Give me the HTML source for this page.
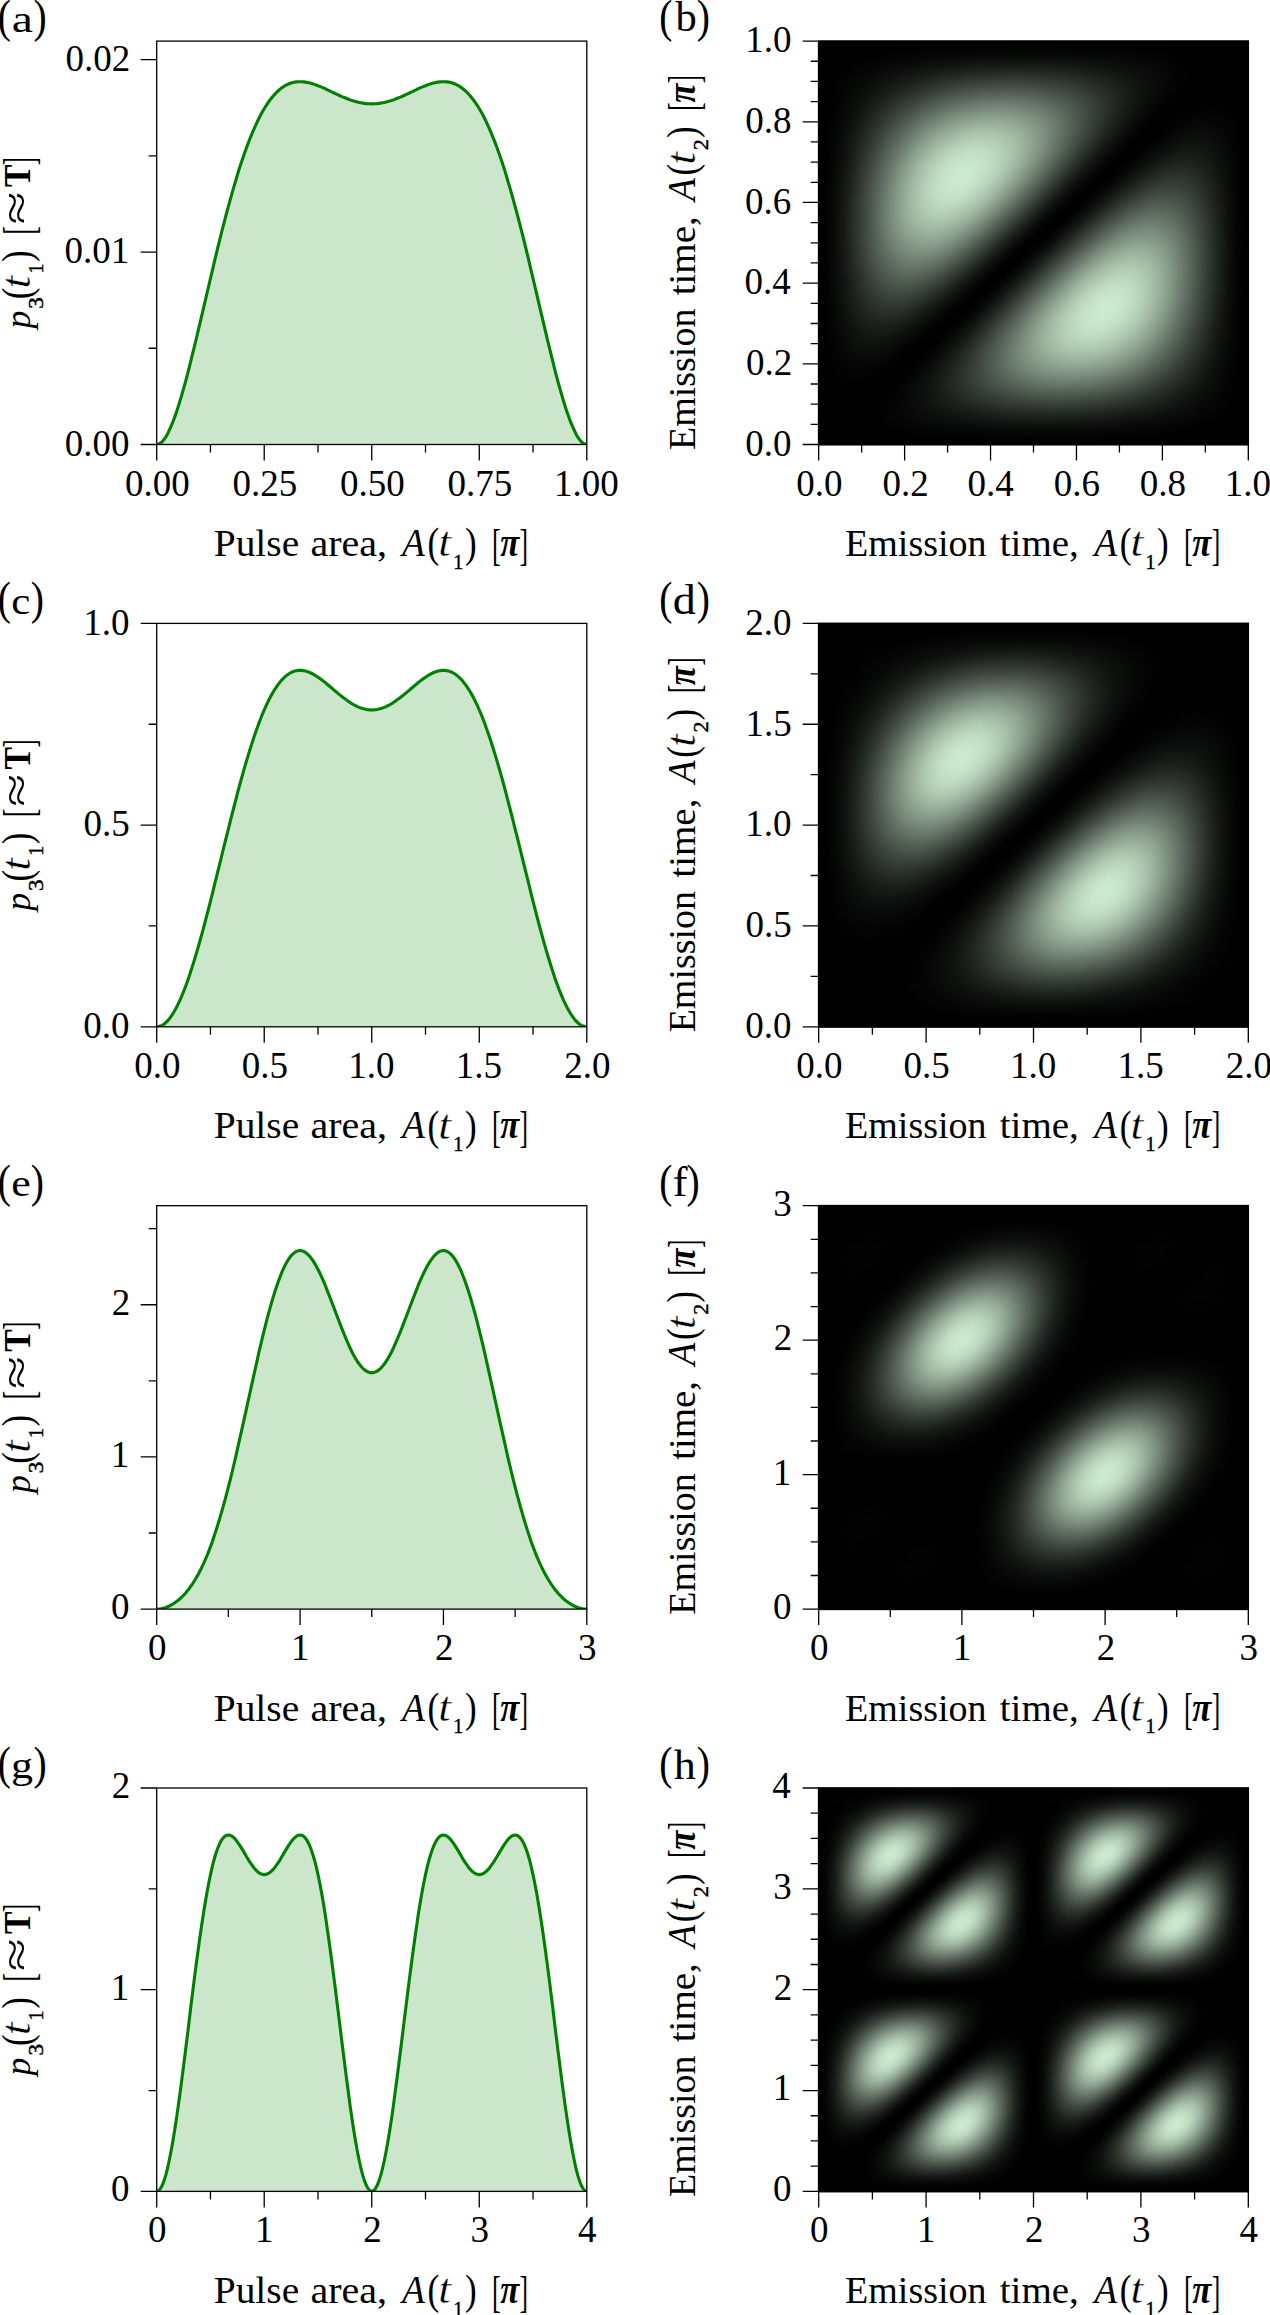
<!DOCTYPE html>
<html lang="en"><head><meta charset="utf-8"><title>Figure</title>
<style>html,body{margin:0;padding:0;background:#fff}svg{display:block}.r,.i,.b,.bi{font-family:"Liberation Serif",serif}.i,.bi{font-style:italic}.b,.bi{font-weight:bold}.sb{font-family:"Liberation Sans",sans-serif;font-weight:bold}</style></head>
<body>
<svg width="1270" height="2315" viewBox="0 0 1270 2315">
<defs>
<linearGradient id="h1r1"><stop offset="0" stop-color="#000000"/><stop offset=".49" stop-color="#030403"/><stop offset="1" stop-color="#000000"/></linearGradient>
<linearGradient id="h1r2"><stop offset="0" stop-color="#000000"/><stop offset=".12" stop-color="#020202"/><stop offset=".3725" stop-color="#0b0c0b"/><stop offset=".48" stop-color="#0c0e0c"/><stop offset=".6025" stop-color="#0a0c0b"/><stop offset=".865" stop-color="#010101"/><stop offset="1" stop-color="#000000"/></linearGradient>
<linearGradient id="h1r3"><stop offset="0" stop-color="#000000"/><stop offset=".0575" stop-color="#010101"/><stop offset=".1175" stop-color="#040404"/><stop offset=".3625" stop-color="#171a17"/><stop offset=".4675" stop-color="#1a1d1a"/><stop offset=".5275" stop-color="#191c19"/><stop offset=".59" stop-color="#161916"/><stop offset=".8525" stop-color="#020202"/><stop offset=".915" stop-color="#000000"/><stop offset="1" stop-color="#000000"/></linearGradient>
<linearGradient id="h1r4"><stop offset="0" stop-color="#000000"/><stop offset=".055" stop-color="#020202"/><stop offset=".115" stop-color="#070707"/><stop offset=".2925" stop-color="#1e231f"/><stop offset=".355" stop-color="#252b26"/><stop offset=".4075" stop-color="#292f2a"/><stop offset=".4575" stop-color="#2a302b"/><stop offset=".515" stop-color="#292f29"/><stop offset=".5775" stop-color="#242924"/><stop offset=".7675" stop-color="#0b0c0b"/><stop offset=".8375" stop-color="#030403"/><stop offset=".8975" stop-color="#000000"/><stop offset="1" stop-color="#000000"/></linearGradient>
<linearGradient id="h1r5"><stop offset="0" stop-color="#000000"/><stop offset=".0525" stop-color="#020302"/><stop offset=".11" stop-color="#090b09"/><stop offset=".1625" stop-color="#131513"/><stop offset=".285" stop-color="#2c322c"/><stop offset=".345" stop-color="#363e36"/><stop offset=".3975" stop-color="#3b443c"/><stop offset=".4475" stop-color="#3d463e"/><stop offset=".505" stop-color="#3b433c"/><stop offset=".565" stop-color="#343b34"/><stop offset=".62" stop-color="#2a302b"/><stop offset=".7525" stop-color="#0f110f"/><stop offset=".8225" stop-color="#040504"/><stop offset=".8825" stop-color="#000000"/><stop offset="1" stop-color="#000000"/></linearGradient>
<linearGradient id="h1r6"><stop offset="0" stop-color="#000000"/><stop offset=".0525" stop-color="#030403"/><stop offset=".1075" stop-color="#0c0e0c"/><stop offset=".16" stop-color="#191d19"/><stop offset=".2775" stop-color="#3a423b"/><stop offset=".3375" stop-color="#475248"/><stop offset=".3875" stop-color="#4e5a50"/><stop offset=".4375" stop-color="#515d52"/><stop offset=".4925" stop-color="#4e594f"/><stop offset=".5525" stop-color="#444e45"/><stop offset=".6075" stop-color="#373f38"/><stop offset=".7375" stop-color="#131614"/><stop offset=".775" stop-color="#0b0c0b"/><stop offset=".8075" stop-color="#050605"/><stop offset=".8625" stop-color="#000000"/><stop offset=".9375" stop-color="#010101"/><stop offset="1" stop-color="#000000"/></linearGradient>
<linearGradient id="h1r7"><stop offset="0" stop-color="#000000"/><stop offset=".025" stop-color="#010101"/><stop offset=".05" stop-color="#040404"/><stop offset=".105" stop-color="#101210"/><stop offset=".155" stop-color="#1f2420"/><stop offset=".27" stop-color="#485349"/><stop offset=".3275" stop-color="#59665a"/><stop offset=".3775" stop-color="#627063"/><stop offset=".4275" stop-color="#657467"/><stop offset=".455" stop-color="#647366"/><stop offset=".4825" stop-color="#616f63"/><stop offset=".54" stop-color="#556257"/><stop offset=".595" stop-color="#454f46"/><stop offset=".7225" stop-color="#171b18"/><stop offset=".76" stop-color="#0d0f0d"/><stop offset=".7925" stop-color="#060706"/><stop offset=".82" stop-color="#020202"/><stop offset=".845" stop-color="#000000"/><stop offset=".9275" stop-color="#020202"/><stop offset="1" stop-color="#000000"/></linearGradient>
<linearGradient id="h1r8"><stop offset="0" stop-color="#000000"/><stop offset=".0225" stop-color="#010101"/><stop offset=".0475" stop-color="#040504"/><stop offset=".0725" stop-color="#0a0b0a"/><stop offset=".1" stop-color="#121512"/><stop offset=".15" stop-color="#252a26"/><stop offset=".2625" stop-color="#566357"/><stop offset=".32" stop-color="#6a7a6c"/><stop offset=".37" stop-color="#758677"/><stop offset=".395" stop-color="#788a7a"/><stop offset=".4175" stop-color="#798a7a"/><stop offset=".4425" stop-color="#788979"/><stop offset=".47" stop-color="#748576"/><stop offset=".4975" stop-color="#6e7f70"/><stop offset=".5275" stop-color="#667567"/><stop offset=".58" stop-color="#525e54"/><stop offset=".7075" stop-color="#1b1f1c"/><stop offset=".745" stop-color="#0e100e"/><stop offset=".7775" stop-color="#060706"/><stop offset=".8025" stop-color="#020202"/><stop offset=".8275" stop-color="#000000"/><stop offset=".9175" stop-color="#040404"/><stop offset="1" stop-color="#000000"/></linearGradient>
<linearGradient id="h1r9"><stop offset="0" stop-color="#000000"/><stop offset=".0225" stop-color="#010101"/><stop offset=".0475" stop-color="#050605"/><stop offset=".0725" stop-color="#0c0e0c"/><stop offset=".0975" stop-color="#151815"/><stop offset=".145" stop-color="#2a312b"/><stop offset=".255" stop-color="#637265"/><stop offset=".2825" stop-color="#6f8071"/><stop offset=".31" stop-color="#7a8c7c"/><stop offset=".335" stop-color="#829583"/><stop offset=".3575" stop-color="#879a89"/><stop offset=".3825" stop-color="#8a9e8c"/><stop offset=".405" stop-color="#8ba08d"/><stop offset=".43" stop-color="#8a9e8c"/><stop offset=".4575" stop-color="#869a88"/><stop offset=".485" stop-color="#809281"/><stop offset=".5125" stop-color="#768878"/><stop offset=".565" stop-color="#606e61"/><stop offset=".6575" stop-color="#2f3630"/><stop offset=".6925" stop-color="#1e231f"/><stop offset=".7275" stop-color="#101310"/><stop offset=".76" stop-color="#060707"/><stop offset=".785" stop-color="#020202"/><stop offset=".8075" stop-color="#000000"/><stop offset=".9075" stop-color="#060606"/><stop offset="1" stop-color="#000000"/></linearGradient>
<linearGradient id="h1r10"><stop offset="0" stop-color="#000000"/><stop offset=".0225" stop-color="#010202"/><stop offset=".045" stop-color="#060706"/><stop offset=".07" stop-color="#0d0f0e"/><stop offset=".095" stop-color="#181b18"/><stop offset=".14" stop-color="#2f3630"/><stop offset=".2475" stop-color="#6f7f70"/><stop offset=".275" stop-color="#7d8f7f"/><stop offset=".3025" stop-color="#899d8b"/><stop offset=".3275" stop-color="#92a794"/><stop offset=".35" stop-color="#97ad9a"/><stop offset=".3725" stop-color="#9bb19d"/><stop offset=".395" stop-color="#9cb39e"/><stop offset=".42" stop-color="#9bb19d"/><stop offset=".445" stop-color="#97ad99"/><stop offset=".4725" stop-color="#8fa491"/><stop offset=".5" stop-color="#859887"/><stop offset=".525" stop-color="#798b7b"/><stop offset=".5525" stop-color="#6a7a6c"/><stop offset=".6425" stop-color="#343c35"/><stop offset=".6775" stop-color="#212621"/><stop offset=".7125" stop-color="#111311"/><stop offset=".745" stop-color="#060706"/><stop offset=".77" stop-color="#010201"/><stop offset=".795" stop-color="#000000"/><stop offset=".87" stop-color="#070807"/><stop offset=".9025" stop-color="#080908"/><stop offset="1" stop-color="#000000"/></linearGradient>
<linearGradient id="h1r11"><stop offset="0" stop-color="#000000"/><stop offset=".02" stop-color="#010201"/><stop offset=".0425" stop-color="#060706"/><stop offset=".065" stop-color="#0e100e"/><stop offset=".09" stop-color="#191c19"/><stop offset=".135" stop-color="#333a34"/><stop offset=".24" stop-color="#798b7b"/><stop offset=".2675" stop-color="#899d8b"/><stop offset=".2925" stop-color="#95ab97"/><stop offset=".3175" stop-color="#9fb6a1"/><stop offset=".34" stop-color="#a5bea8"/><stop offset=".3625" stop-color="#a9c2ac"/><stop offset=".385" stop-color="#abc4ad"/><stop offset=".41" stop-color="#a9c2ac"/><stop offset=".435" stop-color="#a4bda7"/><stop offset=".46" stop-color="#9db49f"/><stop offset=".4875" stop-color="#91a693"/><stop offset=".5125" stop-color="#849786"/><stop offset=".5375" stop-color="#758677"/><stop offset=".625" stop-color="#3a433b"/><stop offset=".66" stop-color="#242925"/><stop offset=".695" stop-color="#121512"/><stop offset=".7275" stop-color="#060706"/><stop offset=".7525" stop-color="#010101"/><stop offset=".775" stop-color="#000000"/><stop offset=".7975" stop-color="#020202"/><stop offset=".855" stop-color="#0a0c0a"/><stop offset=".8925" stop-color="#0c0d0c"/><stop offset=".9175" stop-color="#0a0b0a"/><stop offset=".975" stop-color="#020202"/><stop offset="1" stop-color="#000000"/></linearGradient>
<linearGradient id="h1r12"><stop offset="0" stop-color="#000000"/><stop offset=".02" stop-color="#020202"/><stop offset=".0425" stop-color="#070807"/><stop offset=".065" stop-color="#0f1210"/><stop offset=".0875" stop-color="#1b1f1b"/><stop offset=".13" stop-color="#363e37"/><stop offset=".2325" stop-color="#819483"/><stop offset=".26" stop-color="#93a895"/><stop offset=".285" stop-color="#a0b8a3"/><stop offset=".3075" stop-color="#aac3ac"/><stop offset=".33" stop-color="#b1cbb4"/><stop offset=".3525" stop-color="#b6d0b8"/><stop offset=".375" stop-color="#b7d2ba"/><stop offset=".3975" stop-color="#b6d0b8"/><stop offset=".4225" stop-color="#b1cab3"/><stop offset=".4475" stop-color="#a8c1ab"/><stop offset=".475" stop-color="#9bb29d"/><stop offset=".4975" stop-color="#8ea390"/><stop offset=".5225" stop-color="#7e9080"/><stop offset=".61" stop-color="#3d463e"/><stop offset=".645" stop-color="#252b26"/><stop offset=".68" stop-color="#121412"/><stop offset=".71" stop-color="#060706"/><stop offset=".735" stop-color="#010101"/><stop offset=".7575" stop-color="#000000"/><stop offset=".78" stop-color="#030303"/><stop offset=".8425" stop-color="#0e100e"/><stop offset=".88" stop-color="#101310"/><stop offset=".91" stop-color="#0e100e"/><stop offset=".9725" stop-color="#020302"/><stop offset="1" stop-color="#000000"/></linearGradient>
<linearGradient id="h1r13"><stop offset="0" stop-color="#000000"/><stop offset=".02" stop-color="#020202"/><stop offset=".04" stop-color="#070807"/><stop offset=".0625" stop-color="#101210"/><stop offset=".085" stop-color="#1c211d"/><stop offset=".1275" stop-color="#3a433b"/><stop offset=".2275" stop-color="#899e8b"/><stop offset=".2525" stop-color="#9bb19d"/><stop offset=".2775" stop-color="#a9c2ac"/><stop offset=".3" stop-color="#b3ceb6"/><stop offset=".3225" stop-color="#bbd6be"/><stop offset=".345" stop-color="#bfdbc2"/><stop offset=".365" stop-color="#c1ddc4"/><stop offset=".3875" stop-color="#bfdbc2"/><stop offset=".4125" stop-color="#b9d4bc"/><stop offset=".4375" stop-color="#b0cab3"/><stop offset=".4625" stop-color="#a3bba6"/><stop offset=".485" stop-color="#95ab97"/><stop offset=".51" stop-color="#839685"/><stop offset=".595" stop-color="#3f4940"/><stop offset=".6275" stop-color="#272d28"/><stop offset=".6625" stop-color="#121512"/><stop offset=".6925" stop-color="#060706"/><stop offset=".7175" stop-color="#010101"/><stop offset=".74" stop-color="#000101"/><stop offset=".7625" stop-color="#040504"/><stop offset=".8275" stop-color="#121513"/><stop offset=".8475" stop-color="#151815"/><stop offset=".8675" stop-color="#161916"/><stop offset=".9025" stop-color="#121513"/><stop offset=".9725" stop-color="#030303"/><stop offset="1" stop-color="#000000"/></linearGradient>
<linearGradient id="h1r14"><stop offset="0" stop-color="#000000"/><stop offset=".02" stop-color="#020202"/><stop offset=".04" stop-color="#080908"/><stop offset=".06" stop-color="#101311"/><stop offset=".0825" stop-color="#1e221e"/><stop offset=".1225" stop-color="#3b443c"/><stop offset=".2175" stop-color="#8ca08e"/><stop offset=".2425" stop-color="#9eb6a1"/><stop offset=".2675" stop-color="#aec8b1"/><stop offset=".29" stop-color="#b9d4bc"/><stop offset=".3125" stop-color="#c1dec4"/><stop offset=".335" stop-color="#c6e3c9"/><stop offset=".355" stop-color="#c8e5ca"/><stop offset=".3775" stop-color="#c6e3c9"/><stop offset=".4025" stop-color="#bfdbc2"/><stop offset=".425" stop-color="#b6d1b9"/><stop offset=".45" stop-color="#a9c1ab"/><stop offset=".4725" stop-color="#9ab09c"/><stop offset=".4975" stop-color="#879a89"/><stop offset=".5775" stop-color="#424c43"/><stop offset=".61" stop-color="#292f29"/><stop offset=".645" stop-color="#121512"/><stop offset=".675" stop-color="#050605"/><stop offset=".7" stop-color="#000000"/><stop offset=".7225" stop-color="#010101"/><stop offset=".745" stop-color="#050605"/><stop offset=".8125" stop-color="#181b18"/><stop offset=".835" stop-color="#1b1f1b"/><stop offset=".8575" stop-color="#1c201c"/><stop offset=".895" stop-color="#181b18"/><stop offset=".97" stop-color="#040404"/><stop offset="1" stop-color="#000000"/></linearGradient>
<linearGradient id="h1r15"><stop offset="0" stop-color="#000000"/><stop offset=".0175" stop-color="#020202"/><stop offset=".0375" stop-color="#070807"/><stop offset=".0575" stop-color="#111311"/><stop offset=".08" stop-color="#1e231f"/><stop offset=".1175" stop-color="#3c453d"/><stop offset=".2125" stop-color="#90a592"/><stop offset=".2375" stop-color="#a3bba6"/><stop offset=".26" stop-color="#b2ccb5"/><stop offset=".2825" stop-color="#bed9c0"/><stop offset=".3025" stop-color="#c5e2c8"/><stop offset=".3225" stop-color="#cae8cd"/><stop offset=".3425" stop-color="#cce9cf"/><stop offset=".365" stop-color="#cae8cd"/><stop offset=".3875" stop-color="#c4e1c7"/><stop offset=".41" stop-color="#bbd7be"/><stop offset=".435" stop-color="#adc7b0"/><stop offset=".4575" stop-color="#9eb5a0"/><stop offset=".48" stop-color="#8ca18e"/><stop offset=".5625" stop-color="#424c43"/><stop offset=".595" stop-color="#282d28"/><stop offset=".6275" stop-color="#121512"/><stop offset=".6425" stop-color="#0a0c0b"/><stop offset=".6575" stop-color="#050505"/><stop offset=".6825" stop-color="#000000"/><stop offset=".705" stop-color="#020202"/><stop offset=".7275" stop-color="#070807"/><stop offset=".8" stop-color="#1e231f"/><stop offset=".8225" stop-color="#222723"/><stop offset=".845" stop-color="#242924"/><stop offset=".865" stop-color="#222723"/><stop offset=".885" stop-color="#1f231f"/><stop offset=".9075" stop-color="#191c19"/><stop offset=".9675" stop-color="#050605"/><stop offset=".985" stop-color="#010101"/><stop offset="1" stop-color="#000000"/></linearGradient>
<linearGradient id="h1r16"><stop offset="0" stop-color="#000000"/><stop offset=".0175" stop-color="#020202"/><stop offset=".0375" stop-color="#080908"/><stop offset=".0575" stop-color="#121412"/><stop offset=".0775" stop-color="#1f231f"/><stop offset=".115" stop-color="#3d463e"/><stop offset=".205" stop-color="#91a693"/><stop offset=".2275" stop-color="#a3baa5"/><stop offset=".25" stop-color="#b2ccb5"/><stop offset=".2725" stop-color="#bedac1"/><stop offset=".2925" stop-color="#c6e3c9"/><stop offset=".3125" stop-color="#cbe9ce"/><stop offset=".3325" stop-color="#cdebd0"/><stop offset=".355" stop-color="#cbe9ce"/><stop offset=".3775" stop-color="#c5e2c8"/><stop offset=".4" stop-color="#bbd7be"/><stop offset=".4225" stop-color="#aec8b1"/><stop offset=".445" stop-color="#9eb5a0"/><stop offset=".4675" stop-color="#8ca08e"/><stop offset=".5475" stop-color="#414b42"/><stop offset=".5775" stop-color="#282d28"/><stop offset=".61" stop-color="#111412"/><stop offset=".625" stop-color="#0a0b0a"/><stop offset=".64" stop-color="#040504"/><stop offset=".6625" stop-color="#000000"/><stop offset=".6875" stop-color="#020302"/><stop offset=".71" stop-color="#090a09"/><stop offset=".7625" stop-color="#1d221e"/><stop offset=".785" stop-color="#252a25"/><stop offset=".81" stop-color="#2a312b"/><stop offset=".835" stop-color="#2c332d"/><stop offset=".855" stop-color="#2b312b"/><stop offset=".8775" stop-color="#262c27"/><stop offset=".9025" stop-color="#1e221e"/><stop offset=".965" stop-color="#060706"/><stop offset=".9825" stop-color="#020202"/><stop offset="1" stop-color="#000000"/></linearGradient>
<linearGradient id="h1r17"><stop offset="0" stop-color="#000000"/><stop offset=".0175" stop-color="#020202"/><stop offset=".035" stop-color="#070808"/><stop offset=".0525" stop-color="#101210"/><stop offset=".0725" stop-color="#1d211d"/><stop offset=".11" stop-color="#3c453d"/><stop offset=".1975" stop-color="#8fa491"/><stop offset=".22" stop-color="#a1b9a4"/><stop offset=".2425" stop-color="#b1cbb4"/><stop offset=".2625" stop-color="#bdd8bf"/><stop offset=".2825" stop-color="#c5e2c8"/><stop offset=".3025" stop-color="#cae7cd"/><stop offset=".3225" stop-color="#cceacf"/><stop offset=".3425" stop-color="#cae8cd"/><stop offset=".365" stop-color="#c4e1c7"/><stop offset=".3875" stop-color="#bad6bd"/><stop offset=".41" stop-color="#adc6af"/><stop offset=".43" stop-color="#9eb5a1"/><stop offset=".4525" stop-color="#8ba08d"/><stop offset=".53" stop-color="#424b42"/><stop offset=".56" stop-color="#272d28"/><stop offset=".5775" stop-color="#1a1e1a"/><stop offset=".5925" stop-color="#101311"/><stop offset=".6075" stop-color="#090a09"/><stop offset=".62" stop-color="#040504"/><stop offset=".6425" stop-color="#000000"/><stop offset=".6675" stop-color="#030303"/><stop offset=".6925" stop-color="#0b0d0b"/><stop offset=".7475" stop-color="#242924"/><stop offset=".7725" stop-color="#2d342e"/><stop offset=".8" stop-color="#343c35"/><stop offset=".825" stop-color="#363e37"/><stop offset=".8475" stop-color="#343b34"/><stop offset=".87" stop-color="#2e352f"/><stop offset=".895" stop-color="#252b26"/><stop offset=".9625" stop-color="#070908"/><stop offset=".9825" stop-color="#020202"/><stop offset="1" stop-color="#000000"/></linearGradient>
<linearGradient id="h1r18"><stop offset="0" stop-color="#000000"/><stop offset=".015" stop-color="#020202"/><stop offset=".0325" stop-color="#070807"/><stop offset=".05" stop-color="#0f1210"/><stop offset=".07" stop-color="#1d211d"/><stop offset=".105" stop-color="#3a423b"/><stop offset=".19" stop-color="#8ca08e"/><stop offset=".2125" stop-color="#9eb6a1"/><stop offset=".235" stop-color="#aec8b1"/><stop offset=".255" stop-color="#bad5bc"/><stop offset=".275" stop-color="#c2dec5"/><stop offset=".295" stop-color="#c7e4ca"/><stop offset=".3125" stop-color="#c8e5cb"/><stop offset=".3325" stop-color="#c6e3c9"/><stop offset=".3525" stop-color="#c1ddc4"/><stop offset=".3725" stop-color="#b8d3bb"/><stop offset=".395" stop-color="#abc4ae"/><stop offset=".415" stop-color="#9cb39f"/><stop offset=".4375" stop-color="#899d8b"/><stop offset=".515" stop-color="#3f4840"/><stop offset=".545" stop-color="#242a25"/><stop offset=".575" stop-color="#0f1210"/><stop offset=".59" stop-color="#080908"/><stop offset=".6025" stop-color="#030403"/><stop offset=".625" stop-color="#000000"/><stop offset=".6375" stop-color="#010101"/><stop offset=".65" stop-color="#040404"/><stop offset=".675" stop-color="#0d0f0e"/><stop offset=".7325" stop-color="#2b312b"/><stop offset=".7575" stop-color="#363d36"/><stop offset=".785" stop-color="#3e473e"/><stop offset=".8125" stop-color="#404a41"/><stop offset=".8375" stop-color="#3e473f"/><stop offset=".8625" stop-color="#373f38"/><stop offset=".89" stop-color="#2c322c"/><stop offset=".96" stop-color="#090a09"/><stop offset=".98" stop-color="#030303"/><stop offset="1" stop-color="#000000"/></linearGradient>
<linearGradient id="h1r19"><stop offset="0" stop-color="#000000"/><stop offset=".015" stop-color="#020202"/><stop offset=".0325" stop-color="#070807"/><stop offset=".05" stop-color="#101210"/><stop offset=".0675" stop-color="#1c201c"/><stop offset=".1" stop-color="#373f38"/><stop offset=".185" stop-color="#899d8b"/><stop offset=".2075" stop-color="#9bb29e"/><stop offset=".2275" stop-color="#a9c2ac"/><stop offset=".2475" stop-color="#b5cfb7"/><stop offset=".265" stop-color="#bcd7be"/><stop offset=".285" stop-color="#c1ddc3"/><stop offset=".3025" stop-color="#c2dec5"/><stop offset=".3225" stop-color="#c0dcc3"/><stop offset=".3425" stop-color="#bbd6bd"/><stop offset=".3625" stop-color="#b2ccb4"/><stop offset=".3825" stop-color="#a6bea8"/><stop offset=".4025" stop-color="#97ad99"/><stop offset=".425" stop-color="#849786"/><stop offset=".4975" stop-color="#3d463e"/><stop offset=".5275" stop-color="#232823"/><stop offset=".5425" stop-color="#181b18"/><stop offset=".5575" stop-color="#0e100e"/><stop offset=".5825" stop-color="#030403"/><stop offset=".595" stop-color="#010101"/><stop offset=".6075" stop-color="#000000"/><stop offset=".62" stop-color="#020202"/><stop offset=".6325" stop-color="#050605"/><stop offset=".66" stop-color="#111411"/><stop offset=".7175" stop-color="#323933"/><stop offset=".745" stop-color="#3f4940"/><stop offset=".775" stop-color="#49544a"/><stop offset=".8025" stop-color="#4c574d"/><stop offset=".8275" stop-color="#49544a"/><stop offset=".855" stop-color="#414b42"/><stop offset=".8825" stop-color="#343c35"/><stop offset=".935" stop-color="#161917"/><stop offset=".9575" stop-color="#0b0c0b"/><stop offset=".98" stop-color="#030303"/><stop offset="1" stop-color="#000000"/></linearGradient>
<linearGradient id="h1r20"><stop offset="0" stop-color="#000000"/><stop offset=".015" stop-color="#020202"/><stop offset=".03" stop-color="#060706"/><stop offset=".0475" stop-color="#0f110f"/><stop offset=".065" stop-color="#1b1f1b"/><stop offset=".0975" stop-color="#363e37"/><stop offset=".1775" stop-color="#829684"/><stop offset=".1975" stop-color="#93a995"/><stop offset=".2175" stop-color="#a1b9a4"/><stop offset=".2375" stop-color="#adc6af"/><stop offset=".255" stop-color="#b4ceb6"/><stop offset=".275" stop-color="#b9d4bb"/><stop offset=".2925" stop-color="#bad5bd"/><stop offset=".31" stop-color="#b8d3bb"/><stop offset=".33" stop-color="#b3cdb6"/><stop offset=".35" stop-color="#aac3ad"/><stop offset=".37" stop-color="#9fb6a1"/><stop offset=".39" stop-color="#90a592"/><stop offset=".41" stop-color="#7f9181"/><stop offset=".4825" stop-color="#39423a"/><stop offset=".51" stop-color="#212622"/><stop offset=".525" stop-color="#161916"/><stop offset=".54" stop-color="#0d0f0d"/><stop offset=".5525" stop-color="#070807"/><stop offset=".565" stop-color="#020302"/><stop offset=".5775" stop-color="#000000"/><stop offset=".59" stop-color="#000000"/><stop offset=".6025" stop-color="#030303"/><stop offset=".615" stop-color="#070807"/><stop offset=".6425" stop-color="#141714"/><stop offset=".7025" stop-color="#3a433b"/><stop offset=".7325" stop-color="#4a554b"/><stop offset=".7625" stop-color="#556156"/><stop offset=".7775" stop-color="#576459"/><stop offset=".7925" stop-color="#586559"/><stop offset=".8175" stop-color="#556257"/><stop offset=".845" stop-color="#4d584e"/><stop offset=".875" stop-color="#3d463e"/><stop offset=".9325" stop-color="#191d1a"/><stop offset=".955" stop-color="#0d0e0d"/><stop offset=".98" stop-color="#030303"/><stop offset="1" stop-color="#000000"/></linearGradient>
<linearGradient id="h1r21"><stop offset="0" stop-color="#000000"/><stop offset=".015" stop-color="#020202"/><stop offset=".03" stop-color="#060707"/><stop offset=".045" stop-color="#0e100e"/><stop offset=".0625" stop-color="#191d1a"/><stop offset=".0925" stop-color="#323933"/><stop offset=".17" stop-color="#7b8d7d"/><stop offset=".19" stop-color="#8ba08d"/><stop offset=".21" stop-color="#99b09b"/><stop offset=".2275" stop-color="#a3bba5"/><stop offset=".245" stop-color="#aac3ad"/><stop offset=".2625" stop-color="#afc8b1"/><stop offset=".28" stop-color="#b0cab3"/><stop offset=".2975" stop-color="#afc9b2"/><stop offset=".3175" stop-color="#aac3ad"/><stop offset=".3375" stop-color="#a2b9a4"/><stop offset=".3575" stop-color="#96ac98"/><stop offset=".375" stop-color="#899d8b"/><stop offset=".395" stop-color="#798a7b"/><stop offset=".465" stop-color="#373f38"/><stop offset=".4925" stop-color="#1f241f"/><stop offset=".52" stop-color="#0c0e0d"/><stop offset=".5325" stop-color="#060707"/><stop offset=".545" stop-color="#020302"/><stop offset=".5575" stop-color="#000000"/><stop offset=".57" stop-color="#000000"/><stop offset=".5825" stop-color="#030303"/><stop offset=".595" stop-color="#070807"/><stop offset=".625" stop-color="#171b18"/><stop offset=".6875" stop-color="#424c43"/><stop offset=".7175" stop-color="#546055"/><stop offset=".735" stop-color="#5c695d"/><stop offset=".75" stop-color="#616f62"/><stop offset=".7675" stop-color="#647366"/><stop offset=".7825" stop-color="#657466"/><stop offset=".81" stop-color="#617063"/><stop offset=".8375" stop-color="#586459"/><stop offset=".87" stop-color="#465047"/><stop offset=".93" stop-color="#1c201d"/><stop offset=".9525" stop-color="#0e110f"/><stop offset=".9775" stop-color="#040404"/><stop offset="1" stop-color="#000000"/></linearGradient>
<linearGradient id="h1r22"><stop offset="0" stop-color="#000000"/><stop offset=".0125" stop-color="#010101"/><stop offset=".0275" stop-color="#060606"/><stop offset=".0425" stop-color="#0d0f0d"/><stop offset=".06" stop-color="#181b18"/><stop offset=".09" stop-color="#303731"/><stop offset=".1625" stop-color="#728374"/><stop offset=".1825" stop-color="#829584"/><stop offset=".2025" stop-color="#90a592"/><stop offset=".22" stop-color="#99b09c"/><stop offset=".2375" stop-color="#a0b8a3"/><stop offset=".255" stop-color="#a4bca7"/><stop offset=".27" stop-color="#a5bea8"/><stop offset=".2875" stop-color="#a4bca7"/><stop offset=".305" stop-color="#a0b7a2"/><stop offset=".3225" stop-color="#99af9b"/><stop offset=".3425" stop-color="#8ea390"/><stop offset=".36" stop-color="#829584"/><stop offset=".38" stop-color="#728273"/><stop offset=".45" stop-color="#323932"/><stop offset=".475" stop-color="#1d211d"/><stop offset=".5025" stop-color="#0b0c0b"/><stop offset=".515" stop-color="#050605"/><stop offset=".5275" stop-color="#020202"/><stop offset=".54" stop-color="#000000"/><stop offset=".5525" stop-color="#010101"/><stop offset=".565" stop-color="#040504"/><stop offset=".5775" stop-color="#090a09"/><stop offset=".6075" stop-color="#1a1e1b"/><stop offset=".6725" stop-color="#4b564c"/><stop offset=".705" stop-color="#5f6d61"/><stop offset=".7225" stop-color="#687769"/><stop offset=".7375" stop-color="#6d7d6f"/><stop offset=".755" stop-color="#718273"/><stop offset=".77" stop-color="#728374"/><stop offset=".785" stop-color="#718273"/><stop offset=".8" stop-color="#6e7f70"/><stop offset=".815" stop-color="#6a796b"/><stop offset=".83" stop-color="#637164"/><stop offset=".8625" stop-color="#4f5b51"/><stop offset=".925" stop-color="#212621"/><stop offset=".95" stop-color="#101311"/><stop offset=".965" stop-color="#090a09"/><stop offset=".9775" stop-color="#040404"/><stop offset="1" stop-color="#000000"/></linearGradient>
<linearGradient id="h1r23"><stop offset="0" stop-color="#000000"/><stop offset=".0125" stop-color="#010101"/><stop offset=".0275" stop-color="#060606"/><stop offset=".0425" stop-color="#0d0f0d"/><stop offset=".0575" stop-color="#161916"/><stop offset=".085" stop-color="#2b322c"/><stop offset=".155" stop-color="#69796b"/><stop offset=".175" stop-color="#798a7a"/><stop offset=".1925" stop-color="#849886"/><stop offset=".21" stop-color="#8ea290"/><stop offset=".2275" stop-color="#94aa96"/><stop offset=".245" stop-color="#98af9b"/><stop offset=".26" stop-color="#99b09c"/><stop offset=".2775" stop-color="#98ae9a"/><stop offset=".295" stop-color="#94a996"/><stop offset=".3125" stop-color="#8da18f"/><stop offset=".33" stop-color="#839685"/><stop offset=".3475" stop-color="#778979"/><stop offset=".3675" stop-color="#687769"/><stop offset=".4325" stop-color="#2e352f"/><stop offset=".4575" stop-color="#1a1e1b"/><stop offset=".485" stop-color="#090b09"/><stop offset=".5075" stop-color="#010201"/><stop offset=".52" stop-color="#000000"/><stop offset=".5325" stop-color="#010101"/><stop offset=".545" stop-color="#040504"/><stop offset=".56" stop-color="#0b0c0b"/><stop offset=".59" stop-color="#1e221e"/><stop offset=".6575" stop-color="#535f55"/><stop offset=".69" stop-color="#6a796b"/><stop offset=".7075" stop-color="#738475"/><stop offset=".725" stop-color="#7a8c7c"/><stop offset=".7425" stop-color="#7e9080"/><stop offset=".76" stop-color="#809281"/><stop offset=".775" stop-color="#7f9180"/><stop offset=".79" stop-color="#7b8e7d"/><stop offset=".805" stop-color="#768878"/><stop offset=".8225" stop-color="#6e7e70"/><stop offset=".84" stop-color="#647265"/><stop offset=".8575" stop-color="#586459"/><stop offset=".9225" stop-color="#242924"/><stop offset=".9475" stop-color="#121513"/><stop offset=".9625" stop-color="#0a0b0a"/><stop offset=".975" stop-color="#050505"/><stop offset=".9875" stop-color="#010101"/><stop offset="1" stop-color="#000000"/></linearGradient>
<linearGradient id="h1r24"><stop offset="0" stop-color="#000000"/><stop offset=".0125" stop-color="#010101"/><stop offset=".025" stop-color="#050505"/><stop offset=".04" stop-color="#0b0d0b"/><stop offset=".055" stop-color="#141715"/><stop offset=".0825" stop-color="#292f29"/><stop offset=".15" stop-color="#627063"/><stop offset=".1675" stop-color="#6e7f70"/><stop offset=".185" stop-color="#798b7b"/><stop offset=".2025" stop-color="#829584"/><stop offset=".2175" stop-color="#889c8a"/><stop offset=".235" stop-color="#8ca08e"/><stop offset=".25" stop-color="#8da18f"/><stop offset=".265" stop-color="#8ca08e"/><stop offset=".2825" stop-color="#889c8a"/><stop offset=".2975" stop-color="#829584"/><stop offset=".315" stop-color="#798b7b"/><stop offset=".3325" stop-color="#6e7f70"/><stop offset=".35" stop-color="#627063"/><stop offset=".4175" stop-color="#292f29"/><stop offset=".445" stop-color="#141715"/><stop offset=".46" stop-color="#0b0d0b"/><stop offset=".475" stop-color="#050505"/><stop offset=".4875" stop-color="#010101"/><stop offset=".5" stop-color="#000000"/><stop offset=".5125" stop-color="#010101"/><stop offset=".525" stop-color="#050505"/><stop offset=".54" stop-color="#0b0d0b"/><stop offset=".555" stop-color="#141715"/><stop offset=".5825" stop-color="#292f29"/><stop offset=".6525" stop-color="#647265"/><stop offset=".6725" stop-color="#728273"/><stop offset=".6925" stop-color="#7d907f"/><stop offset=".7125" stop-color="#869a88"/><stop offset=".7325" stop-color="#8ba08d"/><stop offset=".75" stop-color="#8da18f"/><stop offset=".77" stop-color="#8b9f8d"/><stop offset=".785" stop-color="#879b89"/><stop offset=".8" stop-color="#819483"/><stop offset=".83" stop-color="#708172"/><stop offset=".86" stop-color="#5a675b"/><stop offset=".925" stop-color="#232823"/><stop offset=".9525" stop-color="#101210"/><stop offset=".9775" stop-color="#040404"/><stop offset=".99" stop-color="#010101"/><stop offset="1" stop-color="#000000"/></linearGradient>
<linearGradient id="h1r25"><stop offset="0" stop-color="#000000"/><stop offset=".0125" stop-color="#010101"/><stop offset=".025" stop-color="#050505"/><stop offset=".0375" stop-color="#0a0b0a"/><stop offset=".0525" stop-color="#121513"/><stop offset=".0775" stop-color="#242924"/><stop offset=".1425" stop-color="#586459"/><stop offset=".16" stop-color="#647265"/><stop offset=".1775" stop-color="#6e7e70"/><stop offset=".195" stop-color="#768878"/><stop offset=".21" stop-color="#7b8e7d"/><stop offset=".225" stop-color="#7f9180"/><stop offset=".24" stop-color="#809281"/><stop offset=".2575" stop-color="#7e9080"/><stop offset=".275" stop-color="#7a8c7c"/><stop offset=".2925" stop-color="#738475"/><stop offset=".31" stop-color="#6a796b"/><stop offset=".3425" stop-color="#535f55"/><stop offset=".41" stop-color="#1e221e"/><stop offset=".44" stop-color="#0b0c0b"/><stop offset=".455" stop-color="#040504"/><stop offset=".4675" stop-color="#010101"/><stop offset=".48" stop-color="#000000"/><stop offset=".4925" stop-color="#010201"/><stop offset=".515" stop-color="#090b09"/><stop offset=".5425" stop-color="#1a1e1b"/><stop offset=".5675" stop-color="#2e352f"/><stop offset=".6325" stop-color="#687769"/><stop offset=".6525" stop-color="#778979"/><stop offset=".67" stop-color="#839685"/><stop offset=".6875" stop-color="#8da18f"/><stop offset=".705" stop-color="#94a996"/><stop offset=".7225" stop-color="#98ae9a"/><stop offset=".74" stop-color="#99b09c"/><stop offset=".755" stop-color="#98af9b"/><stop offset=".7725" stop-color="#94aa96"/><stop offset=".79" stop-color="#8ea290"/><stop offset=".8075" stop-color="#849886"/><stop offset=".825" stop-color="#798a7a"/><stop offset=".845" stop-color="#69796b"/><stop offset=".915" stop-color="#2b322c"/><stop offset=".9425" stop-color="#161916"/><stop offset=".9575" stop-color="#0d0f0d"/><stop offset=".9725" stop-color="#060606"/><stop offset=".9875" stop-color="#010101"/><stop offset="1" stop-color="#000000"/></linearGradient>
<linearGradient id="h1r26"><stop offset="0" stop-color="#000000"/><stop offset=".0225" stop-color="#040404"/><stop offset=".035" stop-color="#090a09"/><stop offset=".05" stop-color="#101311"/><stop offset=".075" stop-color="#212621"/><stop offset=".1375" stop-color="#4f5b51"/><stop offset=".17" stop-color="#637164"/><stop offset=".185" stop-color="#6a796b"/><stop offset=".2" stop-color="#6e7f70"/><stop offset=".215" stop-color="#718273"/><stop offset=".23" stop-color="#728374"/><stop offset=".245" stop-color="#718273"/><stop offset=".2625" stop-color="#6d7d6f"/><stop offset=".2775" stop-color="#687769"/><stop offset=".295" stop-color="#5f6d61"/><stop offset=".3275" stop-color="#4b564c"/><stop offset=".3925" stop-color="#1a1e1b"/><stop offset=".4225" stop-color="#090a09"/><stop offset=".435" stop-color="#040504"/><stop offset=".4475" stop-color="#010101"/><stop offset=".46" stop-color="#000000"/><stop offset=".4725" stop-color="#020202"/><stop offset=".485" stop-color="#050605"/><stop offset=".4975" stop-color="#0b0c0b"/><stop offset=".525" stop-color="#1d211d"/><stop offset=".55" stop-color="#323932"/><stop offset=".62" stop-color="#728273"/><stop offset=".64" stop-color="#829584"/><stop offset=".6575" stop-color="#8ea390"/><stop offset=".6775" stop-color="#99af9b"/><stop offset=".695" stop-color="#a0b7a2"/><stop offset=".7125" stop-color="#a4bca7"/><stop offset=".73" stop-color="#a5bea8"/><stop offset=".745" stop-color="#a4bca7"/><stop offset=".7625" stop-color="#a0b8a3"/><stop offset=".78" stop-color="#99b09c"/><stop offset=".7975" stop-color="#90a592"/><stop offset=".8175" stop-color="#829584"/><stop offset=".8375" stop-color="#728374"/><stop offset=".91" stop-color="#303731"/><stop offset=".94" stop-color="#181b18"/><stop offset=".9575" stop-color="#0d0f0d"/><stop offset=".9725" stop-color="#060606"/><stop offset=".9875" stop-color="#010101"/><stop offset="1" stop-color="#000000"/></linearGradient>
<linearGradient id="h1r27"><stop offset="0" stop-color="#000000"/><stop offset=".0225" stop-color="#040404"/><stop offset=".0475" stop-color="#0e110f"/><stop offset=".07" stop-color="#1c201d"/><stop offset=".13" stop-color="#465047"/><stop offset=".1625" stop-color="#586459"/><stop offset=".19" stop-color="#617063"/><stop offset=".2175" stop-color="#657466"/><stop offset=".2325" stop-color="#647366"/><stop offset=".25" stop-color="#616f62"/><stop offset=".265" stop-color="#5c695d"/><stop offset=".2825" stop-color="#546055"/><stop offset=".3125" stop-color="#424c43"/><stop offset=".375" stop-color="#171b18"/><stop offset=".405" stop-color="#070807"/><stop offset=".4175" stop-color="#030303"/><stop offset=".43" stop-color="#000000"/><stop offset=".4425" stop-color="#000000"/><stop offset=".455" stop-color="#020302"/><stop offset=".4675" stop-color="#060707"/><stop offset=".48" stop-color="#0c0e0d"/><stop offset=".5075" stop-color="#1f241f"/><stop offset=".535" stop-color="#373f38"/><stop offset=".605" stop-color="#798a7b"/><stop offset=".625" stop-color="#899d8b"/><stop offset=".6425" stop-color="#96ac98"/><stop offset=".6625" stop-color="#a2b9a4"/><stop offset=".68" stop-color="#a9c2ac"/><stop offset=".7" stop-color="#afc8b1"/><stop offset=".7175" stop-color="#b0cab3"/><stop offset=".735" stop-color="#afc9b2"/><stop offset=".7525" stop-color="#abc4ae"/><stop offset=".77" stop-color="#a4bca7"/><stop offset=".79" stop-color="#99b09b"/><stop offset=".81" stop-color="#8ba08d"/><stop offset=".83" stop-color="#7b8d7d"/><stop offset=".9075" stop-color="#323933"/><stop offset=".9375" stop-color="#191d1a"/><stop offset=".955" stop-color="#0e100e"/><stop offset=".97" stop-color="#060707"/><stop offset=".985" stop-color="#020202"/><stop offset="1" stop-color="#000000"/></linearGradient>
<linearGradient id="h1r28"><stop offset="0" stop-color="#000000"/><stop offset=".02" stop-color="#030303"/><stop offset=".045" stop-color="#0d0e0d"/><stop offset=".0675" stop-color="#191d1a"/><stop offset=".125" stop-color="#3d463e"/><stop offset=".155" stop-color="#4d584e"/><stop offset=".1825" stop-color="#556257"/><stop offset=".2075" stop-color="#586559"/><stop offset=".2225" stop-color="#576459"/><stop offset=".2375" stop-color="#556156"/><stop offset=".2675" stop-color="#4a554b"/><stop offset=".2975" stop-color="#3a433b"/><stop offset=".3575" stop-color="#141714"/><stop offset=".385" stop-color="#070807"/><stop offset=".3975" stop-color="#030303"/><stop offset=".41" stop-color="#000000"/><stop offset=".4225" stop-color="#000000"/><stop offset=".435" stop-color="#020302"/><stop offset=".4475" stop-color="#070807"/><stop offset=".46" stop-color="#0d0f0d"/><stop offset=".475" stop-color="#161916"/><stop offset=".49" stop-color="#212622"/><stop offset=".5175" stop-color="#39423a"/><stop offset=".59" stop-color="#7f9181"/><stop offset=".61" stop-color="#90a592"/><stop offset=".63" stop-color="#9fb6a1"/><stop offset=".65" stop-color="#aac3ad"/><stop offset=".67" stop-color="#b3cdb6"/><stop offset=".69" stop-color="#b8d3bb"/><stop offset=".7075" stop-color="#bad5bd"/><stop offset=".725" stop-color="#b9d4bb"/><stop offset=".745" stop-color="#b4ceb6"/><stop offset=".7625" stop-color="#adc6af"/><stop offset=".7825" stop-color="#a1b9a4"/><stop offset=".8025" stop-color="#93a995"/><stop offset=".8225" stop-color="#829684"/><stop offset=".9025" stop-color="#363e37"/><stop offset=".935" stop-color="#1b1f1b"/><stop offset=".9525" stop-color="#0f110f"/><stop offset=".97" stop-color="#060706"/><stop offset=".985" stop-color="#020202"/><stop offset="1" stop-color="#000000"/></linearGradient>
<linearGradient id="h1r29"><stop offset="0" stop-color="#000000"/><stop offset=".02" stop-color="#030303"/><stop offset=".0425" stop-color="#0b0c0b"/><stop offset=".065" stop-color="#161917"/><stop offset=".1175" stop-color="#343c35"/><stop offset=".145" stop-color="#414b42"/><stop offset=".1725" stop-color="#49544a"/><stop offset=".1975" stop-color="#4c574d"/><stop offset=".225" stop-color="#49544a"/><stop offset=".255" stop-color="#3f4940"/><stop offset=".2825" stop-color="#323933"/><stop offset=".34" stop-color="#111411"/><stop offset=".3675" stop-color="#050605"/><stop offset=".38" stop-color="#020202"/><stop offset=".3925" stop-color="#000000"/><stop offset=".405" stop-color="#010101"/><stop offset=".4175" stop-color="#030403"/><stop offset=".4425" stop-color="#0e100e"/><stop offset=".4575" stop-color="#181b18"/><stop offset=".4725" stop-color="#232823"/><stop offset=".5025" stop-color="#3d463e"/><stop offset=".575" stop-color="#849786"/><stop offset=".5975" stop-color="#97ad99"/><stop offset=".6175" stop-color="#a6bea8"/><stop offset=".6375" stop-color="#b2ccb4"/><stop offset=".6575" stop-color="#bbd6bd"/><stop offset=".6775" stop-color="#c0dcc3"/><stop offset=".6975" stop-color="#c2dec5"/><stop offset=".715" stop-color="#c1ddc3"/><stop offset=".735" stop-color="#bcd7be"/><stop offset=".7525" stop-color="#b5cfb7"/><stop offset=".7725" stop-color="#a9c2ac"/><stop offset=".7925" stop-color="#9bb29e"/><stop offset=".815" stop-color="#899d8b"/><stop offset=".9" stop-color="#373f38"/><stop offset=".9325" stop-color="#1c201c"/><stop offset=".95" stop-color="#101210"/><stop offset=".9675" stop-color="#070807"/><stop offset=".985" stop-color="#020202"/><stop offset="1" stop-color="#000000"/></linearGradient>
<linearGradient id="h1r30"><stop offset="0" stop-color="#000000"/><stop offset=".02" stop-color="#030303"/><stop offset=".04" stop-color="#090a09"/><stop offset=".11" stop-color="#2c322c"/><stop offset=".1375" stop-color="#373f38"/><stop offset=".1625" stop-color="#3e473f"/><stop offset=".1875" stop-color="#404a41"/><stop offset=".215" stop-color="#3e473e"/><stop offset=".2425" stop-color="#363d36"/><stop offset=".2675" stop-color="#2b312b"/><stop offset=".325" stop-color="#0d0f0e"/><stop offset=".35" stop-color="#040404"/><stop offset=".3625" stop-color="#010101"/><stop offset=".375" stop-color="#000000"/><stop offset=".3975" stop-color="#030403"/><stop offset=".41" stop-color="#080908"/><stop offset=".425" stop-color="#0f1210"/><stop offset=".455" stop-color="#242a25"/><stop offset=".485" stop-color="#3f4840"/><stop offset=".5625" stop-color="#899d8b"/><stop offset=".585" stop-color="#9cb39f"/><stop offset=".605" stop-color="#abc4ae"/><stop offset=".6275" stop-color="#b8d3bb"/><stop offset=".6475" stop-color="#c1ddc4"/><stop offset=".6675" stop-color="#c6e3c9"/><stop offset=".6875" stop-color="#c8e5cb"/><stop offset=".705" stop-color="#c7e4ca"/><stop offset=".725" stop-color="#c2dec5"/><stop offset=".745" stop-color="#bad5bc"/><stop offset=".765" stop-color="#aec8b1"/><stop offset=".7875" stop-color="#9eb6a1"/><stop offset=".81" stop-color="#8ca08e"/><stop offset=".895" stop-color="#3a423b"/><stop offset=".93" stop-color="#1d211d"/><stop offset=".95" stop-color="#0f1210"/><stop offset=".9675" stop-color="#070807"/><stop offset=".985" stop-color="#020202"/><stop offset="1" stop-color="#000000"/></linearGradient>
<linearGradient id="h1r31"><stop offset="0" stop-color="#000000"/><stop offset=".0175" stop-color="#020202"/><stop offset=".0375" stop-color="#070908"/><stop offset=".105" stop-color="#252b26"/><stop offset=".13" stop-color="#2e352f"/><stop offset=".1525" stop-color="#343b34"/><stop offset=".175" stop-color="#363e37"/><stop offset=".2" stop-color="#343c35"/><stop offset=".2275" stop-color="#2d342e"/><stop offset=".2525" stop-color="#242924"/><stop offset=".3075" stop-color="#0b0d0b"/><stop offset=".3325" stop-color="#030303"/><stop offset=".3575" stop-color="#000000"/><stop offset=".38" stop-color="#040504"/><stop offset=".3925" stop-color="#090a09"/><stop offset=".4075" stop-color="#101311"/><stop offset=".4225" stop-color="#1a1e1a"/><stop offset=".44" stop-color="#272d28"/><stop offset=".47" stop-color="#424b42"/><stop offset=".5475" stop-color="#8ba08d"/><stop offset=".57" stop-color="#9eb5a1"/><stop offset=".59" stop-color="#adc6af"/><stop offset=".6125" stop-color="#bad6bd"/><stop offset=".635" stop-color="#c4e1c7"/><stop offset=".6575" stop-color="#cae8cd"/><stop offset=".6775" stop-color="#cceacf"/><stop offset=".6975" stop-color="#cae7cd"/><stop offset=".7175" stop-color="#c5e2c8"/><stop offset=".7375" stop-color="#bdd8bf"/><stop offset=".7575" stop-color="#b1cbb4"/><stop offset=".78" stop-color="#a1b9a4"/><stop offset=".8025" stop-color="#8fa491"/><stop offset=".89" stop-color="#3c453d"/><stop offset=".9275" stop-color="#1d211d"/><stop offset=".9475" stop-color="#101210"/><stop offset=".965" stop-color="#070808"/><stop offset=".9825" stop-color="#020202"/><stop offset="1" stop-color="#000000"/></linearGradient>
<linearGradient id="h1r32"><stop offset="0" stop-color="#000000"/><stop offset=".0175" stop-color="#020202"/><stop offset=".035" stop-color="#060706"/><stop offset=".0975" stop-color="#1e221e"/><stop offset=".1225" stop-color="#262c27"/><stop offset=".145" stop-color="#2b312b"/><stop offset=".165" stop-color="#2c332d"/><stop offset=".19" stop-color="#2a312b"/><stop offset=".215" stop-color="#252a25"/><stop offset=".2375" stop-color="#1d221e"/><stop offset=".29" stop-color="#090a09"/><stop offset=".3125" stop-color="#020302"/><stop offset=".3375" stop-color="#000000"/><stop offset=".36" stop-color="#040504"/><stop offset=".375" stop-color="#0a0b0a"/><stop offset=".39" stop-color="#111412"/><stop offset=".4225" stop-color="#282d28"/><stop offset=".4525" stop-color="#414b42"/><stop offset=".5325" stop-color="#8ca08e"/><stop offset=".555" stop-color="#9eb5a0"/><stop offset=".5775" stop-color="#aec8b1"/><stop offset=".6" stop-color="#bbd7be"/><stop offset=".6225" stop-color="#c5e2c8"/><stop offset=".645" stop-color="#cbe9ce"/><stop offset=".6675" stop-color="#cdebd0"/><stop offset=".6875" stop-color="#cbe9ce"/><stop offset=".7075" stop-color="#c6e3c9"/><stop offset=".7275" stop-color="#bedac1"/><stop offset=".75" stop-color="#b2ccb5"/><stop offset=".7725" stop-color="#a3baa5"/><stop offset=".795" stop-color="#91a693"/><stop offset=".885" stop-color="#3d463e"/><stop offset=".9225" stop-color="#1f231f"/><stop offset=".9425" stop-color="#121412"/><stop offset=".9625" stop-color="#080908"/><stop offset=".9825" stop-color="#020202"/><stop offset="1" stop-color="#000000"/></linearGradient>
<linearGradient id="h1r33"><stop offset="0" stop-color="#000000"/><stop offset=".015" stop-color="#010101"/><stop offset=".0325" stop-color="#050605"/><stop offset=".0925" stop-color="#191c19"/><stop offset=".115" stop-color="#1f231f"/><stop offset=".135" stop-color="#222723"/><stop offset=".155" stop-color="#242924"/><stop offset=".1775" stop-color="#222723"/><stop offset=".2" stop-color="#1e231f"/><stop offset=".2725" stop-color="#070807"/><stop offset=".295" stop-color="#020202"/><stop offset=".3175" stop-color="#000000"/><stop offset=".3425" stop-color="#050505"/><stop offset=".3575" stop-color="#0a0c0b"/><stop offset=".3725" stop-color="#121512"/><stop offset=".405" stop-color="#282d28"/><stop offset=".4375" stop-color="#424c43"/><stop offset=".52" stop-color="#8ca18e"/><stop offset=".5425" stop-color="#9eb5a0"/><stop offset=".565" stop-color="#adc7b0"/><stop offset=".5875" stop-color="#bad5bd"/><stop offset=".61" stop-color="#c4e0c6"/><stop offset=".6325" stop-color="#cae7cc"/><stop offset=".655" stop-color="#cce9cf"/><stop offset=".675" stop-color="#cae8cd"/><stop offset=".6975" stop-color="#c5e2c8"/><stop offset=".7175" stop-color="#bed9c0"/><stop offset=".74" stop-color="#b2ccb5"/><stop offset=".7625" stop-color="#a3bba6"/><stop offset=".7875" stop-color="#90a592"/><stop offset=".8825" stop-color="#3c453d"/><stop offset=".92" stop-color="#1e231f"/><stop offset=".9425" stop-color="#111311"/><stop offset=".9625" stop-color="#070807"/><stop offset=".9825" stop-color="#020202"/><stop offset="1" stop-color="#000000"/></linearGradient>
<linearGradient id="h1r34"><stop offset="0" stop-color="#000000"/><stop offset=".03" stop-color="#040404"/><stop offset=".105" stop-color="#181b18"/><stop offset=".1425" stop-color="#1c201c"/><stop offset=".165" stop-color="#1b1f1b"/><stop offset=".1875" stop-color="#181b18"/><stop offset=".255" stop-color="#050605"/><stop offset=".2775" stop-color="#010101"/><stop offset=".3" stop-color="#000000"/><stop offset=".325" stop-color="#050605"/><stop offset=".355" stop-color="#121512"/><stop offset=".39" stop-color="#292f29"/><stop offset=".4225" stop-color="#424c43"/><stop offset=".5025" stop-color="#879a89"/><stop offset=".5275" stop-color="#9ab09c"/><stop offset=".55" stop-color="#a9c1ab"/><stop offset=".575" stop-color="#b6d1b9"/><stop offset=".5975" stop-color="#bfdbc2"/><stop offset=".6225" stop-color="#c6e3c9"/><stop offset=".645" stop-color="#c8e5ca"/><stop offset=".665" stop-color="#c6e3c9"/><stop offset=".6875" stop-color="#c1dec4"/><stop offset=".71" stop-color="#b9d4bc"/><stop offset=".7325" stop-color="#aec8b1"/><stop offset=".7575" stop-color="#9eb6a1"/><stop offset=".7825" stop-color="#8ca08e"/><stop offset=".8775" stop-color="#3b443c"/><stop offset=".9175" stop-color="#1e221e"/><stop offset=".94" stop-color="#101311"/><stop offset=".96" stop-color="#080908"/><stop offset=".98" stop-color="#020202"/><stop offset="1" stop-color="#000000"/></linearGradient>
<linearGradient id="h1r35"><stop offset="0" stop-color="#000000"/><stop offset=".0275" stop-color="#030303"/><stop offset=".0975" stop-color="#121513"/><stop offset=".1325" stop-color="#161916"/><stop offset=".1525" stop-color="#151815"/><stop offset=".1725" stop-color="#121513"/><stop offset=".2375" stop-color="#040504"/><stop offset=".26" stop-color="#000101"/><stop offset=".2825" stop-color="#010101"/><stop offset=".3075" stop-color="#060706"/><stop offset=".3375" stop-color="#121512"/><stop offset=".3725" stop-color="#272d28"/><stop offset=".405" stop-color="#3f4940"/><stop offset=".49" stop-color="#839685"/><stop offset=".515" stop-color="#95ab97"/><stop offset=".5375" stop-color="#a3bba6"/><stop offset=".5625" stop-color="#b0cab3"/><stop offset=".5875" stop-color="#b9d4bc"/><stop offset=".6125" stop-color="#bfdbc2"/><stop offset=".635" stop-color="#c1ddc4"/><stop offset=".655" stop-color="#bfdbc2"/><stop offset=".6775" stop-color="#bbd6be"/><stop offset=".7" stop-color="#b3ceb6"/><stop offset=".7225" stop-color="#a9c2ac"/><stop offset=".7475" stop-color="#9bb19d"/><stop offset=".7725" stop-color="#899e8b"/><stop offset=".8725" stop-color="#3a433b"/><stop offset=".915" stop-color="#1c211d"/><stop offset=".9375" stop-color="#101210"/><stop offset=".96" stop-color="#070807"/><stop offset=".98" stop-color="#020202"/><stop offset="1" stop-color="#000000"/></linearGradient>
<linearGradient id="h1r36"><stop offset="0" stop-color="#000000"/><stop offset=".0275" stop-color="#020302"/><stop offset=".09" stop-color="#0e100e"/><stop offset=".12" stop-color="#101310"/><stop offset=".1575" stop-color="#0e100e"/><stop offset=".22" stop-color="#030303"/><stop offset=".2425" stop-color="#000000"/><stop offset=".265" stop-color="#010101"/><stop offset=".29" stop-color="#060706"/><stop offset=".32" stop-color="#121412"/><stop offset=".355" stop-color="#252b26"/><stop offset=".39" stop-color="#3d463e"/><stop offset=".4775" stop-color="#7e9080"/><stop offset=".5025" stop-color="#8ea390"/><stop offset=".525" stop-color="#9bb29d"/><stop offset=".5525" stop-color="#a8c1ab"/><stop offset=".5775" stop-color="#b1cab3"/><stop offset=".6025" stop-color="#b6d0b8"/><stop offset=".625" stop-color="#b7d2ba"/><stop offset=".6475" stop-color="#b6d0b8"/><stop offset=".67" stop-color="#b1cbb4"/><stop offset=".6925" stop-color="#aac3ac"/><stop offset=".715" stop-color="#a0b8a3"/><stop offset=".74" stop-color="#93a895"/><stop offset=".7675" stop-color="#819483"/><stop offset=".87" stop-color="#363e37"/><stop offset=".9125" stop-color="#1b1f1b"/><stop offset=".935" stop-color="#0f1210"/><stop offset=".9575" stop-color="#070807"/><stop offset=".98" stop-color="#020202"/><stop offset="1" stop-color="#000000"/></linearGradient>
<linearGradient id="h1r37"><stop offset="0" stop-color="#000000"/><stop offset=".025" stop-color="#020202"/><stop offset=".0825" stop-color="#0a0b0a"/><stop offset=".1075" stop-color="#0c0d0c"/><stop offset=".145" stop-color="#0a0c0a"/><stop offset=".2025" stop-color="#020202"/><stop offset=".225" stop-color="#000000"/><stop offset=".2475" stop-color="#010101"/><stop offset=".2725" stop-color="#060706"/><stop offset=".305" stop-color="#121512"/><stop offset=".34" stop-color="#242925"/><stop offset=".375" stop-color="#3a433b"/><stop offset=".4625" stop-color="#758677"/><stop offset=".4875" stop-color="#849786"/><stop offset=".5125" stop-color="#91a693"/><stop offset=".54" stop-color="#9db49f"/><stop offset=".565" stop-color="#a4bda7"/><stop offset=".59" stop-color="#a9c2ac"/><stop offset=".615" stop-color="#abc4ad"/><stop offset=".6375" stop-color="#a9c2ac"/><stop offset=".66" stop-color="#a5bea8"/><stop offset=".6825" stop-color="#9fb6a1"/><stop offset=".7075" stop-color="#95ab97"/><stop offset=".7325" stop-color="#899d8b"/><stop offset=".76" stop-color="#798b7b"/><stop offset=".865" stop-color="#333a34"/><stop offset=".91" stop-color="#191c19"/><stop offset=".935" stop-color="#0e100e"/><stop offset=".9575" stop-color="#060706"/><stop offset=".98" stop-color="#010201"/><stop offset="1" stop-color="#000000"/></linearGradient>
<linearGradient id="h1r38"><stop offset="0" stop-color="#000000"/><stop offset=".0975" stop-color="#080908"/><stop offset=".13" stop-color="#070807"/><stop offset=".205" stop-color="#000000"/><stop offset=".23" stop-color="#010201"/><stop offset=".255" stop-color="#060706"/><stop offset=".2875" stop-color="#111311"/><stop offset=".3225" stop-color="#212621"/><stop offset=".3575" stop-color="#343c35"/><stop offset=".4475" stop-color="#6a7a6c"/><stop offset=".475" stop-color="#798b7b"/><stop offset=".5" stop-color="#859887"/><stop offset=".5275" stop-color="#8fa491"/><stop offset=".555" stop-color="#97ad99"/><stop offset=".58" stop-color="#9bb19d"/><stop offset=".605" stop-color="#9cb39e"/><stop offset=".6275" stop-color="#9bb19d"/><stop offset=".65" stop-color="#97ad9a"/><stop offset=".6725" stop-color="#92a794"/><stop offset=".6975" stop-color="#899d8b"/><stop offset=".725" stop-color="#7d8f7f"/><stop offset=".7525" stop-color="#6f7f70"/><stop offset=".86" stop-color="#2f3630"/><stop offset=".905" stop-color="#181b18"/><stop offset=".93" stop-color="#0d0f0e"/><stop offset=".955" stop-color="#060706"/><stop offset=".9775" stop-color="#010202"/><stop offset="1" stop-color="#000000"/></linearGradient>
<linearGradient id="h1r39"><stop offset="0" stop-color="#000000"/><stop offset=".0925" stop-color="#060606"/><stop offset=".1925" stop-color="#000000"/><stop offset=".215" stop-color="#020202"/><stop offset=".24" stop-color="#060707"/><stop offset=".2725" stop-color="#101310"/><stop offset=".3075" stop-color="#1e231f"/><stop offset=".3425" stop-color="#2f3630"/><stop offset=".435" stop-color="#606e61"/><stop offset=".4875" stop-color="#768878"/><stop offset=".515" stop-color="#809281"/><stop offset=".5425" stop-color="#869a88"/><stop offset=".57" stop-color="#8a9e8c"/><stop offset=".595" stop-color="#8ba08d"/><stop offset=".6175" stop-color="#8a9e8c"/><stop offset=".6425" stop-color="#879a89"/><stop offset=".665" stop-color="#829583"/><stop offset=".69" stop-color="#7a8c7c"/><stop offset=".7175" stop-color="#6f8071"/><stop offset=".745" stop-color="#637265"/><stop offset=".855" stop-color="#2a312b"/><stop offset=".9025" stop-color="#151815"/><stop offset=".9275" stop-color="#0c0e0c"/><stop offset=".9525" stop-color="#050605"/><stop offset=".9775" stop-color="#010101"/><stop offset="1" stop-color="#000000"/></linearGradient>
<linearGradient id="h1r40"><stop offset="0" stop-color="#000000"/><stop offset=".0825" stop-color="#040404"/><stop offset=".1725" stop-color="#000000"/><stop offset=".1975" stop-color="#020202"/><stop offset=".2225" stop-color="#060706"/><stop offset=".255" stop-color="#0e100e"/><stop offset=".2925" stop-color="#1b1f1c"/><stop offset=".42" stop-color="#525e54"/><stop offset=".4725" stop-color="#667567"/><stop offset=".5025" stop-color="#6e7f70"/><stop offset=".53" stop-color="#748576"/><stop offset=".5575" stop-color="#788979"/><stop offset=".5825" stop-color="#798a7a"/><stop offset=".605" stop-color="#788a7a"/><stop offset=".63" stop-color="#758677"/><stop offset=".68" stop-color="#6a7a6c"/><stop offset=".7375" stop-color="#566357"/><stop offset=".85" stop-color="#252a26"/><stop offset=".9" stop-color="#121512"/><stop offset=".9275" stop-color="#0a0b0a"/><stop offset=".9525" stop-color="#040504"/><stop offset=".9775" stop-color="#010101"/><stop offset="1" stop-color="#000000"/></linearGradient>
<linearGradient id="h1r41"><stop offset="0" stop-color="#000000"/><stop offset=".0725" stop-color="#020202"/><stop offset=".155" stop-color="#000000"/><stop offset=".18" stop-color="#020202"/><stop offset=".2075" stop-color="#060706"/><stop offset=".24" stop-color="#0d0f0d"/><stop offset=".2775" stop-color="#171b18"/><stop offset=".405" stop-color="#454f46"/><stop offset=".46" stop-color="#556257"/><stop offset=".5175" stop-color="#616f63"/><stop offset=".545" stop-color="#647366"/><stop offset=".5725" stop-color="#657467"/><stop offset=".6225" stop-color="#627063"/><stop offset=".6725" stop-color="#59665a"/><stop offset=".73" stop-color="#485349"/><stop offset=".845" stop-color="#1f2420"/><stop offset=".895" stop-color="#101210"/><stop offset=".95" stop-color="#040404"/><stop offset=".975" stop-color="#010101"/><stop offset="1" stop-color="#000000"/></linearGradient>
<linearGradient id="h1r42"><stop offset="0" stop-color="#000000"/><stop offset=".0625" stop-color="#010101"/><stop offset=".1375" stop-color="#000000"/><stop offset=".1925" stop-color="#050605"/><stop offset=".225" stop-color="#0b0c0b"/><stop offset=".2625" stop-color="#131614"/><stop offset=".3925" stop-color="#373f38"/><stop offset=".4475" stop-color="#444e45"/><stop offset=".5075" stop-color="#4e594f"/><stop offset=".5625" stop-color="#515d52"/><stop offset=".6125" stop-color="#4e5a50"/><stop offset=".6625" stop-color="#475248"/><stop offset=".7225" stop-color="#3a423b"/><stop offset=".84" stop-color="#191d19"/><stop offset=".8925" stop-color="#0c0e0c"/><stop offset=".9475" stop-color="#030403"/><stop offset="1" stop-color="#000000"/></linearGradient>
<linearGradient id="h1r43"><stop offset="0" stop-color="#000000"/><stop offset=".1175" stop-color="#000000"/><stop offset=".1775" stop-color="#040504"/><stop offset=".2475" stop-color="#0f110f"/><stop offset=".38" stop-color="#2a302b"/><stop offset=".435" stop-color="#343b34"/><stop offset=".495" stop-color="#3b433c"/><stop offset=".5525" stop-color="#3d463e"/><stop offset=".6025" stop-color="#3b443c"/><stop offset=".655" stop-color="#363e36"/><stop offset=".715" stop-color="#2c322c"/><stop offset=".8375" stop-color="#131513"/><stop offset=".89" stop-color="#090b09"/><stop offset=".9475" stop-color="#020302"/><stop offset="1" stop-color="#000000"/></linearGradient>
<linearGradient id="h1r44"><stop offset="0" stop-color="#000000"/><stop offset=".1025" stop-color="#000000"/><stop offset=".1625" stop-color="#030403"/><stop offset=".2325" stop-color="#0b0c0b"/><stop offset=".4225" stop-color="#242924"/><stop offset=".485" stop-color="#292f29"/><stop offset=".5425" stop-color="#2a302b"/><stop offset=".5925" stop-color="#292f2a"/><stop offset=".645" stop-color="#252b26"/><stop offset=".7075" stop-color="#1e231f"/><stop offset=".885" stop-color="#070707"/><stop offset=".945" stop-color="#020202"/><stop offset="1" stop-color="#000000"/></linearGradient>
<linearGradient id="h1r45"><stop offset="0" stop-color="#000000"/><stop offset=".085" stop-color="#000000"/><stop offset=".1475" stop-color="#020202"/><stop offset=".41" stop-color="#161916"/><stop offset=".4725" stop-color="#191c19"/><stop offset=".53" stop-color="#1a1d1a"/><stop offset=".6375" stop-color="#171a17"/><stop offset=".8825" stop-color="#040404"/><stop offset=".9425" stop-color="#010101"/><stop offset="1" stop-color="#000000"/></linearGradient>
<linearGradient id="h1r46"><stop offset="0" stop-color="#000000"/><stop offset=".135" stop-color="#010101"/><stop offset=".3975" stop-color="#0a0c0b"/><stop offset=".52" stop-color="#0c0e0c"/><stop offset=".6275" stop-color="#0b0c0b"/><stop offset=".88" stop-color="#020202"/><stop offset="1" stop-color="#000000"/></linearGradient>
<linearGradient id="h1r47"><stop offset="0" stop-color="#000000"/><stop offset=".51" stop-color="#030403"/><stop offset="1" stop-color="#000000"/></linearGradient>
<linearGradient id="h1mg" gradientUnits="userSpaceOnUse" x1="0" y1="0" x2="0" y2="8.4042" spreadMethod="reflect"><stop offset="0" stop-color="#fff" stop-opacity="0"/><stop offset="1" stop-color="#fff" stop-opacity="1"/></linearGradient>
<mask id="h1m" maskUnits="userSpaceOnUse" x="0" y="-8.404" width="429.60" height="420.208"><rect y="-8.404" width="429.60" height="420.208" fill="url(#h1mg)"/></mask>
<clipPath id="h1c"><rect width="429.60" height="403.40"/></clipPath>
<g id="h1" clip-path="url(#h1c)"><g><rect y="8.404" width="429.60" height="16.808" fill="url(#h1r2)"/><rect y="25.212" width="429.60" height="16.808" fill="url(#h1r4)"/><rect y="42.021" width="429.60" height="16.808" fill="url(#h1r6)"/><rect y="58.829" width="429.60" height="16.808" fill="url(#h1r8)"/><rect y="75.638" width="429.60" height="16.808" fill="url(#h1r10)"/><rect y="92.446" width="429.60" height="16.808" fill="url(#h1r12)"/><rect y="109.254" width="429.60" height="16.808" fill="url(#h1r14)"/><rect y="126.062" width="429.60" height="16.808" fill="url(#h1r16)"/><rect y="142.871" width="429.60" height="16.808" fill="url(#h1r18)"/><rect y="159.679" width="429.60" height="16.808" fill="url(#h1r20)"/><rect y="176.488" width="429.60" height="16.808" fill="url(#h1r22)"/><rect y="193.296" width="429.60" height="16.808" fill="url(#h1r24)"/><rect y="210.104" width="429.60" height="16.808" fill="url(#h1r26)"/><rect y="226.912" width="429.60" height="16.808" fill="url(#h1r28)"/><rect y="243.721" width="429.60" height="16.808" fill="url(#h1r30)"/><rect y="260.529" width="429.60" height="16.808" fill="url(#h1r32)"/><rect y="277.338" width="429.60" height="16.808" fill="url(#h1r34)"/><rect y="294.146" width="429.60" height="16.808" fill="url(#h1r36)"/><rect y="310.954" width="429.60" height="16.808" fill="url(#h1r38)"/><rect y="327.763" width="429.60" height="16.808" fill="url(#h1r40)"/><rect y="344.571" width="429.60" height="16.808" fill="url(#h1r42)"/><rect y="361.379" width="429.60" height="16.808" fill="url(#h1r44)"/><rect y="378.188" width="429.60" height="16.808" fill="url(#h1r46)"/></g><g mask="url(#h1m)"><rect y="0.000" width="429.60" height="16.808" fill="url(#h1r1)"/><rect y="16.808" width="429.60" height="16.808" fill="url(#h1r3)"/><rect y="33.617" width="429.60" height="16.808" fill="url(#h1r5)"/><rect y="50.425" width="429.60" height="16.808" fill="url(#h1r7)"/><rect y="67.233" width="429.60" height="16.808" fill="url(#h1r9)"/><rect y="84.042" width="429.60" height="16.808" fill="url(#h1r11)"/><rect y="100.850" width="429.60" height="16.808" fill="url(#h1r13)"/><rect y="117.658" width="429.60" height="16.808" fill="url(#h1r15)"/><rect y="134.467" width="429.60" height="16.808" fill="url(#h1r17)"/><rect y="151.275" width="429.60" height="16.808" fill="url(#h1r19)"/><rect y="168.083" width="429.60" height="16.808" fill="url(#h1r21)"/><rect y="184.892" width="429.60" height="16.808" fill="url(#h1r23)"/><rect y="201.700" width="429.60" height="16.808" fill="url(#h1r25)"/><rect y="218.508" width="429.60" height="16.808" fill="url(#h1r27)"/><rect y="235.317" width="429.60" height="16.808" fill="url(#h1r29)"/><rect y="252.125" width="429.60" height="16.808" fill="url(#h1r31)"/><rect y="268.933" width="429.60" height="16.808" fill="url(#h1r33)"/><rect y="285.742" width="429.60" height="16.808" fill="url(#h1r35)"/><rect y="302.550" width="429.60" height="16.808" fill="url(#h1r37)"/><rect y="319.358" width="429.60" height="16.808" fill="url(#h1r39)"/><rect y="336.167" width="429.60" height="16.808" fill="url(#h1r41)"/><rect y="352.975" width="429.60" height="16.808" fill="url(#h1r43)"/><rect y="369.783" width="429.60" height="16.808" fill="url(#h1r45)"/><rect y="386.592" width="429.60" height="16.808" fill="url(#h1r47)"/></g></g>
<linearGradient id="h2r1"><stop offset="0" stop-color="#000000"/><stop offset=".49" stop-color="#020202"/><stop offset="1" stop-color="#000000"/></linearGradient>
<linearGradient id="h2r2"><stop offset="0" stop-color="#000000"/><stop offset=".18" stop-color="#010101"/><stop offset=".395" stop-color="#070807"/><stop offset=".48" stop-color="#080908"/><stop offset=".5625" stop-color="#070807"/><stop offset=".785" stop-color="#010101"/><stop offset="1" stop-color="#000000"/></linearGradient>
<linearGradient id="h2r3"><stop offset="0" stop-color="#000000"/><stop offset=".1725" stop-color="#020302"/><stop offset=".385" stop-color="#101210"/><stop offset=".4675" stop-color="#121512"/><stop offset=".55" stop-color="#101210"/><stop offset=".705" stop-color="#050605"/><stop offset=".7775" stop-color="#020202"/><stop offset=".8575" stop-color="#000000"/><stop offset="1" stop-color="#000000"/></linearGradient>
<linearGradient id="h2r4"><stop offset="0" stop-color="#000000"/><stop offset=".095" stop-color="#010101"/><stop offset=".165" stop-color="#040504"/><stop offset=".23" stop-color="#0a0b0a"/><stop offset=".375" stop-color="#1b1f1c"/><stop offset=".4175" stop-color="#1e231f"/><stop offset=".4575" stop-color="#1f2420"/><stop offset=".4975" stop-color="#1e231f"/><stop offset=".54" stop-color="#1b1f1c"/><stop offset=".6925" stop-color="#090b09"/><stop offset=".7675" stop-color="#030303"/><stop offset=".8475" stop-color="#000000"/><stop offset="1" stop-color="#000000"/></linearGradient>
<linearGradient id="h2r5"><stop offset="0" stop-color="#000000"/><stop offset=".09" stop-color="#010101"/><stop offset=".1575" stop-color="#060706"/><stop offset=".22" stop-color="#0f110f"/><stop offset=".365" stop-color="#292f2a"/><stop offset=".4075" stop-color="#2e352f"/><stop offset=".4475" stop-color="#303730"/><stop offset=".4875" stop-color="#2e352f"/><stop offset=".53" stop-color="#292f2a"/><stop offset=".6825" stop-color="#0e100e"/><stop offset=".7575" stop-color="#040504"/><stop offset=".8375" stop-color="#000000"/><stop offset="1" stop-color="#000000"/></linearGradient>
<linearGradient id="h2r6"><stop offset="0" stop-color="#000000"/><stop offset=".085" stop-color="#020202"/><stop offset=".15" stop-color="#080a09"/><stop offset=".2125" stop-color="#151815"/><stop offset=".315" stop-color="#303731"/><stop offset=".355" stop-color="#39423a"/><stop offset=".3975" stop-color="#404941"/><stop offset=".4375" stop-color="#424b43"/><stop offset=".4775" stop-color="#404941"/><stop offset=".5175" stop-color="#3a423a"/><stop offset=".5575" stop-color="#313831"/><stop offset=".6725" stop-color="#121513"/><stop offset=".71" stop-color="#0b0d0b"/><stop offset=".7475" stop-color="#050606"/><stop offset=".785" stop-color="#020202"/><stop offset=".8275" stop-color="#000000"/><stop offset="1" stop-color="#000000"/></linearGradient>
<linearGradient id="h2r7"><stop offset="0" stop-color="#000000"/><stop offset=".08" stop-color="#020303"/><stop offset=".1125" stop-color="#060706"/><stop offset=".1425" stop-color="#0b0d0b"/><stop offset=".2025" stop-color="#1a1e1b"/><stop offset=".305" stop-color="#3e473f"/><stop offset=".345" stop-color="#4a554b"/><stop offset=".3875" stop-color="#535f54"/><stop offset=".4275" stop-color="#566257"/><stop offset=".4675" stop-color="#535f54"/><stop offset=".5075" stop-color="#4b564c"/><stop offset=".5475" stop-color="#3f4840"/><stop offset=".66" stop-color="#181b18"/><stop offset=".6975" stop-color="#0e100e"/><stop offset=".735" stop-color="#070807"/><stop offset=".7725" stop-color="#030303"/><stop offset=".815" stop-color="#000000"/><stop offset="1" stop-color="#000000"/></linearGradient>
<linearGradient id="h2r8"><stop offset="0" stop-color="#000000"/><stop offset=".04" stop-color="#010101"/><stop offset=".075" stop-color="#030403"/><stop offset=".105" stop-color="#070807"/><stop offset=".135" stop-color="#0e100e"/><stop offset=".165" stop-color="#161917"/><stop offset=".195" stop-color="#212622"/><stop offset=".295" stop-color="#4d584e"/><stop offset=".335" stop-color="#5c695d"/><stop offset=".3775" stop-color="#667568"/><stop offset=".4175" stop-color="#6a796b"/><stop offset=".455" stop-color="#677668"/><stop offset=".495" stop-color="#5d6a5e"/><stop offset=".535" stop-color="#4e594f"/><stop offset=".615" stop-color="#2b312b"/><stop offset=".65" stop-color="#1d211d"/><stop offset=".6875" stop-color="#101311"/><stop offset=".725" stop-color="#080908"/><stop offset=".7625" stop-color="#030303"/><stop offset=".8025" stop-color="#000000"/><stop offset="1" stop-color="#000000"/></linearGradient>
<linearGradient id="h2r9"><stop offset="0" stop-color="#000000"/><stop offset=".0375" stop-color="#010101"/><stop offset=".07" stop-color="#040404"/><stop offset=".1" stop-color="#090a09"/><stop offset=".13" stop-color="#111311"/><stop offset=".1575" stop-color="#1a1e1b"/><stop offset=".1875" stop-color="#282d28"/><stop offset=".285" stop-color="#5b685c"/><stop offset=".325" stop-color="#6d7d6e"/><stop offset=".365" stop-color="#798b7b"/><stop offset=".385" stop-color="#7d8f7e"/><stop offset=".405" stop-color="#7e9080"/><stop offset=".425" stop-color="#7d8f7f"/><stop offset=".445" stop-color="#7a8c7c"/><stop offset=".465" stop-color="#758676"/><stop offset=".485" stop-color="#6e7e6f"/><stop offset=".525" stop-color="#5c695d"/><stop offset=".6025" stop-color="#333a33"/><stop offset=".6375" stop-color="#222722"/><stop offset=".675" stop-color="#131613"/><stop offset=".7125" stop-color="#090a09"/><stop offset=".7475" stop-color="#030403"/><stop offset=".7875" stop-color="#000000"/><stop offset=".91" stop-color="#010101"/><stop offset="1" stop-color="#000000"/></linearGradient>
<linearGradient id="h2r10"><stop offset="0" stop-color="#000000"/><stop offset=".035" stop-color="#010101"/><stop offset=".065" stop-color="#040504"/><stop offset=".095" stop-color="#0a0c0a"/><stop offset=".1225" stop-color="#131613"/><stop offset=".15" stop-color="#1e231f"/><stop offset=".1775" stop-color="#2c332d"/><stop offset=".2775" stop-color="#69796b"/><stop offset=".315" stop-color="#7d8f7f"/><stop offset=".335" stop-color="#859987"/><stop offset=".355" stop-color="#8ca08e"/><stop offset=".375" stop-color="#8fa492"/><stop offset=".395" stop-color="#91a693"/><stop offset=".4125" stop-color="#90a592"/><stop offset=".4325" stop-color="#8da18f"/><stop offset=".4525" stop-color="#879b89"/><stop offset=".4725" stop-color="#7f9281"/><stop offset=".5125" stop-color="#6a7a6c"/><stop offset=".5925" stop-color="#39413a"/><stop offset=".6275" stop-color="#252b26"/><stop offset=".665" stop-color="#141715"/><stop offset=".7025" stop-color="#090a09"/><stop offset=".735" stop-color="#030403"/><stop offset=".7725" stop-color="#000000"/><stop offset=".8975" stop-color="#020202"/><stop offset="1" stop-color="#000000"/></linearGradient>
<linearGradient id="h2r11"><stop offset="0" stop-color="#000000"/><stop offset=".0325" stop-color="#010101"/><stop offset=".0625" stop-color="#050605"/><stop offset=".09" stop-color="#0c0d0c"/><stop offset=".1175" stop-color="#161916"/><stop offset=".1425" stop-color="#212622"/><stop offset=".17" stop-color="#313932"/><stop offset=".2675" stop-color="#758677"/><stop offset=".305" stop-color="#8ca08e"/><stop offset=".325" stop-color="#95ab97"/><stop offset=".345" stop-color="#9cb39e"/><stop offset=".365" stop-color="#a1b8a3"/><stop offset=".385" stop-color="#a2baa4"/><stop offset=".4025" stop-color="#a1b9a3"/><stop offset=".4225" stop-color="#9db49f"/><stop offset=".4425" stop-color="#97ad99"/><stop offset=".4625" stop-color="#8da290"/><stop offset=".5" stop-color="#778979"/><stop offset=".58" stop-color="#3f4840"/><stop offset=".615" stop-color="#292f29"/><stop offset=".6525" stop-color="#161916"/><stop offset=".69" stop-color="#090a09"/><stop offset=".7225" stop-color="#030303"/><stop offset=".7575" stop-color="#000000"/><stop offset=".885" stop-color="#030403"/><stop offset="1" stop-color="#000000"/></linearGradient>
<linearGradient id="h2r12"><stop offset="0" stop-color="#000000"/><stop offset=".03" stop-color="#010101"/><stop offset=".0575" stop-color="#050605"/><stop offset=".085" stop-color="#0d0f0d"/><stop offset=".11" stop-color="#171a17"/><stop offset=".135" stop-color="#242925"/><stop offset=".1625" stop-color="#363e37"/><stop offset=".19" stop-color="#4a554b"/><stop offset=".2575" stop-color="#7f9281"/><stop offset=".295" stop-color="#98af9b"/><stop offset=".315" stop-color="#a3bba5"/><stop offset=".335" stop-color="#abc4ad"/><stop offset=".355" stop-color="#afc9b2"/><stop offset=".375" stop-color="#b1cbb4"/><stop offset=".3925" stop-color="#b0c9b2"/><stop offset=".4125" stop-color="#abc4ae"/><stop offset=".43" stop-color="#a5bda7"/><stop offset=".45" stop-color="#9bb29d"/><stop offset=".47" stop-color="#8fa491"/><stop offset=".49" stop-color="#819483"/><stop offset=".565" stop-color="#465147"/><stop offset=".6" stop-color="#2d342e"/><stop offset=".6375" stop-color="#181c18"/><stop offset=".675" stop-color="#0a0b0a"/><stop offset=".705" stop-color="#030403"/><stop offset=".74" stop-color="#000000"/><stop offset=".875" stop-color="#050605"/><stop offset="1" stop-color="#000000"/></linearGradient>
<linearGradient id="h2r13"><stop offset="0" stop-color="#000000"/><stop offset=".0275" stop-color="#010201"/><stop offset=".055" stop-color="#060706"/><stop offset=".08" stop-color="#0e100e"/><stop offset=".105" stop-color="#191c19"/><stop offset=".13" stop-color="#272d28"/><stop offset=".155" stop-color="#39413a"/><stop offset=".1825" stop-color="#4f5b50"/><stop offset=".2475" stop-color="#879a89"/><stop offset=".285" stop-color="#a2baa5"/><stop offset=".305" stop-color="#aec7b0"/><stop offset=".325" stop-color="#b6d1b9"/><stop offset=".345" stop-color="#bbd7be"/><stop offset=".365" stop-color="#bdd9c0"/><stop offset=".3825" stop-color="#bcd7be"/><stop offset=".4025" stop-color="#b7d1b9"/><stop offset=".42" stop-color="#b0c9b2"/><stop offset=".44" stop-color="#a5bda7"/><stop offset=".4775" stop-color="#8a9e8c"/><stop offset=".5525" stop-color="#4a554b"/><stop offset=".5875" stop-color="#2f3630"/><stop offset=".6075" stop-color="#222723"/><stop offset=".625" stop-color="#181c19"/><stop offset=".6425" stop-color="#101310"/><stop offset=".6625" stop-color="#090a09"/><stop offset=".69" stop-color="#030303"/><stop offset=".72" stop-color="#000000"/><stop offset=".75" stop-color="#010101"/><stop offset=".825" stop-color="#070807"/><stop offset=".865" stop-color="#080908"/><stop offset=".9" stop-color="#070807"/><stop offset=".97" stop-color="#010101"/><stop offset="1" stop-color="#000000"/></linearGradient>
<linearGradient id="h2r14"><stop offset="0" stop-color="#000000"/><stop offset=".0275" stop-color="#020202"/><stop offset=".0525" stop-color="#060707"/><stop offset=".0775" stop-color="#0f110f"/><stop offset=".1" stop-color="#1a1e1a"/><stop offset=".125" stop-color="#2a302a"/><stop offset=".15" stop-color="#3d463e"/><stop offset=".2375" stop-color="#8ca08e"/><stop offset=".275" stop-color="#a9c2ac"/><stop offset=".295" stop-color="#b5d0b8"/><stop offset=".315" stop-color="#bfdac1"/><stop offset=".335" stop-color="#c4e1c7"/><stop offset=".355" stop-color="#c6e3c9"/><stop offset=".3725" stop-color="#c4e1c7"/><stop offset=".39" stop-color="#c0dcc3"/><stop offset=".4075" stop-color="#b8d3bb"/><stop offset=".4275" stop-color="#adc6b0"/><stop offset=".445" stop-color="#a1b8a3"/><stop offset=".465" stop-color="#91a693"/><stop offset=".5425" stop-color="#4a554c"/><stop offset=".575" stop-color="#303731"/><stop offset=".595" stop-color="#222722"/><stop offset=".6125" stop-color="#181b18"/><stop offset=".63" stop-color="#0f1210"/><stop offset=".65" stop-color="#080908"/><stop offset=".68" stop-color="#020202"/><stop offset=".7125" stop-color="#000000"/><stop offset=".7425" stop-color="#020202"/><stop offset=".82" stop-color="#0a0c0b"/><stop offset=".865" stop-color="#0c0d0c"/><stop offset=".9" stop-color="#090b0a"/><stop offset=".97" stop-color="#010201"/><stop offset="1" stop-color="#000000"/></linearGradient>
<linearGradient id="h2r15"><stop offset="0" stop-color="#000000"/><stop offset=".025" stop-color="#020202"/><stop offset=".05" stop-color="#070807"/><stop offset=".0725" stop-color="#0f110f"/><stop offset=".095" stop-color="#1b1f1b"/><stop offset=".1175" stop-color="#2a302a"/><stop offset=".1425" stop-color="#3e473f"/><stop offset=".23" stop-color="#90a592"/><stop offset=".265" stop-color="#adc6b0"/><stop offset=".285" stop-color="#bad5bd"/><stop offset=".305" stop-color="#c4e0c6"/><stop offset=".325" stop-color="#c9e7cc"/><stop offset=".3425" stop-color="#cbe9ce"/><stop offset=".36" stop-color="#cae7cd"/><stop offset=".3775" stop-color="#c5e2c8"/><stop offset=".395" stop-color="#bedac1"/><stop offset=".415" stop-color="#b2ccb5"/><stop offset=".4325" stop-color="#a6bea8"/><stop offset=".4525" stop-color="#95ab97"/><stop offset=".53" stop-color="#4b564c"/><stop offset=".5625" stop-color="#2f3630"/><stop offset=".5825" stop-color="#212621"/><stop offset=".6" stop-color="#161a17"/><stop offset=".6175" stop-color="#0e100e"/><stop offset=".635" stop-color="#080908"/><stop offset=".665" stop-color="#010101"/><stop offset=".6975" stop-color="#000000"/><stop offset=".7275" stop-color="#030303"/><stop offset=".805" stop-color="#0e110f"/><stop offset=".85" stop-color="#111311"/><stop offset=".89" stop-color="#0e100e"/><stop offset=".97" stop-color="#020202"/><stop offset="1" stop-color="#000000"/></linearGradient>
<linearGradient id="h2r16"><stop offset="0" stop-color="#000000"/><stop offset=".0225" stop-color="#010201"/><stop offset=".045" stop-color="#060706"/><stop offset=".0675" stop-color="#0f110f"/><stop offset=".09" stop-color="#1b1f1b"/><stop offset=".1125" stop-color="#2a312b"/><stop offset=".135" stop-color="#3d463e"/><stop offset=".1575" stop-color="#525e53"/><stop offset=".2225" stop-color="#92a894"/><stop offset=".2575" stop-color="#b0c9b2"/><stop offset=".2775" stop-color="#bdd8bf"/><stop offset=".295" stop-color="#c5e2c8"/><stop offset=".315" stop-color="#cbe9ce"/><stop offset=".3325" stop-color="#cdebd0"/><stop offset=".35" stop-color="#cce9ce"/><stop offset=".3675" stop-color="#c7e4ca"/><stop offset=".385" stop-color="#bfdbc2"/><stop offset=".405" stop-color="#b3cdb5"/><stop offset=".4225" stop-color="#a5bea8"/><stop offset=".44" stop-color="#96ac98"/><stop offset=".515" stop-color="#4c584e"/><stop offset=".55" stop-color="#2e342e"/><stop offset=".5675" stop-color="#212621"/><stop offset=".585" stop-color="#161916"/><stop offset=".6025" stop-color="#0d0f0d"/><stop offset=".62" stop-color="#070807"/><stop offset=".65" stop-color="#010101"/><stop offset=".6825" stop-color="#010101"/><stop offset=".7125" stop-color="#050505"/><stop offset=".79" stop-color="#141614"/><stop offset=".815" stop-color="#161917"/><stop offset=".8375" stop-color="#171a17"/><stop offset=".875" stop-color="#141714"/><stop offset=".9625" stop-color="#030403"/><stop offset="1" stop-color="#000000"/></linearGradient>
<linearGradient id="h2r17"><stop offset="0" stop-color="#000000"/><stop offset=".0225" stop-color="#020202"/><stop offset=".0425" stop-color="#060706"/><stop offset=".0625" stop-color="#0e100e"/><stop offset=".085" stop-color="#1a1e1b"/><stop offset=".105" stop-color="#282e29"/><stop offset=".1275" stop-color="#3b443c"/><stop offset=".15" stop-color="#515c52"/><stop offset=".2125" stop-color="#8fa491"/><stop offset=".23" stop-color="#9fb7a2"/><stop offset=".2475" stop-color="#adc7b0"/><stop offset=".2675" stop-color="#bbd6bd"/><stop offset=".285" stop-color="#c3e0c6"/><stop offset=".305" stop-color="#c9e7cc"/><stop offset=".3225" stop-color="#cbe9ce"/><stop offset=".34" stop-color="#cae7cd"/><stop offset=".3575" stop-color="#c5e1c8"/><stop offset=".375" stop-color="#bdd8bf"/><stop offset=".3925" stop-color="#b2ccb4"/><stop offset=".41" stop-color="#a4bca7"/><stop offset=".4275" stop-color="#95ab97"/><stop offset=".5025" stop-color="#4a554b"/><stop offset=".535" stop-color="#2d342e"/><stop offset=".5525" stop-color="#202420"/><stop offset=".57" stop-color="#151815"/><stop offset=".5875" stop-color="#0c0e0c"/><stop offset=".605" stop-color="#060706"/><stop offset=".635" stop-color="#000000"/><stop offset=".665" stop-color="#010101"/><stop offset=".695" stop-color="#060706"/><stop offset=".7775" stop-color="#1a1e1b"/><stop offset=".8025" stop-color="#1e221e"/><stop offset=".8275" stop-color="#1e231f"/><stop offset=".8675" stop-color="#1a1e1b"/><stop offset=".96" stop-color="#040504"/><stop offset=".98" stop-color="#010101"/><stop offset="1" stop-color="#000000"/></linearGradient>
<linearGradient id="h2r18"><stop offset="0" stop-color="#000000"/><stop offset=".02" stop-color="#010201"/><stop offset=".04" stop-color="#060706"/><stop offset=".06" stop-color="#0e100e"/><stop offset=".08" stop-color="#191d1a"/><stop offset=".1" stop-color="#272d28"/><stop offset=".1225" stop-color="#3a433b"/><stop offset=".2025" stop-color="#8a9e8c"/><stop offset=".22" stop-color="#9ab09c"/><stop offset=".2375" stop-color="#a8c1ab"/><stop offset=".2575" stop-color="#b6d0b8"/><stop offset=".275" stop-color="#bedac1"/><stop offset=".295" stop-color="#c5e1c7"/><stop offset=".3125" stop-color="#c6e3c9"/><stop offset=".3275" stop-color="#c5e2c8"/><stop offset=".345" stop-color="#c0dcc3"/><stop offset=".3625" stop-color="#b8d3bb"/><stop offset=".38" stop-color="#aec7b0"/><stop offset=".3975" stop-color="#a0b8a3"/><stop offset=".415" stop-color="#91a693"/><stop offset=".4875" stop-color="#49534a"/><stop offset=".52" stop-color="#2b322c"/><stop offset=".5375" stop-color="#1e231f"/><stop offset=".555" stop-color="#131613"/><stop offset=".5725" stop-color="#0b0c0b"/><stop offset=".5875" stop-color="#050605"/><stop offset=".6025" stop-color="#020202"/><stop offset=".6175" stop-color="#000000"/><stop offset=".65" stop-color="#020202"/><stop offset=".68" stop-color="#090a09"/><stop offset=".7625" stop-color="#212622"/><stop offset=".79" stop-color="#262c27"/><stop offset=".815" stop-color="#272d28"/><stop offset=".835" stop-color="#262c27"/><stop offset=".8575" stop-color="#232823"/><stop offset=".8825" stop-color="#1c201d"/><stop offset=".955" stop-color="#060706"/><stop offset=".9775" stop-color="#020202"/><stop offset="1" stop-color="#000000"/></linearGradient>
<linearGradient id="h2r19"><stop offset="0" stop-color="#000000"/><stop offset=".02" stop-color="#020202"/><stop offset=".0375" stop-color="#060706"/><stop offset=".055" stop-color="#0d0e0d"/><stop offset=".075" stop-color="#181b18"/><stop offset=".095" stop-color="#262b26"/><stop offset=".115" stop-color="#363e37"/><stop offset=".195" stop-color="#859887"/><stop offset=".2125" stop-color="#94aa97"/><stop offset=".23" stop-color="#a2baa5"/><stop offset=".25" stop-color="#afc9b2"/><stop offset=".2675" stop-color="#b8d2ba"/><stop offset=".285" stop-color="#bdd8bf"/><stop offset=".3025" stop-color="#bedac1"/><stop offset=".3175" stop-color="#bdd9c0"/><stop offset=".335" stop-color="#b8d3bb"/><stop offset=".3525" stop-color="#b0cab3"/><stop offset=".37" stop-color="#a5bda8"/><stop offset=".3875" stop-color="#98ae9a"/><stop offset=".405" stop-color="#899d8b"/><stop offset=".475" stop-color="#434d44"/><stop offset=".505" stop-color="#292f2a"/><stop offset=".5225" stop-color="#1c201c"/><stop offset=".54" stop-color="#111411"/><stop offset=".5575" stop-color="#090a09"/><stop offset=".5725" stop-color="#040504"/><stop offset=".5875" stop-color="#010101"/><stop offset=".6025" stop-color="#000000"/><stop offset=".6325" stop-color="#030303"/><stop offset=".6625" stop-color="#0b0d0b"/><stop offset=".725" stop-color="#232823"/><stop offset=".75" stop-color="#2b312b"/><stop offset=".7775" stop-color="#303731"/><stop offset=".8025" stop-color="#323933"/><stop offset=".825" stop-color="#313831"/><stop offset=".85" stop-color="#2c322c"/><stop offset=".8775" stop-color="#232824"/><stop offset=".9525" stop-color="#080908"/><stop offset=".9775" stop-color="#020202"/><stop offset="1" stop-color="#000000"/></linearGradient>
<linearGradient id="h2r20"><stop offset="0" stop-color="#000000"/><stop offset=".0175" stop-color="#010201"/><stop offset=".035" stop-color="#050605"/><stop offset=".0525" stop-color="#0c0e0c"/><stop offset=".07" stop-color="#161916"/><stop offset=".09" stop-color="#232824"/><stop offset=".11" stop-color="#343b34"/><stop offset=".1875" stop-color="#7d907f"/><stop offset=".22" stop-color="#98af9b"/><stop offset=".24" stop-color="#a5bda7"/><stop offset=".2575" stop-color="#adc6b0"/><stop offset=".275" stop-color="#b2ccb5"/><stop offset=".2925" stop-color="#b4ceb6"/><stop offset=".3075" stop-color="#b2ccb5"/><stop offset=".325" stop-color="#adc7b0"/><stop offset=".34" stop-color="#a7bfa9"/><stop offset=".3575" stop-color="#9cb39f"/><stop offset=".375" stop-color="#8fa492"/><stop offset=".3925" stop-color="#809382"/><stop offset=".46" stop-color="#404941"/><stop offset=".49" stop-color="#262b26"/><stop offset=".5075" stop-color="#191d1a"/><stop offset=".5225" stop-color="#101311"/><stop offset=".54" stop-color="#080908"/><stop offset=".555" stop-color="#030404"/><stop offset=".57" stop-color="#010101"/><stop offset=".585" stop-color="#000000"/><stop offset=".6" stop-color="#010101"/><stop offset=".6175" stop-color="#050505"/><stop offset=".6475" stop-color="#0f110f"/><stop offset=".71" stop-color="#2b312b"/><stop offset=".7375" stop-color="#353d36"/><stop offset=".765" stop-color="#3c453d"/><stop offset=".7925" stop-color="#3e473f"/><stop offset=".815" stop-color="#3c453d"/><stop offset=".84" stop-color="#373f38"/><stop offset=".8675" stop-color="#2d342e"/><stop offset=".925" stop-color="#131613"/><stop offset=".95" stop-color="#090b09"/><stop offset=".975" stop-color="#020303"/><stop offset="1" stop-color="#000000"/></linearGradient>
<linearGradient id="h2r21"><stop offset="0" stop-color="#000000"/><stop offset=".0175" stop-color="#010201"/><stop offset=".0325" stop-color="#050605"/><stop offset=".05" stop-color="#0b0d0c"/><stop offset=".0675" stop-color="#151815"/><stop offset=".085" stop-color="#202521"/><stop offset=".105" stop-color="#303731"/><stop offset=".1775" stop-color="#738374"/><stop offset=".21" stop-color="#8da18f"/><stop offset=".2275" stop-color="#97ae9a"/><stop offset=".245" stop-color="#a0b7a2"/><stop offset=".2625" stop-color="#a5bda7"/><stop offset=".28" stop-color="#a7bfa9"/><stop offset=".295" stop-color="#a6bea8"/><stop offset=".3125" stop-color="#a2b9a4"/><stop offset=".3275" stop-color="#9bb29e"/><stop offset=".345" stop-color="#92a794"/><stop offset=".3625" stop-color="#859987"/><stop offset=".38" stop-color="#778879"/><stop offset=".445" stop-color="#3b443c"/><stop offset=".475" stop-color="#222723"/><stop offset=".4925" stop-color="#161917"/><stop offset=".5075" stop-color="#0e100e"/><stop offset=".5225" stop-color="#070807"/><stop offset=".5375" stop-color="#030303"/><stop offset=".5525" stop-color="#000100"/><stop offset=".5675" stop-color="#000000"/><stop offset=".5825" stop-color="#020202"/><stop offset=".6" stop-color="#060706"/><stop offset=".6325" stop-color="#131513"/><stop offset=".6975" stop-color="#343c35"/><stop offset=".725" stop-color="#414a41"/><stop offset=".755" stop-color="#49544a"/><stop offset=".7825" stop-color="#4c574d"/><stop offset=".8075" stop-color="#49544a"/><stop offset=".8325" stop-color="#424c43"/><stop offset=".86" stop-color="#373f38"/><stop offset=".92" stop-color="#171b18"/><stop offset=".9475" stop-color="#0b0d0b"/><stop offset=".975" stop-color="#030303"/><stop offset="1" stop-color="#000000"/></linearGradient>
<linearGradient id="h2r22"><stop offset="0" stop-color="#000000"/><stop offset=".015" stop-color="#010101"/><stop offset=".03" stop-color="#040504"/><stop offset=".045" stop-color="#090b0a"/><stop offset=".0625" stop-color="#121512"/><stop offset=".08" stop-color="#1d211e"/><stop offset=".0975" stop-color="#2a302b"/><stop offset=".17" stop-color="#69786a"/><stop offset=".2025" stop-color="#819483"/><stop offset=".22" stop-color="#8ba08d"/><stop offset=".2375" stop-color="#93a895"/><stop offset=".255" stop-color="#97ad9a"/><stop offset=".27" stop-color="#99af9b"/><stop offset=".285" stop-color="#98ae9a"/><stop offset=".3" stop-color="#94aa96"/><stop offset=".315" stop-color="#8ea391"/><stop offset=".3325" stop-color="#859987"/><stop offset=".365" stop-color="#6e7e70"/><stop offset=".4325" stop-color="#343b34"/><stop offset=".46" stop-color="#1e231f"/><stop offset=".49" stop-color="#0c0e0d"/><stop offset=".505" stop-color="#060706"/><stop offset=".52" stop-color="#020302"/><stop offset=".535" stop-color="#000000"/><stop offset=".55" stop-color="#000000"/><stop offset=".565" stop-color="#020302"/><stop offset=".5825" stop-color="#070807"/><stop offset=".615" stop-color="#161916"/><stop offset=".6825" stop-color="#3e473f"/><stop offset=".7125" stop-color="#4d584e"/><stop offset=".7425" stop-color="#576458"/><stop offset=".7575" stop-color="#5a675b"/><stop offset=".7725" stop-color="#5a675c"/><stop offset=".7975" stop-color="#576459"/><stop offset=".8225" stop-color="#505b51"/><stop offset=".8525" stop-color="#424b42"/><stop offset=".915" stop-color="#1c201d"/><stop offset=".9425" stop-color="#0e100e"/><stop offset=".9725" stop-color="#030403"/><stop offset="1" stop-color="#000000"/></linearGradient>
<linearGradient id="h2r23"><stop offset="0" stop-color="#000000"/><stop offset=".0125" stop-color="#010101"/><stop offset=".0275" stop-color="#040404"/><stop offset=".0425" stop-color="#090a09"/><stop offset=".0575" stop-color="#0f1210"/><stop offset=".075" stop-color="#1a1d1a"/><stop offset=".0925" stop-color="#262b26"/><stop offset=".1625" stop-color="#5e6c5f"/><stop offset=".195" stop-color="#758676"/><stop offset=".2125" stop-color="#7e9080"/><stop offset=".2275" stop-color="#849786"/><stop offset=".245" stop-color="#889c8a"/><stop offset=".26" stop-color="#899d8b"/><stop offset=".275" stop-color="#889c8a"/><stop offset=".29" stop-color="#859887"/><stop offset=".305" stop-color="#7f9281"/><stop offset=".32" stop-color="#788a7a"/><stop offset=".3525" stop-color="#637164"/><stop offset=".4175" stop-color="#2e352f"/><stop offset=".445" stop-color="#1a1e1b"/><stop offset=".475" stop-color="#0a0b0a"/><stop offset=".5025" stop-color="#020202"/><stop offset=".5175" stop-color="#000000"/><stop offset=".535" stop-color="#010101"/><stop offset=".55" stop-color="#040504"/><stop offset=".5675" stop-color="#0a0b0a"/><stop offset=".585" stop-color="#121512"/><stop offset=".6025" stop-color="#1c201c"/><stop offset=".6675" stop-color="#485249"/><stop offset=".6975" stop-color="#59665a"/><stop offset=".715" stop-color="#616f62"/><stop offset=".73" stop-color="#667467"/><stop offset=".745" stop-color="#69786a"/><stop offset=".76" stop-color="#6a796b"/><stop offset=".7875" stop-color="#667568"/><stop offset=".815" stop-color="#5d6a5e"/><stop offset=".845" stop-color="#4d584e"/><stop offset=".91" stop-color="#212622"/><stop offset=".94" stop-color="#101210"/><stop offset=".97" stop-color="#040504"/><stop offset=".985" stop-color="#010101"/><stop offset="1" stop-color="#000000"/></linearGradient>
<linearGradient id="h2r24"><stop offset="0" stop-color="#000000"/><stop offset=".015" stop-color="#010101"/><stop offset=".0325" stop-color="#050605"/><stop offset=".0475" stop-color="#0b0c0b"/><stop offset=".065" stop-color="#131613"/><stop offset=".095" stop-color="#262c27"/><stop offset=".1625" stop-color="#58655a"/><stop offset=".195" stop-color="#6c7b6d"/><stop offset=".2225" stop-color="#768778"/><stop offset=".25" stop-color="#798b7b"/><stop offset=".265" stop-color="#788a7a"/><stop offset=".28" stop-color="#758677"/><stop offset=".295" stop-color="#708072"/><stop offset=".31" stop-color="#69786b"/><stop offset=".34" stop-color="#576358"/><stop offset=".4025" stop-color="#282e29"/><stop offset=".4275" stop-color="#181b18"/><stop offset=".455" stop-color="#090b0a"/><stop offset=".4825" stop-color="#010201"/><stop offset=".5" stop-color="#000000"/><stop offset=".515" stop-color="#010101"/><stop offset=".5325" stop-color="#050605"/><stop offset=".55" stop-color="#0c0d0c"/><stop offset=".5675" stop-color="#151815"/><stop offset=".585" stop-color="#1f2420"/><stop offset=".655" stop-color="#535f54"/><stop offset=".685" stop-color="#667568"/><stop offset=".7025" stop-color="#6f7f71"/><stop offset=".7175" stop-color="#748676"/><stop offset=".735" stop-color="#788a7a"/><stop offset=".75" stop-color="#798b7b"/><stop offset=".7775" stop-color="#768778"/><stop offset=".805" stop-color="#6c7b6d"/><stop offset=".8375" stop-color="#58655a"/><stop offset=".905" stop-color="#262c27"/><stop offset=".935" stop-color="#131613"/><stop offset=".9525" stop-color="#0b0c0b"/><stop offset=".9675" stop-color="#050605"/><stop offset=".985" stop-color="#010101"/><stop offset="1" stop-color="#000000"/></linearGradient>
<linearGradient id="h2r25"><stop offset="0" stop-color="#000000"/><stop offset=".015" stop-color="#010101"/><stop offset=".03" stop-color="#040504"/><stop offset=".06" stop-color="#101210"/><stop offset=".09" stop-color="#212622"/><stop offset=".155" stop-color="#4d584e"/><stop offset=".185" stop-color="#5d6a5e"/><stop offset=".2125" stop-color="#667568"/><stop offset=".24" stop-color="#6a796b"/><stop offset=".255" stop-color="#69786a"/><stop offset=".27" stop-color="#667467"/><stop offset=".285" stop-color="#616f62"/><stop offset=".3025" stop-color="#59665a"/><stop offset=".3325" stop-color="#485249"/><stop offset=".3975" stop-color="#1c201c"/><stop offset=".415" stop-color="#121512"/><stop offset=".4325" stop-color="#0a0b0a"/><stop offset=".45" stop-color="#040504"/><stop offset=".465" stop-color="#010101"/><stop offset=".4825" stop-color="#000000"/><stop offset=".4975" stop-color="#020202"/><stop offset=".525" stop-color="#0a0b0a"/><stop offset=".555" stop-color="#1a1e1b"/><stop offset=".5825" stop-color="#2e352f"/><stop offset=".6475" stop-color="#637164"/><stop offset=".68" stop-color="#788a7a"/><stop offset=".695" stop-color="#7f9281"/><stop offset=".71" stop-color="#859887"/><stop offset=".725" stop-color="#889c8a"/><stop offset=".74" stop-color="#899d8b"/><stop offset=".755" stop-color="#889c8a"/><stop offset=".7725" stop-color="#849786"/><stop offset=".7875" stop-color="#7e9080"/><stop offset=".805" stop-color="#758676"/><stop offset=".8375" stop-color="#5e6c5f"/><stop offset=".9075" stop-color="#262b26"/><stop offset=".925" stop-color="#1a1d1a"/><stop offset=".9425" stop-color="#0f1210"/><stop offset=".9575" stop-color="#090a09"/><stop offset=".9725" stop-color="#040404"/><stop offset=".9875" stop-color="#010101"/><stop offset="1" stop-color="#000000"/></linearGradient>
<linearGradient id="h2r26"><stop offset="0" stop-color="#000000"/><stop offset=".0275" stop-color="#030403"/><stop offset=".0575" stop-color="#0e100e"/><stop offset=".085" stop-color="#1c201d"/><stop offset=".1475" stop-color="#424b42"/><stop offset=".1775" stop-color="#505b51"/><stop offset=".2025" stop-color="#576459"/><stop offset=".2275" stop-color="#5a675c"/><stop offset=".2425" stop-color="#5a675b"/><stop offset=".2575" stop-color="#576458"/><stop offset=".2875" stop-color="#4d584e"/><stop offset=".3175" stop-color="#3e473f"/><stop offset=".385" stop-color="#161916"/><stop offset=".4175" stop-color="#070807"/><stop offset=".435" stop-color="#020302"/><stop offset=".45" stop-color="#000000"/><stop offset=".465" stop-color="#000000"/><stop offset=".48" stop-color="#020302"/><stop offset=".495" stop-color="#060706"/><stop offset=".51" stop-color="#0c0e0d"/><stop offset=".54" stop-color="#1e231f"/><stop offset=".5675" stop-color="#343b34"/><stop offset=".635" stop-color="#6e7e70"/><stop offset=".6675" stop-color="#859987"/><stop offset=".685" stop-color="#8ea391"/><stop offset=".7" stop-color="#94aa96"/><stop offset=".715" stop-color="#98ae9a"/><stop offset=".73" stop-color="#99af9b"/><stop offset=".745" stop-color="#97ad9a"/><stop offset=".7625" stop-color="#93a895"/><stop offset=".78" stop-color="#8ba08d"/><stop offset=".7975" stop-color="#819483"/><stop offset=".83" stop-color="#69786a"/><stop offset=".9025" stop-color="#2a302b"/><stop offset=".92" stop-color="#1d211e"/><stop offset=".9375" stop-color="#121512"/><stop offset=".955" stop-color="#090b0a"/><stop offset=".97" stop-color="#040504"/><stop offset=".985" stop-color="#010101"/><stop offset="1" stop-color="#000000"/></linearGradient>
<linearGradient id="h2r27"><stop offset="0" stop-color="#000000"/><stop offset=".025" stop-color="#030303"/><stop offset=".0525" stop-color="#0b0d0b"/><stop offset=".08" stop-color="#171b18"/><stop offset=".14" stop-color="#373f38"/><stop offset=".1675" stop-color="#424c43"/><stop offset=".1925" stop-color="#49544a"/><stop offset=".2175" stop-color="#4c574d"/><stop offset=".245" stop-color="#49544a"/><stop offset=".275" stop-color="#414a41"/><stop offset=".3025" stop-color="#343c35"/><stop offset=".3675" stop-color="#131513"/><stop offset=".4" stop-color="#060706"/><stop offset=".4175" stop-color="#020202"/><stop offset=".4325" stop-color="#000000"/><stop offset=".4475" stop-color="#000100"/><stop offset=".4625" stop-color="#030303"/><stop offset=".4775" stop-color="#070807"/><stop offset=".4925" stop-color="#0e100e"/><stop offset=".5075" stop-color="#161917"/><stop offset=".525" stop-color="#222723"/><stop offset=".555" stop-color="#3b443c"/><stop offset=".62" stop-color="#778879"/><stop offset=".6375" stop-color="#859987"/><stop offset=".655" stop-color="#92a794"/><stop offset=".6725" stop-color="#9bb29e"/><stop offset=".6875" stop-color="#a2b9a4"/><stop offset=".7025" stop-color="#a5bea8"/><stop offset=".7175" stop-color="#a7bfa9"/><stop offset=".735" stop-color="#a5bea8"/><stop offset=".7525" stop-color="#a1b8a3"/><stop offset=".77" stop-color="#99af9b"/><stop offset=".7875" stop-color="#8ea390"/><stop offset=".82" stop-color="#758676"/><stop offset=".8975" stop-color="#2e352f"/><stop offset=".9175" stop-color="#1f231f"/><stop offset=".935" stop-color="#131614"/><stop offset=".9525" stop-color="#0a0c0a"/><stop offset=".9675" stop-color="#050605"/><stop offset=".9825" stop-color="#010201"/><stop offset="1" stop-color="#000000"/></linearGradient>
<linearGradient id="h2r28"><stop offset="0" stop-color="#000000"/><stop offset=".025" stop-color="#020303"/><stop offset=".05" stop-color="#090b09"/><stop offset=".075" stop-color="#131613"/><stop offset=".1325" stop-color="#2d342e"/><stop offset=".16" stop-color="#373f38"/><stop offset=".185" stop-color="#3c453d"/><stop offset=".2075" stop-color="#3e473f"/><stop offset=".235" stop-color="#3c453d"/><stop offset=".2625" stop-color="#353d36"/><stop offset=".29" stop-color="#2b312b"/><stop offset=".3525" stop-color="#0f110f"/><stop offset=".3825" stop-color="#050505"/><stop offset=".4" stop-color="#010101"/><stop offset=".415" stop-color="#000000"/><stop offset=".43" stop-color="#010101"/><stop offset=".445" stop-color="#030404"/><stop offset=".46" stop-color="#080908"/><stop offset=".4775" stop-color="#101311"/><stop offset=".4925" stop-color="#191d1a"/><stop offset=".51" stop-color="#262b26"/><stop offset=".54" stop-color="#404941"/><stop offset=".6075" stop-color="#809382"/><stop offset=".625" stop-color="#8fa492"/><stop offset=".6425" stop-color="#9cb39f"/><stop offset=".66" stop-color="#a7bfa9"/><stop offset=".675" stop-color="#adc7b0"/><stop offset=".6925" stop-color="#b2ccb5"/><stop offset=".7075" stop-color="#b4ceb6"/><stop offset=".725" stop-color="#b2ccb5"/><stop offset=".7425" stop-color="#adc6b0"/><stop offset=".76" stop-color="#a5bda7"/><stop offset=".78" stop-color="#98af9b"/><stop offset=".8125" stop-color="#7d907f"/><stop offset=".89" stop-color="#343b34"/><stop offset=".91" stop-color="#232824"/><stop offset=".93" stop-color="#161916"/><stop offset=".9475" stop-color="#0c0e0c"/><stop offset=".965" stop-color="#050605"/><stop offset=".9825" stop-color="#010201"/><stop offset="1" stop-color="#000000"/></linearGradient>
<linearGradient id="h2r29"><stop offset="0" stop-color="#000000"/><stop offset=".0225" stop-color="#020202"/><stop offset=".0475" stop-color="#080908"/><stop offset=".1225" stop-color="#232824"/><stop offset=".15" stop-color="#2c322c"/><stop offset=".175" stop-color="#313831"/><stop offset=".1975" stop-color="#323933"/><stop offset=".2225" stop-color="#303731"/><stop offset=".25" stop-color="#2b312b"/><stop offset=".275" stop-color="#232823"/><stop offset=".3375" stop-color="#0b0d0b"/><stop offset=".3675" stop-color="#030303"/><stop offset=".3975" stop-color="#000000"/><stop offset=".4125" stop-color="#010101"/><stop offset=".4275" stop-color="#040504"/><stop offset=".4425" stop-color="#090a09"/><stop offset=".46" stop-color="#111411"/><stop offset=".4775" stop-color="#1c201c"/><stop offset=".495" stop-color="#292f2a"/><stop offset=".525" stop-color="#434d44"/><stop offset=".595" stop-color="#899d8b"/><stop offset=".6125" stop-color="#98ae9a"/><stop offset=".63" stop-color="#a5bda8"/><stop offset=".6475" stop-color="#b0cab3"/><stop offset=".665" stop-color="#b8d3bb"/><stop offset=".6825" stop-color="#bdd9c0"/><stop offset=".6975" stop-color="#bedac1"/><stop offset=".715" stop-color="#bdd8bf"/><stop offset=".7325" stop-color="#b8d2ba"/><stop offset=".75" stop-color="#afc9b2"/><stop offset=".77" stop-color="#a2baa5"/><stop offset=".7875" stop-color="#94aa97"/><stop offset=".805" stop-color="#859887"/><stop offset=".885" stop-color="#363e37"/><stop offset=".905" stop-color="#262b26"/><stop offset=".925" stop-color="#181b18"/><stop offset=".945" stop-color="#0d0e0d"/><stop offset=".9625" stop-color="#060706"/><stop offset=".98" stop-color="#020202"/><stop offset="1" stop-color="#000000"/></linearGradient>
<linearGradient id="h2r30"><stop offset="0" stop-color="#000000"/><stop offset=".0225" stop-color="#020202"/><stop offset=".045" stop-color="#060706"/><stop offset=".1175" stop-color="#1c201d"/><stop offset=".1425" stop-color="#232823"/><stop offset=".165" stop-color="#262c27"/><stop offset=".185" stop-color="#272d28"/><stop offset=".21" stop-color="#262c27"/><stop offset=".2375" stop-color="#212622"/><stop offset=".32" stop-color="#090a09"/><stop offset=".35" stop-color="#020202"/><stop offset=".3825" stop-color="#000000"/><stop offset=".3975" stop-color="#020202"/><stop offset=".4125" stop-color="#050605"/><stop offset=".4275" stop-color="#0b0c0b"/><stop offset=".445" stop-color="#131613"/><stop offset=".4625" stop-color="#1e231f"/><stop offset=".48" stop-color="#2b322c"/><stop offset=".5125" stop-color="#49534a"/><stop offset=".585" stop-color="#91a693"/><stop offset=".6025" stop-color="#a0b8a3"/><stop offset=".62" stop-color="#aec7b0"/><stop offset=".6375" stop-color="#b8d3bb"/><stop offset=".655" stop-color="#c0dcc3"/><stop offset=".6725" stop-color="#c5e2c8"/><stop offset=".6875" stop-color="#c6e3c9"/><stop offset=".705" stop-color="#c5e1c7"/><stop offset=".725" stop-color="#bedac1"/><stop offset=".7425" stop-color="#b6d0b8"/><stop offset=".7625" stop-color="#a8c1ab"/><stop offset=".78" stop-color="#9ab09c"/><stop offset=".7975" stop-color="#8a9e8c"/><stop offset=".8775" stop-color="#3a433b"/><stop offset=".9" stop-color="#272d28"/><stop offset=".92" stop-color="#191d1a"/><stop offset=".94" stop-color="#0e100e"/><stop offset=".96" stop-color="#060706"/><stop offset=".98" stop-color="#010201"/><stop offset="1" stop-color="#000000"/></linearGradient>
<linearGradient id="h2r31"><stop offset="0" stop-color="#000000"/><stop offset=".02" stop-color="#010101"/><stop offset=".04" stop-color="#040504"/><stop offset=".1325" stop-color="#1a1e1b"/><stop offset=".1725" stop-color="#1e231f"/><stop offset=".1975" stop-color="#1e221e"/><stop offset=".2225" stop-color="#1a1e1b"/><stop offset=".305" stop-color="#060706"/><stop offset=".335" stop-color="#010101"/><stop offset=".365" stop-color="#000000"/><stop offset=".395" stop-color="#060706"/><stop offset=".4125" stop-color="#0c0e0c"/><stop offset=".43" stop-color="#151815"/><stop offset=".4475" stop-color="#202420"/><stop offset=".465" stop-color="#2d342e"/><stop offset=".4975" stop-color="#4a554b"/><stop offset=".5725" stop-color="#95ab97"/><stop offset=".59" stop-color="#a4bca7"/><stop offset=".6075" stop-color="#b2ccb4"/><stop offset=".625" stop-color="#bdd8bf"/><stop offset=".6425" stop-color="#c5e1c8"/><stop offset=".66" stop-color="#cae7cd"/><stop offset=".6775" stop-color="#cbe9ce"/><stop offset=".695" stop-color="#c9e7cc"/><stop offset=".715" stop-color="#c3e0c6"/><stop offset=".7325" stop-color="#bbd6bd"/><stop offset=".7525" stop-color="#adc7b0"/><stop offset=".77" stop-color="#9fb7a2"/><stop offset=".7875" stop-color="#8fa491"/><stop offset=".85" stop-color="#515c52"/><stop offset=".8725" stop-color="#3b443c"/><stop offset=".895" stop-color="#282e29"/><stop offset=".915" stop-color="#1a1e1b"/><stop offset=".9375" stop-color="#0e100e"/><stop offset=".9575" stop-color="#060706"/><stop offset=".9775" stop-color="#020202"/><stop offset="1" stop-color="#000000"/></linearGradient>
<linearGradient id="h2r32"><stop offset="0" stop-color="#000000"/><stop offset=".0375" stop-color="#030403"/><stop offset=".125" stop-color="#141714"/><stop offset=".1625" stop-color="#171a17"/><stop offset=".185" stop-color="#161917"/><stop offset=".21" stop-color="#141614"/><stop offset=".2875" stop-color="#050505"/><stop offset=".3175" stop-color="#010101"/><stop offset=".35" stop-color="#010101"/><stop offset=".38" stop-color="#070807"/><stop offset=".3975" stop-color="#0d0f0d"/><stop offset=".415" stop-color="#161916"/><stop offset=".4325" stop-color="#212621"/><stop offset=".45" stop-color="#2e342e"/><stop offset=".485" stop-color="#4c584e"/><stop offset=".56" stop-color="#96ac98"/><stop offset=".5775" stop-color="#a5bea8"/><stop offset=".595" stop-color="#b3cdb5"/><stop offset=".615" stop-color="#bfdbc2"/><stop offset=".6325" stop-color="#c7e4ca"/><stop offset=".65" stop-color="#cce9ce"/><stop offset=".6675" stop-color="#cdebd0"/><stop offset=".685" stop-color="#cbe9ce"/><stop offset=".705" stop-color="#c5e2c8"/><stop offset=".7225" stop-color="#bdd8bf"/><stop offset=".7425" stop-color="#b0c9b2"/><stop offset=".7775" stop-color="#92a894"/><stop offset=".8425" stop-color="#525e53"/><stop offset=".865" stop-color="#3d463e"/><stop offset=".8875" stop-color="#2a312b"/><stop offset=".91" stop-color="#1b1f1b"/><stop offset=".9325" stop-color="#0f110f"/><stop offset=".955" stop-color="#060706"/><stop offset=".9775" stop-color="#010201"/><stop offset="1" stop-color="#000000"/></linearGradient>
<linearGradient id="h2r33"><stop offset="0" stop-color="#000000"/><stop offset=".03" stop-color="#020202"/><stop offset=".11" stop-color="#0e100e"/><stop offset=".15" stop-color="#111311"/><stop offset=".195" stop-color="#0e110f"/><stop offset=".2725" stop-color="#030303"/><stop offset=".3025" stop-color="#000000"/><stop offset=".335" stop-color="#010101"/><stop offset=".365" stop-color="#080908"/><stop offset=".3825" stop-color="#0e100e"/><stop offset=".4" stop-color="#161a17"/><stop offset=".4175" stop-color="#212621"/><stop offset=".4375" stop-color="#2f3630"/><stop offset=".47" stop-color="#4b564c"/><stop offset=".5475" stop-color="#95ab97"/><stop offset=".5675" stop-color="#a6bea8"/><stop offset=".585" stop-color="#b2ccb5"/><stop offset=".6025" stop-color="#bdd8bf"/><stop offset=".62" stop-color="#c5e1c7"/><stop offset=".6375" stop-color="#c9e7cc"/><stop offset=".655" stop-color="#cbe9ce"/><stop offset=".6725" stop-color="#cae7cd"/><stop offset=".6925" stop-color="#c5e1c7"/><stop offset=".7125" stop-color="#bbd7be"/><stop offset=".7325" stop-color="#afc8b1"/><stop offset=".75" stop-color="#a2b9a4"/><stop offset=".77" stop-color="#90a592"/><stop offset=".8575" stop-color="#3e473f"/><stop offset=".8825" stop-color="#2a302a"/><stop offset=".905" stop-color="#1b1f1b"/><stop offset=".9275" stop-color="#0f110f"/><stop offset=".95" stop-color="#070807"/><stop offset=".975" stop-color="#020202"/><stop offset="1" stop-color="#000000"/></linearGradient>
<linearGradient id="h2r34"><stop offset="0" stop-color="#000000"/><stop offset=".03" stop-color="#010201"/><stop offset=".1" stop-color="#090b0a"/><stop offset=".135" stop-color="#0c0d0c"/><stop offset=".18" stop-color="#0a0c0b"/><stop offset=".2575" stop-color="#020202"/><stop offset=".2875" stop-color="#000000"/><stop offset=".32" stop-color="#020202"/><stop offset=".35" stop-color="#080908"/><stop offset=".37" stop-color="#0f1210"/><stop offset=".3875" stop-color="#181b18"/><stop offset=".405" stop-color="#222722"/><stop offset=".425" stop-color="#303731"/><stop offset=".4575" stop-color="#4a554c"/><stop offset=".535" stop-color="#91a693"/><stop offset=".555" stop-color="#a1b8a3"/><stop offset=".5725" stop-color="#adc6b0"/><stop offset=".5925" stop-color="#b8d3bb"/><stop offset=".61" stop-color="#c0dcc3"/><stop offset=".6275" stop-color="#c4e1c7"/><stop offset=".645" stop-color="#c6e3c9"/><stop offset=".665" stop-color="#c4e1c7"/><stop offset=".685" stop-color="#bfdac1"/><stop offset=".705" stop-color="#b5d0b8"/><stop offset=".725" stop-color="#a9c2ac"/><stop offset=".7625" stop-color="#8ca08e"/><stop offset=".85" stop-color="#3d463e"/><stop offset=".875" stop-color="#2a302a"/><stop offset=".9" stop-color="#1a1e1a"/><stop offset=".9225" stop-color="#0f110f"/><stop offset=".9475" stop-color="#060707"/><stop offset=".9725" stop-color="#020202"/><stop offset="1" stop-color="#000000"/></linearGradient>
<linearGradient id="h2r35"><stop offset="0" stop-color="#000000"/><stop offset=".03" stop-color="#010101"/><stop offset=".1" stop-color="#070807"/><stop offset=".135" stop-color="#080908"/><stop offset=".175" stop-color="#070807"/><stop offset=".25" stop-color="#010101"/><stop offset=".28" stop-color="#000000"/><stop offset=".31" stop-color="#030303"/><stop offset=".3375" stop-color="#090a09"/><stop offset=".3575" stop-color="#101310"/><stop offset=".375" stop-color="#181c19"/><stop offset=".3925" stop-color="#222723"/><stop offset=".4125" stop-color="#2f3630"/><stop offset=".4475" stop-color="#4a554b"/><stop offset=".5225" stop-color="#8a9e8c"/><stop offset=".56" stop-color="#a5bda7"/><stop offset=".58" stop-color="#b0c9b2"/><stop offset=".5975" stop-color="#b7d1b9"/><stop offset=".6175" stop-color="#bcd7be"/><stop offset=".635" stop-color="#bdd9c0"/><stop offset=".655" stop-color="#bbd7be"/><stop offset=".675" stop-color="#b6d1b9"/><stop offset=".695" stop-color="#aec7b0"/><stop offset=".715" stop-color="#a2baa5"/><stop offset=".7525" stop-color="#879a89"/><stop offset=".8175" stop-color="#4f5b50"/><stop offset=".845" stop-color="#39413a"/><stop offset=".87" stop-color="#272d28"/><stop offset=".895" stop-color="#191c19"/><stop offset=".92" stop-color="#0e100e"/><stop offset=".945" stop-color="#060706"/><stop offset=".9725" stop-color="#010201"/><stop offset="1" stop-color="#000000"/></linearGradient>
<linearGradient id="h2r36"><stop offset="0" stop-color="#000000"/><stop offset=".125" stop-color="#050605"/><stop offset=".26" stop-color="#000000"/><stop offset=".295" stop-color="#030403"/><stop offset=".325" stop-color="#0a0b0a"/><stop offset=".3625" stop-color="#181c18"/><stop offset=".4" stop-color="#2d342e"/><stop offset=".435" stop-color="#465147"/><stop offset=".51" stop-color="#819483"/><stop offset=".53" stop-color="#8fa491"/><stop offset=".55" stop-color="#9bb29d"/><stop offset=".57" stop-color="#a5bda7"/><stop offset=".5875" stop-color="#abc4ae"/><stop offset=".6075" stop-color="#b0c9b2"/><stop offset=".625" stop-color="#b1cbb4"/><stop offset=".645" stop-color="#afc9b2"/><stop offset=".665" stop-color="#abc4ad"/><stop offset=".685" stop-color="#a3bba5"/><stop offset=".705" stop-color="#98af9b"/><stop offset=".7425" stop-color="#7f9281"/><stop offset=".81" stop-color="#4a554b"/><stop offset=".8375" stop-color="#363e37"/><stop offset=".865" stop-color="#242925"/><stop offset=".89" stop-color="#171a17"/><stop offset=".915" stop-color="#0d0f0d"/><stop offset=".9425" stop-color="#050605"/><stop offset=".97" stop-color="#010101"/><stop offset="1" stop-color="#000000"/></linearGradient>
<linearGradient id="h2r37"><stop offset="0" stop-color="#000000"/><stop offset=".115" stop-color="#030403"/><stop offset=".2425" stop-color="#000000"/><stop offset=".2775" stop-color="#030303"/><stop offset=".31" stop-color="#090a09"/><stop offset=".3475" stop-color="#161916"/><stop offset=".385" stop-color="#292f29"/><stop offset=".42" stop-color="#3f4840"/><stop offset=".5" stop-color="#778979"/><stop offset=".5375" stop-color="#8da290"/><stop offset=".5575" stop-color="#97ad99"/><stop offset=".5775" stop-color="#9db49f"/><stop offset=".5975" stop-color="#a1b9a3"/><stop offset=".615" stop-color="#a2baa4"/><stop offset=".635" stop-color="#a1b8a3"/><stop offset=".655" stop-color="#9cb39e"/><stop offset=".675" stop-color="#95ab97"/><stop offset=".695" stop-color="#8ca08e"/><stop offset=".7325" stop-color="#758677"/><stop offset=".83" stop-color="#313932"/><stop offset=".8575" stop-color="#212622"/><stop offset=".8825" stop-color="#161916"/><stop offset=".91" stop-color="#0c0d0c"/><stop offset=".9375" stop-color="#050605"/><stop offset=".9675" stop-color="#010101"/><stop offset="1" stop-color="#000000"/></linearGradient>
<linearGradient id="h2r38"><stop offset="0" stop-color="#000000"/><stop offset=".1025" stop-color="#020202"/><stop offset=".2275" stop-color="#000000"/><stop offset=".265" stop-color="#030403"/><stop offset=".2975" stop-color="#090a09"/><stop offset=".335" stop-color="#141715"/><stop offset=".3725" stop-color="#252b26"/><stop offset=".4075" stop-color="#39413a"/><stop offset=".4875" stop-color="#6a7a6c"/><stop offset=".5275" stop-color="#7f9281"/><stop offset=".5475" stop-color="#879b89"/><stop offset=".5675" stop-color="#8da18f"/><stop offset=".5875" stop-color="#90a592"/><stop offset=".605" stop-color="#91a693"/><stop offset=".625" stop-color="#8fa492"/><stop offset=".645" stop-color="#8ca08e"/><stop offset=".665" stop-color="#859987"/><stop offset=".685" stop-color="#7d8f7f"/><stop offset=".7225" stop-color="#69796b"/><stop offset=".8225" stop-color="#2c332d"/><stop offset=".85" stop-color="#1e231f"/><stop offset=".8775" stop-color="#131613"/><stop offset=".905" stop-color="#0a0c0a"/><stop offset=".935" stop-color="#040504"/><stop offset=".965" stop-color="#010101"/><stop offset="1" stop-color="#000000"/></linearGradient>
<linearGradient id="h2r39"><stop offset="0" stop-color="#000000"/><stop offset=".09" stop-color="#010101"/><stop offset=".2125" stop-color="#000000"/><stop offset=".2525" stop-color="#030403"/><stop offset=".2875" stop-color="#090a09"/><stop offset=".325" stop-color="#131613"/><stop offset=".3625" stop-color="#222722"/><stop offset=".3975" stop-color="#333a33"/><stop offset=".475" stop-color="#5c695d"/><stop offset=".515" stop-color="#6e7e6f"/><stop offset=".535" stop-color="#758676"/><stop offset=".555" stop-color="#7a8c7c"/><stop offset=".575" stop-color="#7d8f7f"/><stop offset=".595" stop-color="#7e9080"/><stop offset=".615" stop-color="#7d8f7e"/><stop offset=".635" stop-color="#798b7b"/><stop offset=".675" stop-color="#6d7d6e"/><stop offset=".715" stop-color="#5b685c"/><stop offset=".8125" stop-color="#282d28"/><stop offset=".8425" stop-color="#1a1e1b"/><stop offset=".87" stop-color="#111311"/><stop offset=".9" stop-color="#090a09"/><stop offset=".93" stop-color="#040404"/><stop offset=".9625" stop-color="#010101"/><stop offset="1" stop-color="#000000"/></linearGradient>
<linearGradient id="h2r40"><stop offset="0" stop-color="#000000"/><stop offset=".1975" stop-color="#000000"/><stop offset=".2375" stop-color="#030303"/><stop offset=".275" stop-color="#080908"/><stop offset=".3125" stop-color="#101311"/><stop offset=".35" stop-color="#1d211d"/><stop offset=".385" stop-color="#2b312b"/><stop offset=".465" stop-color="#4e594f"/><stop offset=".505" stop-color="#5d6a5e"/><stop offset=".545" stop-color="#677668"/><stop offset=".5825" stop-color="#6a796b"/><stop offset=".6225" stop-color="#667568"/><stop offset=".665" stop-color="#5c695d"/><stop offset=".705" stop-color="#4d584e"/><stop offset=".805" stop-color="#212622"/><stop offset=".835" stop-color="#161917"/><stop offset=".865" stop-color="#0e100e"/><stop offset=".895" stop-color="#070807"/><stop offset=".925" stop-color="#030403"/><stop offset=".96" stop-color="#010101"/><stop offset="1" stop-color="#000000"/></linearGradient>
<linearGradient id="h2r41"><stop offset="0" stop-color="#000000"/><stop offset=".185" stop-color="#000000"/><stop offset=".2275" stop-color="#030303"/><stop offset=".265" stop-color="#070807"/><stop offset=".3025" stop-color="#0e100e"/><stop offset=".34" stop-color="#181b18"/><stop offset=".4525" stop-color="#3f4840"/><stop offset=".4925" stop-color="#4b564c"/><stop offset=".5325" stop-color="#535f54"/><stop offset=".5725" stop-color="#566257"/><stop offset=".6125" stop-color="#535f54"/><stop offset=".655" stop-color="#4a554b"/><stop offset=".695" stop-color="#3e473f"/><stop offset=".7975" stop-color="#1a1e1b"/><stop offset=".8575" stop-color="#0b0d0b"/><stop offset=".8875" stop-color="#060706"/><stop offset=".92" stop-color="#020303"/><stop offset="1" stop-color="#000000"/></linearGradient>
<linearGradient id="h2r42"><stop offset="0" stop-color="#000000"/><stop offset=".1725" stop-color="#000000"/><stop offset=".215" stop-color="#020202"/><stop offset=".2525" stop-color="#050606"/><stop offset=".29" stop-color="#0b0d0b"/><stop offset=".3275" stop-color="#121513"/><stop offset=".4425" stop-color="#313831"/><stop offset=".4825" stop-color="#3a423a"/><stop offset=".5225" stop-color="#404941"/><stop offset=".5625" stop-color="#424b43"/><stop offset=".6025" stop-color="#404941"/><stop offset=".645" stop-color="#39423a"/><stop offset=".685" stop-color="#303731"/><stop offset=".7875" stop-color="#151815"/><stop offset=".85" stop-color="#080a09"/><stop offset=".915" stop-color="#020202"/><stop offset="1" stop-color="#000000"/></linearGradient>
<linearGradient id="h2r43"><stop offset="0" stop-color="#000000"/><stop offset=".1625" stop-color="#000000"/><stop offset=".2425" stop-color="#040504"/><stop offset=".3175" stop-color="#0e100e"/><stop offset=".47" stop-color="#292f2a"/><stop offset=".5125" stop-color="#2e352f"/><stop offset=".5525" stop-color="#303730"/><stop offset=".5925" stop-color="#2e352f"/><stop offset=".635" stop-color="#292f2a"/><stop offset=".78" stop-color="#0f110f"/><stop offset=".8425" stop-color="#060706"/><stop offset=".91" stop-color="#010101"/><stop offset="1" stop-color="#000000"/></linearGradient>
<linearGradient id="h2r44"><stop offset="0" stop-color="#000000"/><stop offset=".1525" stop-color="#000000"/><stop offset=".2325" stop-color="#030303"/><stop offset=".3075" stop-color="#090b09"/><stop offset=".46" stop-color="#1b1f1c"/><stop offset=".5025" stop-color="#1e231f"/><stop offset=".5425" stop-color="#1f2420"/><stop offset=".5825" stop-color="#1e231f"/><stop offset=".625" stop-color="#1b1f1c"/><stop offset=".77" stop-color="#0a0b0a"/><stop offset=".835" stop-color="#040504"/><stop offset=".905" stop-color="#010101"/><stop offset="1" stop-color="#000000"/></linearGradient>
<linearGradient id="h2r45"><stop offset="0" stop-color="#000000"/><stop offset=".1425" stop-color="#000000"/><stop offset=".225" stop-color="#020202"/><stop offset=".2975" stop-color="#050605"/><stop offset=".4475" stop-color="#101210"/><stop offset=".53" stop-color="#121512"/><stop offset=".615" stop-color="#101210"/><stop offset=".8275" stop-color="#020302"/><stop offset="1" stop-color="#000000"/></linearGradient>
<linearGradient id="h2r46"><stop offset="0" stop-color="#000000"/><stop offset=".215" stop-color="#010101"/><stop offset=".4375" stop-color="#070807"/><stop offset=".52" stop-color="#080908"/><stop offset=".605" stop-color="#070807"/><stop offset=".82" stop-color="#010101"/><stop offset="1" stop-color="#000000"/></linearGradient>
<linearGradient id="h2r47"><stop offset="0" stop-color="#000000"/><stop offset=".51" stop-color="#020202"/><stop offset="1" stop-color="#000000"/></linearGradient>
<linearGradient id="h2mg" gradientUnits="userSpaceOnUse" x1="0" y1="0" x2="0" y2="8.4042" spreadMethod="reflect"><stop offset="0" stop-color="#fff" stop-opacity="0"/><stop offset="1" stop-color="#fff" stop-opacity="1"/></linearGradient>
<mask id="h2m" maskUnits="userSpaceOnUse" x="0" y="-8.404" width="429.60" height="420.208"><rect y="-8.404" width="429.60" height="420.208" fill="url(#h2mg)"/></mask>
<clipPath id="h2c"><rect width="429.60" height="403.40"/></clipPath>
<g id="h2" clip-path="url(#h2c)"><g><rect y="8.404" width="429.60" height="16.808" fill="url(#h2r2)"/><rect y="25.212" width="429.60" height="16.808" fill="url(#h2r4)"/><rect y="42.021" width="429.60" height="16.808" fill="url(#h2r6)"/><rect y="58.829" width="429.60" height="16.808" fill="url(#h2r8)"/><rect y="75.638" width="429.60" height="16.808" fill="url(#h2r10)"/><rect y="92.446" width="429.60" height="16.808" fill="url(#h2r12)"/><rect y="109.254" width="429.60" height="16.808" fill="url(#h2r14)"/><rect y="126.062" width="429.60" height="16.808" fill="url(#h2r16)"/><rect y="142.871" width="429.60" height="16.808" fill="url(#h2r18)"/><rect y="159.679" width="429.60" height="16.808" fill="url(#h2r20)"/><rect y="176.488" width="429.60" height="16.808" fill="url(#h2r22)"/><rect y="193.296" width="429.60" height="16.808" fill="url(#h2r24)"/><rect y="210.104" width="429.60" height="16.808" fill="url(#h2r26)"/><rect y="226.912" width="429.60" height="16.808" fill="url(#h2r28)"/><rect y="243.721" width="429.60" height="16.808" fill="url(#h2r30)"/><rect y="260.529" width="429.60" height="16.808" fill="url(#h2r32)"/><rect y="277.338" width="429.60" height="16.808" fill="url(#h2r34)"/><rect y="294.146" width="429.60" height="16.808" fill="url(#h2r36)"/><rect y="310.954" width="429.60" height="16.808" fill="url(#h2r38)"/><rect y="327.763" width="429.60" height="16.808" fill="url(#h2r40)"/><rect y="344.571" width="429.60" height="16.808" fill="url(#h2r42)"/><rect y="361.379" width="429.60" height="16.808" fill="url(#h2r44)"/><rect y="378.188" width="429.60" height="16.808" fill="url(#h2r46)"/></g><g mask="url(#h2m)"><rect y="0.000" width="429.60" height="16.808" fill="url(#h2r1)"/><rect y="16.808" width="429.60" height="16.808" fill="url(#h2r3)"/><rect y="33.617" width="429.60" height="16.808" fill="url(#h2r5)"/><rect y="50.425" width="429.60" height="16.808" fill="url(#h2r7)"/><rect y="67.233" width="429.60" height="16.808" fill="url(#h2r9)"/><rect y="84.042" width="429.60" height="16.808" fill="url(#h2r11)"/><rect y="100.850" width="429.60" height="16.808" fill="url(#h2r13)"/><rect y="117.658" width="429.60" height="16.808" fill="url(#h2r15)"/><rect y="134.467" width="429.60" height="16.808" fill="url(#h2r17)"/><rect y="151.275" width="429.60" height="16.808" fill="url(#h2r19)"/><rect y="168.083" width="429.60" height="16.808" fill="url(#h2r21)"/><rect y="184.892" width="429.60" height="16.808" fill="url(#h2r23)"/><rect y="201.700" width="429.60" height="16.808" fill="url(#h2r25)"/><rect y="218.508" width="429.60" height="16.808" fill="url(#h2r27)"/><rect y="235.317" width="429.60" height="16.808" fill="url(#h2r29)"/><rect y="252.125" width="429.60" height="16.808" fill="url(#h2r31)"/><rect y="268.933" width="429.60" height="16.808" fill="url(#h2r33)"/><rect y="285.742" width="429.60" height="16.808" fill="url(#h2r35)"/><rect y="302.550" width="429.60" height="16.808" fill="url(#h2r37)"/><rect y="319.358" width="429.60" height="16.808" fill="url(#h2r39)"/><rect y="336.167" width="429.60" height="16.808" fill="url(#h2r41)"/><rect y="352.975" width="429.60" height="16.808" fill="url(#h2r43)"/><rect y="369.783" width="429.60" height="16.808" fill="url(#h2r45)"/><rect y="386.592" width="429.60" height="16.808" fill="url(#h2r47)"/></g></g>
<linearGradient id="h3r1"><stop offset="0" stop-color="#000000"/><stop offset="1" stop-color="#000000"/></linearGradient>
<linearGradient id="h3r2"><stop offset="0" stop-color="#000000"/><stop offset=".145" stop-color="#010101"/><stop offset=".3075" stop-color="#000000"/><stop offset=".48" stop-color="#030303"/><stop offset=".65" stop-color="#000000"/><stop offset=".8125" stop-color="#010101"/><stop offset="1" stop-color="#000000"/></linearGradient>
<linearGradient id="h3r3"><stop offset="0" stop-color="#000000"/><stop offset=".135" stop-color="#020202"/><stop offset=".2925" stop-color="#000000"/><stop offset=".4675" stop-color="#070807"/><stop offset=".6475" stop-color="#000000"/><stop offset=".8025" stop-color="#020202"/><stop offset="1" stop-color="#000000"/></linearGradient>
<linearGradient id="h3r4"><stop offset="0" stop-color="#000000"/><stop offset=".1225" stop-color="#030303"/><stop offset=".235" stop-color="#000000"/><stop offset=".275" stop-color="#000000"/><stop offset=".32" stop-color="#030403"/><stop offset=".4125" stop-color="#0d0e0d"/><stop offset=".4575" stop-color="#0e100f"/><stop offset=".5025" stop-color="#0d0e0d"/><stop offset=".5975" stop-color="#030403"/><stop offset=".645" stop-color="#000000"/><stop offset=".7925" stop-color="#030303"/><stop offset=".9025" stop-color="#000000"/><stop offset="1" stop-color="#000000"/></linearGradient>
<linearGradient id="h3r5"><stop offset="0" stop-color="#000000"/><stop offset=".1125" stop-color="#030403"/><stop offset=".2175" stop-color="#000000"/><stop offset=".26" stop-color="#010101"/><stop offset=".305" stop-color="#050606"/><stop offset=".4" stop-color="#151916"/><stop offset=".4475" stop-color="#191c19"/><stop offset=".4925" stop-color="#161916"/><stop offset=".5925" stop-color="#050605"/><stop offset=".6425" stop-color="#010101"/><stop offset=".68" stop-color="#000000"/><stop offset=".7825" stop-color="#030403"/><stop offset=".885" stop-color="#000000"/><stop offset="1" stop-color="#000000"/></linearGradient>
<linearGradient id="h3r6"><stop offset="0" stop-color="#000000"/><stop offset=".1" stop-color="#030403"/><stop offset=".2025" stop-color="#000000"/><stop offset=".245" stop-color="#020202"/><stop offset=".2925" stop-color="#090a09"/><stop offset=".39" stop-color="#222622"/><stop offset=".415" stop-color="#252b26"/><stop offset=".4375" stop-color="#262c27"/><stop offset=".46" stop-color="#252b26"/><stop offset=".485" stop-color="#222622"/><stop offset=".585" stop-color="#090a09"/><stop offset=".6125" stop-color="#040404"/><stop offset=".6375" stop-color="#010101"/><stop offset=".675" stop-color="#000000"/><stop offset=".7725" stop-color="#030403"/><stop offset=".8675" stop-color="#000000"/><stop offset=".9375" stop-color="#010101"/><stop offset="1" stop-color="#000000"/></linearGradient>
<linearGradient id="h3r7"><stop offset="0" stop-color="#000000"/><stop offset=".0925" stop-color="#030303"/><stop offset=".1925" stop-color="#000000"/><stop offset=".23" stop-color="#030303"/><stop offset=".255" stop-color="#070807"/><stop offset=".28" stop-color="#0e100e"/><stop offset=".3525" stop-color="#282e29"/><stop offset=".3775" stop-color="#303731"/><stop offset=".4025" stop-color="#353d36"/><stop offset=".4275" stop-color="#373f38"/><stop offset=".45" stop-color="#363d36"/><stop offset=".475" stop-color="#313831"/><stop offset=".5" stop-color="#292f29"/><stop offset=".58" stop-color="#0c0e0c"/><stop offset=".6075" stop-color="#050605"/><stop offset=".635" stop-color="#010201"/><stop offset=".6725" stop-color="#000000"/><stop offset=".7625" stop-color="#030303"/><stop offset=".8475" stop-color="#000000"/><stop offset=".9275" stop-color="#020202"/><stop offset="1" stop-color="#000000"/></linearGradient>
<linearGradient id="h3r8"><stop offset="0" stop-color="#000000"/><stop offset=".0825" stop-color="#020302"/><stop offset=".1725" stop-color="#000000"/><stop offset=".215" stop-color="#040404"/><stop offset=".24" stop-color="#0a0b0a"/><stop offset=".265" stop-color="#121513"/><stop offset=".3425" stop-color="#384038"/><stop offset=".3675" stop-color="#424b43"/><stop offset=".3925" stop-color="#485349"/><stop offset=".4175" stop-color="#4b564c"/><stop offset=".44" stop-color="#49534a"/><stop offset=".465" stop-color="#424c43"/><stop offset=".49" stop-color="#384039"/><stop offset=".5475" stop-color="#1c201c"/><stop offset=".5725" stop-color="#111311"/><stop offset=".6025" stop-color="#070807"/><stop offset=".63" stop-color="#020202"/><stop offset=".665" stop-color="#000000"/><stop offset=".7425" stop-color="#020202"/><stop offset=".8325" stop-color="#000000"/><stop offset=".9175" stop-color="#020302"/><stop offset="1" stop-color="#000000"/></linearGradient>
<linearGradient id="h3r9"><stop offset="0" stop-color="#000000"/><stop offset=".0725" stop-color="#020202"/><stop offset=".1575" stop-color="#000000"/><stop offset=".18" stop-color="#020202"/><stop offset=".2025" stop-color="#060706"/><stop offset=".2275" stop-color="#0d0f0e"/><stop offset=".2525" stop-color="#191c19"/><stop offset=".275" stop-color="#252b26"/><stop offset=".33" stop-color="#475248"/><stop offset=".355" stop-color="#546155"/><stop offset=".3825" stop-color="#5e6b5f"/><stop offset=".4075" stop-color="#606e62"/><stop offset=".43" stop-color="#5e6b5f"/><stop offset=".455" stop-color="#556257"/><stop offset=".4825" stop-color="#475248"/><stop offset=".5375" stop-color="#252b26"/><stop offset=".565" stop-color="#161916"/><stop offset=".595" stop-color="#0a0b0a"/><stop offset=".6225" stop-color="#030403"/><stop offset=".6625" stop-color="#000000"/><stop offset=".74" stop-color="#020202"/><stop offset=".8175" stop-color="#000000"/><stop offset=".9075" stop-color="#030303"/><stop offset="1" stop-color="#000000"/></linearGradient>
<linearGradient id="h3r10"><stop offset="0" stop-color="#000000"/><stop offset=".14" stop-color="#000000"/><stop offset=".1675" stop-color="#030303"/><stop offset=".19" stop-color="#080908"/><stop offset=".215" stop-color="#111412"/><stop offset=".24" stop-color="#1f231f"/><stop offset=".265" stop-color="#303731"/><stop offset=".3175" stop-color="#576459"/><stop offset=".3425" stop-color="#677669"/><stop offset=".3575" stop-color="#6f7f70"/><stop offset=".37" stop-color="#738475"/><stop offset=".395" stop-color="#778879"/><stop offset=".42" stop-color="#748475"/><stop offset=".445" stop-color="#6a796b"/><stop offset=".4725" stop-color="#59665a"/><stop offset=".53" stop-color="#2d342e"/><stop offset=".5575" stop-color="#1b1f1c"/><stop offset=".5875" stop-color="#0d0f0d"/><stop offset=".6175" stop-color="#040504"/><stop offset=".6375" stop-color="#010101"/><stop offset=".6625" stop-color="#000000"/><stop offset=".73" stop-color="#010101"/><stop offset=".8" stop-color="#000000"/><stop offset=".895" stop-color="#030403"/><stop offset="1" stop-color="#000000"/></linearGradient>
<linearGradient id="h3r11"><stop offset="0" stop-color="#000000"/><stop offset=".1275" stop-color="#010101"/><stop offset=".155" stop-color="#040504"/><stop offset=".18" stop-color="#0b0d0b"/><stop offset=".205" stop-color="#171a17"/><stop offset=".23" stop-color="#272d27"/><stop offset=".2525" stop-color="#39413a"/><stop offset=".305" stop-color="#677669"/><stop offset=".3325" stop-color="#7b8e7d"/><stop offset=".3475" stop-color="#849786"/><stop offset=".36" stop-color="#899d8b"/><stop offset=".3725" stop-color="#8ca18e"/><stop offset=".385" stop-color="#8da28f"/><stop offset=".3975" stop-color="#8ca18e"/><stop offset=".41" stop-color="#899d8b"/><stop offset=".435" stop-color="#7e907f"/><stop offset=".4625" stop-color="#6a796b"/><stop offset=".52" stop-color="#374038"/><stop offset=".5475" stop-color="#222723"/><stop offset=".5775" stop-color="#111311"/><stop offset=".5925" stop-color="#0a0c0b"/><stop offset=".61" stop-color="#050605"/><stop offset=".6325" stop-color="#020202"/><stop offset=".66" stop-color="#000000"/><stop offset=".78" stop-color="#000000"/><stop offset=".885" stop-color="#030403"/><stop offset="1" stop-color="#000000"/></linearGradient>
<linearGradient id="h3r12"><stop offset="0" stop-color="#000000"/><stop offset=".115" stop-color="#010101"/><stop offset=".145" stop-color="#060706"/><stop offset=".17" stop-color="#0e100e"/><stop offset=".195" stop-color="#1c201c"/><stop offset=".22" stop-color="#2f362f"/><stop offset=".2425" stop-color="#434d44"/><stop offset=".295" stop-color="#788979"/><stop offset=".32" stop-color="#8da18f"/><stop offset=".335" stop-color="#96ac99"/><stop offset=".3475" stop-color="#9cb39f"/><stop offset=".3625" stop-color="#a1b8a3"/><stop offset=".375" stop-color="#a2baa4"/><stop offset=".3875" stop-color="#a1b8a3"/><stop offset=".4" stop-color="#9db4a0"/><stop offset=".4125" stop-color="#98ae9a"/><stop offset=".425" stop-color="#90a592"/><stop offset=".4525" stop-color="#7a8c7c"/><stop offset=".5125" stop-color="#3f483f"/><stop offset=".54" stop-color="#272c27"/><stop offset=".555" stop-color="#1c201c"/><stop offset=".57" stop-color="#131613"/><stop offset=".585" stop-color="#0c0e0c"/><stop offset=".6025" stop-color="#060706"/><stop offset=".6275" stop-color="#020202"/><stop offset=".6575" stop-color="#000000"/><stop offset=".7625" stop-color="#000000"/><stop offset=".875" stop-color="#030303"/><stop offset="1" stop-color="#000000"/></linearGradient>
<linearGradient id="h3r13"><stop offset="0" stop-color="#000000"/><stop offset=".075" stop-color="#000000"/><stop offset=".105" stop-color="#020202"/><stop offset=".135" stop-color="#070908"/><stop offset=".16" stop-color="#111412"/><stop offset=".1825" stop-color="#1f231f"/><stop offset=".2075" stop-color="#333b34"/><stop offset=".23" stop-color="#4a554b"/><stop offset=".2825" stop-color="#839685"/><stop offset=".31" stop-color="#9db49f"/><stop offset=".325" stop-color="#a7c0aa"/><stop offset=".3375" stop-color="#aec7b0"/><stop offset=".3525" stop-color="#b3cdb5"/><stop offset=".365" stop-color="#b4ceb6"/><stop offset=".3775" stop-color="#b2ccb5"/><stop offset=".39" stop-color="#afc8b1"/><stop offset=".4025" stop-color="#a8c1ab"/><stop offset=".415" stop-color="#a0b7a2"/><stop offset=".4275" stop-color="#96ac98"/><stop offset=".4425" stop-color="#889b89"/><stop offset=".5025" stop-color="#465147"/><stop offset=".53" stop-color="#2c322d"/><stop offset=".5475" stop-color="#1e231f"/><stop offset=".5625" stop-color="#151815"/><stop offset=".5775" stop-color="#0d0f0e"/><stop offset=".595" stop-color="#070807"/><stop offset=".62" stop-color="#020202"/><stop offset=".6525" stop-color="#000000"/><stop offset=".745" stop-color="#000000"/><stop offset=".865" stop-color="#020202"/><stop offset="1" stop-color="#000000"/></linearGradient>
<linearGradient id="h3r14"><stop offset="0" stop-color="#000000"/><stop offset=".065" stop-color="#000000"/><stop offset=".095" stop-color="#020302"/><stop offset=".125" stop-color="#090a09"/><stop offset=".15" stop-color="#141714"/><stop offset=".1725" stop-color="#232823"/><stop offset=".1975" stop-color="#39413a"/><stop offset=".22" stop-color="#515d52"/><stop offset=".2725" stop-color="#8ea390"/><stop offset=".3" stop-color="#a9c2ac"/><stop offset=".315" stop-color="#b4cfb7"/><stop offset=".3275" stop-color="#bbd7be"/><stop offset=".3425" stop-color="#c0dcc3"/><stop offset=".355" stop-color="#c1dec4"/><stop offset=".3675" stop-color="#c0dcc3"/><stop offset=".38" stop-color="#bcd7be"/><stop offset=".3925" stop-color="#b5d0b8"/><stop offset=".405" stop-color="#acc5af"/><stop offset=".4175" stop-color="#a1b9a3"/><stop offset=".4325" stop-color="#92a794"/><stop offset=".4925" stop-color="#4c584d"/><stop offset=".5225" stop-color="#2e352f"/><stop offset=".54" stop-color="#202420"/><stop offset=".555" stop-color="#161916"/><stop offset=".57" stop-color="#0e100e"/><stop offset=".5875" stop-color="#080908"/><stop offset=".615" stop-color="#020202"/><stop offset=".6475" stop-color="#000000"/><stop offset=".855" stop-color="#010101"/><stop offset="1" stop-color="#000000"/></linearGradient>
<linearGradient id="h3r15"><stop offset="0" stop-color="#000000"/><stop offset=".0575" stop-color="#000000"/><stop offset=".0875" stop-color="#030403"/><stop offset=".115" stop-color="#0a0b0a"/><stop offset=".14" stop-color="#161916"/><stop offset=".1625" stop-color="#252b26"/><stop offset=".1875" stop-color="#3d463e"/><stop offset=".21" stop-color="#566257"/><stop offset=".2625" stop-color="#95ab98"/><stop offset=".2875" stop-color="#afc9b2"/><stop offset=".3025" stop-color="#bbd7be"/><stop offset=".315" stop-color="#c3dfc6"/><stop offset=".33" stop-color="#c8e6cb"/><stop offset=".3425" stop-color="#cae8cd"/><stop offset=".355" stop-color="#c9e6cc"/><stop offset=".3675" stop-color="#c5e2c8"/><stop offset=".38" stop-color="#bfdac1"/><stop offset=".395" stop-color="#b4ceb6"/><stop offset=".4075" stop-color="#a8c1ab"/><stop offset=".4225" stop-color="#98af9b"/><stop offset=".4825" stop-color="#505c51"/><stop offset=".5125" stop-color="#303731"/><stop offset=".53" stop-color="#212622"/><stop offset=".545" stop-color="#171b17"/><stop offset=".56" stop-color="#0f110f"/><stop offset=".5775" stop-color="#080a08"/><stop offset=".605" stop-color="#020302"/><stop offset=".64" stop-color="#000000"/><stop offset="1" stop-color="#000000"/></linearGradient>
<linearGradient id="h3r16"><stop offset="0" stop-color="#000000"/><stop offset=".05" stop-color="#010101"/><stop offset=".08" stop-color="#040404"/><stop offset=".1075" stop-color="#0b0d0c"/><stop offset=".1325" stop-color="#181b18"/><stop offset=".155" stop-color="#292f29"/><stop offset=".1775" stop-color="#3e473f"/><stop offset=".2" stop-color="#586559"/><stop offset=".25" stop-color="#95ab98"/><stop offset=".265" stop-color="#a6bea8"/><stop offset=".2775" stop-color="#b2ccb5"/><stop offset=".2925" stop-color="#bedac1"/><stop offset=".305" stop-color="#c6e3c9"/><stop offset=".32" stop-color="#cbe9ce"/><stop offset=".3325" stop-color="#cdebd0"/><stop offset=".345" stop-color="#cceacf"/><stop offset=".3575" stop-color="#c8e5cb"/><stop offset=".37" stop-color="#c1ddc4"/><stop offset=".385" stop-color="#b6d0b9"/><stop offset=".3975" stop-color="#aac3ad"/><stop offset=".4125" stop-color="#9ab19c"/><stop offset=".4725" stop-color="#515d52"/><stop offset=".5025" stop-color="#313832"/><stop offset=".52" stop-color="#222722"/><stop offset=".535" stop-color="#171b18"/><stop offset=".55" stop-color="#0f1210"/><stop offset=".5675" stop-color="#080a09"/><stop offset=".595" stop-color="#020303"/><stop offset=".63" stop-color="#000000"/><stop offset="1" stop-color="#000000"/></linearGradient>
<linearGradient id="h3r17"><stop offset="0" stop-color="#000000"/><stop offset=".0425" stop-color="#010101"/><stop offset=".0725" stop-color="#040504"/><stop offset=".0975" stop-color="#0b0d0b"/><stop offset=".1225" stop-color="#181b18"/><stop offset=".145" stop-color="#282e29"/><stop offset=".1675" stop-color="#3e473e"/><stop offset=".19" stop-color="#576458"/><stop offset=".24" stop-color="#94a996"/><stop offset=".255" stop-color="#a4bca6"/><stop offset=".2675" stop-color="#b0cab3"/><stop offset=".2825" stop-color="#bcd7bf"/><stop offset=".295" stop-color="#c3e0c6"/><stop offset=".31" stop-color="#c9e6cb"/><stop offset=".3225" stop-color="#cae8cd"/><stop offset=".335" stop-color="#c9e6cc"/><stop offset=".3475" stop-color="#c5e1c8"/><stop offset=".36" stop-color="#bedac1"/><stop offset=".3725" stop-color="#b5cfb8"/><stop offset=".385" stop-color="#aac3ac"/><stop offset=".4" stop-color="#9ab19c"/><stop offset=".4625" stop-color="#4f5b50"/><stop offset=".4925" stop-color="#303630"/><stop offset=".51" stop-color="#212621"/><stop offset=".525" stop-color="#171a17"/><stop offset=".54" stop-color="#0f110f"/><stop offset=".5575" stop-color="#080908"/><stop offset=".585" stop-color="#020302"/><stop offset=".62" stop-color="#000000"/><stop offset="1" stop-color="#000000"/></linearGradient>
<linearGradient id="h3r18"><stop offset="0" stop-color="#000000"/><stop offset=".04" stop-color="#010101"/><stop offset=".0675" stop-color="#050505"/><stop offset=".0925" stop-color="#0c0e0c"/><stop offset=".115" stop-color="#181b18"/><stop offset=".135" stop-color="#262c27"/><stop offset=".1575" stop-color="#3b433b"/><stop offset=".18" stop-color="#535f54"/><stop offset=".23" stop-color="#8da28f"/><stop offset=".2575" stop-color="#a9c1ab"/><stop offset=".2725" stop-color="#b4ceb7"/><stop offset=".285" stop-color="#bbd6be"/><stop offset=".3" stop-color="#c0dcc3"/><stop offset=".3125" stop-color="#c1dec4"/><stop offset=".325" stop-color="#c0dcc3"/><stop offset=".3375" stop-color="#bcd8bf"/><stop offset=".35" stop-color="#b6d0b8"/><stop offset=".3625" stop-color="#adc6af"/><stop offset=".375" stop-color="#a2baa4"/><stop offset=".39" stop-color="#93a895"/><stop offset=".4525" stop-color="#4b554c"/><stop offset=".48" stop-color="#2f352f"/><stop offset=".4975" stop-color="#202521"/><stop offset=".5125" stop-color="#161a17"/><stop offset=".53" stop-color="#0d0f0e"/><stop offset=".5475" stop-color="#070807"/><stop offset=".575" stop-color="#020202"/><stop offset=".6075" stop-color="#000000"/><stop offset=".8125" stop-color="#030303"/><stop offset="1" stop-color="#000000"/></linearGradient>
<linearGradient id="h3r19"><stop offset="0" stop-color="#000000"/><stop offset=".035" stop-color="#010101"/><stop offset=".06" stop-color="#040504"/><stop offset=".085" stop-color="#0c0d0c"/><stop offset=".1075" stop-color="#171a17"/><stop offset=".1275" stop-color="#252a25"/><stop offset=".15" stop-color="#384039"/><stop offset=".17" stop-color="#4d584e"/><stop offset=".22" stop-color="#839685"/><stop offset=".2475" stop-color="#9db49f"/><stop offset=".2625" stop-color="#a7c0aa"/><stop offset=".275" stop-color="#aec7b0"/><stop offset=".29" stop-color="#b3cdb5"/><stop offset=".3025" stop-color="#b4ceb6"/><stop offset=".315" stop-color="#b2ccb5"/><stop offset=".3275" stop-color="#afc8b1"/><stop offset=".34" stop-color="#a8c1ab"/><stop offset=".3525" stop-color="#a0b7a2"/><stop offset=".365" stop-color="#96ac98"/><stop offset=".38" stop-color="#889b89"/><stop offset=".44" stop-color="#465147"/><stop offset=".47" stop-color="#2a302b"/><stop offset=".4875" stop-color="#1d211d"/><stop offset=".5025" stop-color="#131614"/><stop offset=".52" stop-color="#0b0d0c"/><stop offset=".5375" stop-color="#060706"/><stop offset=".5625" stop-color="#020202"/><stop offset=".5925" stop-color="#000000"/><stop offset=".65" stop-color="#010101"/><stop offset=".755" stop-color="#060706"/><stop offset=".8025" stop-color="#070807"/><stop offset="1" stop-color="#000000"/></linearGradient>
<linearGradient id="h3r20"><stop offset="0" stop-color="#000000"/><stop offset=".03" stop-color="#010101"/><stop offset=".055" stop-color="#040504"/><stop offset=".0775" stop-color="#0b0c0b"/><stop offset=".1" stop-color="#151815"/><stop offset=".12" stop-color="#222722"/><stop offset=".14" stop-color="#323932"/><stop offset=".16" stop-color="#444e45"/><stop offset=".21" stop-color="#768778"/><stop offset=".2375" stop-color="#8da28f"/><stop offset=".2525" stop-color="#97ad99"/><stop offset=".265" stop-color="#9db49f"/><stop offset=".28" stop-color="#a1b8a3"/><stop offset=".2925" stop-color="#a2baa4"/><stop offset=".305" stop-color="#a1b8a3"/><stop offset=".3175" stop-color="#9db49f"/><stop offset=".33" stop-color="#97ad99"/><stop offset=".3425" stop-color="#90a592"/><stop offset=".37" stop-color="#798b7b"/><stop offset=".43" stop-color="#3e473f"/><stop offset=".4575" stop-color="#262c27"/><stop offset=".475" stop-color="#1a1e1a"/><stop offset=".49" stop-color="#111412"/><stop offset=".5075" stop-color="#0a0b0a"/><stop offset=".525" stop-color="#050605"/><stop offset=".56" stop-color="#000100"/><stop offset=".61" stop-color="#000100"/><stop offset=".655" stop-color="#030403"/><stop offset=".7475" stop-color="#0d0e0d"/><stop offset=".7975" stop-color="#0e100f"/><stop offset=".8425" stop-color="#0c0e0c"/><stop offset=".945" stop-color="#020202"/><stop offset="1" stop-color="#000000"/></linearGradient>
<linearGradient id="h3r21"><stop offset="0" stop-color="#000000"/><stop offset=".0275" stop-color="#010101"/><stop offset=".05" stop-color="#040404"/><stop offset=".0725" stop-color="#0a0b0a"/><stop offset=".0925" stop-color="#121512"/><stop offset=".1125" stop-color="#1e221e"/><stop offset=".1325" stop-color="#2c322d"/><stop offset=".2" stop-color="#667568"/><stop offset=".225" stop-color="#798b7b"/><stop offset=".24" stop-color="#829584"/><stop offset=".2525" stop-color="#889c8a"/><stop offset=".2675" stop-color="#8ca08e"/><stop offset=".28" stop-color="#8da28f"/><stop offset=".2925" stop-color="#8ca18e"/><stop offset=".305" stop-color="#899e8b"/><stop offset=".33" stop-color="#7e9080"/><stop offset=".3575" stop-color="#6b7a6c"/><stop offset=".4175" stop-color="#363e37"/><stop offset=".4475" stop-color="#1f2420"/><stop offset=".465" stop-color="#151815"/><stop offset=".48" stop-color="#0e100e"/><stop offset=".495" stop-color="#080908"/><stop offset=".5125" stop-color="#040404"/><stop offset=".55" stop-color="#000000"/><stop offset=".6025" stop-color="#010201"/><stop offset=".6425" stop-color="#060706"/><stop offset=".735" stop-color="#161916"/><stop offset=".785" stop-color="#191c19"/><stop offset=".8325" stop-color="#151815"/><stop offset=".94" stop-color="#030403"/><stop offset=".97" stop-color="#010101"/><stop offset="1" stop-color="#000000"/></linearGradient>
<linearGradient id="h3r22"><stop offset="0" stop-color="#000000"/><stop offset=".025" stop-color="#010101"/><stop offset=".0475" stop-color="#040404"/><stop offset=".0675" stop-color="#090a09"/><stop offset=".0875" stop-color="#101310"/><stop offset=".105" stop-color="#191d19"/><stop offset=".125" stop-color="#252b26"/><stop offset=".19" stop-color="#566257"/><stop offset=".215" stop-color="#667567"/><stop offset=".2425" stop-color="#728374"/><stop offset=".2575" stop-color="#768778"/><stop offset=".27" stop-color="#778879"/><stop offset=".295" stop-color="#748475"/><stop offset=".32" stop-color="#6a796b"/><stop offset=".3475" stop-color="#59665a"/><stop offset=".4075" stop-color="#2c322c"/><stop offset=".435" stop-color="#1a1e1a"/><stop offset=".465" stop-color="#0c0d0c"/><stop offset=".4975" stop-color="#030403"/><stop offset=".54" stop-color="#000000"/><stop offset=".59" stop-color="#030303"/><stop offset=".63" stop-color="#0a0c0a"/><stop offset=".7225" stop-color="#212622"/><stop offset=".7475" stop-color="#252b26"/><stop offset=".7725" stop-color="#262c27"/><stop offset=".7975" stop-color="#252a25"/><stop offset=".8225" stop-color="#212621"/><stop offset=".905" stop-color="#0c0d0c"/><stop offset=".9375" stop-color="#050605"/><stop offset=".9675" stop-color="#010101"/><stop offset="1" stop-color="#000000"/></linearGradient>
<linearGradient id="h3r23"><stop offset="0" stop-color="#000000"/><stop offset=".0425" stop-color="#030303"/><stop offset=".0625" stop-color="#070807"/><stop offset=".08" stop-color="#0d0f0d"/><stop offset=".0975" stop-color="#141714"/><stop offset=".1175" stop-color="#1e231f"/><stop offset=".18" stop-color="#454f46"/><stop offset=".205" stop-color="#525e54"/><stop offset=".2325" stop-color="#5d6a5e"/><stop offset=".26" stop-color="#606e62"/><stop offset=".2825" stop-color="#5e6c5f"/><stop offset=".3075" stop-color="#566357"/><stop offset=".335" stop-color="#485349"/><stop offset=".395" stop-color="#232824"/><stop offset=".4225" stop-color="#141715"/><stop offset=".4525" stop-color="#090a09"/><stop offset=".485" stop-color="#020202"/><stop offset=".5075" stop-color="#000000"/><stop offset=".535" stop-color="#000000"/><stop offset=".5575" stop-color="#020202"/><stop offset=".58" stop-color="#050605"/><stop offset=".62" stop-color="#101210"/><stop offset=".7075" stop-color="#2f3630"/><stop offset=".735" stop-color="#353d36"/><stop offset=".76" stop-color="#373f38"/><stop offset=".785" stop-color="#353d36"/><stop offset=".8125" stop-color="#2f3630"/><stop offset=".9" stop-color="#101310"/><stop offset=".9325" stop-color="#070807"/><stop offset=".965" stop-color="#020202"/><stop offset="1" stop-color="#000000"/></linearGradient>
<linearGradient id="h3r24"><stop offset="0" stop-color="#000000"/><stop offset=".04" stop-color="#020302"/><stop offset=".075" stop-color="#0a0c0a"/><stop offset=".11" stop-color="#171b18"/><stop offset=".1725" stop-color="#363e37"/><stop offset=".1975" stop-color="#414a41"/><stop offset=".225" stop-color="#485349"/><stop offset=".25" stop-color="#4b564c"/><stop offset=".275" stop-color="#485349"/><stop offset=".3025" stop-color="#414a41"/><stop offset=".3275" stop-color="#363e37"/><stop offset=".3925" stop-color="#161a17"/><stop offset=".4325" stop-color="#080908"/><stop offset=".455" stop-color="#030403"/><stop offset=".4775" stop-color="#010101"/><stop offset=".505" stop-color="#000000"/><stop offset=".53" stop-color="#010101"/><stop offset=".5625" stop-color="#070807"/><stop offset=".5925" stop-color="#101210"/><stop offset=".62" stop-color="#1c201c"/><stop offset=".6775" stop-color="#384139"/><stop offset=".7025" stop-color="#424c43"/><stop offset=".7275" stop-color="#49534a"/><stop offset=".75" stop-color="#4b564c"/><stop offset=".775" stop-color="#485349"/><stop offset=".8025" stop-color="#414a41"/><stop offset=".8275" stop-color="#363e37"/><stop offset=".89" stop-color="#171b18"/><stop offset=".925" stop-color="#0a0c0a"/><stop offset=".96" stop-color="#020302"/><stop offset="1" stop-color="#000000"/></linearGradient>
<linearGradient id="h3r25"><stop offset="0" stop-color="#000000"/><stop offset=".035" stop-color="#020202"/><stop offset=".0675" stop-color="#070807"/><stop offset=".1" stop-color="#101310"/><stop offset=".1875" stop-color="#2f3630"/><stop offset=".215" stop-color="#353d36"/><stop offset=".24" stop-color="#373f38"/><stop offset=".265" stop-color="#353d36"/><stop offset=".2925" stop-color="#2f3630"/><stop offset=".38" stop-color="#101210"/><stop offset=".42" stop-color="#050605"/><stop offset=".4425" stop-color="#020202"/><stop offset=".465" stop-color="#000000"/><stop offset=".4925" stop-color="#000000"/><stop offset=".515" stop-color="#020202"/><stop offset=".5475" stop-color="#090a09"/><stop offset=".5775" stop-color="#141715"/><stop offset=".605" stop-color="#232824"/><stop offset=".665" stop-color="#485349"/><stop offset=".6925" stop-color="#566357"/><stop offset=".7175" stop-color="#5e6c5f"/><stop offset=".74" stop-color="#606e62"/><stop offset=".7675" stop-color="#5d6a5e"/><stop offset=".795" stop-color="#525e54"/><stop offset=".82" stop-color="#454f46"/><stop offset=".8825" stop-color="#1e231f"/><stop offset=".9025" stop-color="#141714"/><stop offset=".92" stop-color="#0d0f0d"/><stop offset=".9375" stop-color="#070807"/><stop offset=".9575" stop-color="#030303"/><stop offset="1" stop-color="#000000"/></linearGradient>
<linearGradient id="h3r26"><stop offset="0" stop-color="#000000"/><stop offset=".0325" stop-color="#010101"/><stop offset=".0625" stop-color="#050605"/><stop offset=".095" stop-color="#0c0d0c"/><stop offset=".1775" stop-color="#212621"/><stop offset=".2025" stop-color="#252a25"/><stop offset=".2275" stop-color="#262c27"/><stop offset=".2525" stop-color="#252b26"/><stop offset=".2775" stop-color="#212622"/><stop offset=".37" stop-color="#0a0c0a"/><stop offset=".41" stop-color="#030303"/><stop offset=".46" stop-color="#000000"/><stop offset=".5025" stop-color="#030403"/><stop offset=".535" stop-color="#0c0d0c"/><stop offset=".565" stop-color="#1a1e1a"/><stop offset=".5925" stop-color="#2c322c"/><stop offset=".6525" stop-color="#59665a"/><stop offset=".68" stop-color="#6a796b"/><stop offset=".705" stop-color="#748475"/><stop offset=".73" stop-color="#778879"/><stop offset=".7425" stop-color="#768778"/><stop offset=".7575" stop-color="#728374"/><stop offset=".785" stop-color="#667567"/><stop offset=".81" stop-color="#566257"/><stop offset=".875" stop-color="#252b26"/><stop offset=".895" stop-color="#191d19"/><stop offset=".9125" stop-color="#101310"/><stop offset=".9325" stop-color="#090a09"/><stop offset=".9525" stop-color="#040404"/><stop offset=".975" stop-color="#010101"/><stop offset="1" stop-color="#000000"/></linearGradient>
<linearGradient id="h3r27"><stop offset="0" stop-color="#000000"/><stop offset=".03" stop-color="#010101"/><stop offset=".06" stop-color="#030403"/><stop offset=".1675" stop-color="#151815"/><stop offset=".215" stop-color="#191c19"/><stop offset=".265" stop-color="#161916"/><stop offset=".3575" stop-color="#060706"/><stop offset=".3975" stop-color="#010201"/><stop offset=".45" stop-color="#000000"/><stop offset=".4875" stop-color="#040404"/><stop offset=".505" stop-color="#080908"/><stop offset=".52" stop-color="#0e100e"/><stop offset=".535" stop-color="#151815"/><stop offset=".5525" stop-color="#1f2420"/><stop offset=".5825" stop-color="#363e37"/><stop offset=".6425" stop-color="#6b7a6c"/><stop offset=".67" stop-color="#7e9080"/><stop offset=".695" stop-color="#899e8b"/><stop offset=".7075" stop-color="#8ca18e"/><stop offset=".72" stop-color="#8da28f"/><stop offset=".7325" stop-color="#8ca08e"/><stop offset=".7475" stop-color="#889c8a"/><stop offset=".76" stop-color="#829584"/><stop offset=".775" stop-color="#798b7b"/><stop offset=".8" stop-color="#667568"/><stop offset=".8675" stop-color="#2c322d"/><stop offset=".8875" stop-color="#1e221e"/><stop offset=".9075" stop-color="#121512"/><stop offset=".9275" stop-color="#0a0b0a"/><stop offset=".95" stop-color="#040404"/><stop offset=".9725" stop-color="#010101"/><stop offset="1" stop-color="#000000"/></linearGradient>
<linearGradient id="h3r28"><stop offset="0" stop-color="#000000"/><stop offset=".055" stop-color="#020202"/><stop offset=".1575" stop-color="#0c0e0c"/><stop offset=".2025" stop-color="#0e100f"/><stop offset=".2525" stop-color="#0d0e0d"/><stop offset=".345" stop-color="#030403"/><stop offset=".39" stop-color="#000100"/><stop offset=".44" stop-color="#000100"/><stop offset=".475" stop-color="#050605"/><stop offset=".4925" stop-color="#0a0b0a"/><stop offset=".51" stop-color="#111412"/><stop offset=".525" stop-color="#1a1e1a"/><stop offset=".5425" stop-color="#262c27"/><stop offset=".57" stop-color="#3e473f"/><stop offset=".63" stop-color="#798b7b"/><stop offset=".6575" stop-color="#90a592"/><stop offset=".67" stop-color="#97ad99"/><stop offset=".6825" stop-color="#9db49f"/><stop offset=".695" stop-color="#a1b8a3"/><stop offset=".7075" stop-color="#a2baa4"/><stop offset=".72" stop-color="#a1b8a3"/><stop offset=".735" stop-color="#9db49f"/><stop offset=".7475" stop-color="#97ad99"/><stop offset=".7625" stop-color="#8da28f"/><stop offset=".79" stop-color="#768778"/><stop offset=".84" stop-color="#444e45"/><stop offset=".86" stop-color="#323932"/><stop offset=".88" stop-color="#222722"/><stop offset=".9" stop-color="#151815"/><stop offset=".9225" stop-color="#0b0c0b"/><stop offset=".945" stop-color="#040504"/><stop offset=".97" stop-color="#010101"/><stop offset="1" stop-color="#000000"/></linearGradient>
<linearGradient id="h3r29"><stop offset="0" stop-color="#000000"/><stop offset=".1975" stop-color="#070807"/><stop offset=".245" stop-color="#060706"/><stop offset=".35" stop-color="#010101"/><stop offset=".4075" stop-color="#000000"/><stop offset=".4375" stop-color="#020202"/><stop offset=".4625" stop-color="#060706"/><stop offset=".48" stop-color="#0b0d0c"/><stop offset=".4975" stop-color="#131614"/><stop offset=".5125" stop-color="#1d211d"/><stop offset=".53" stop-color="#2a302b"/><stop offset=".56" stop-color="#465147"/><stop offset=".62" stop-color="#889b89"/><stop offset=".635" stop-color="#96ac98"/><stop offset=".6475" stop-color="#a0b7a2"/><stop offset=".66" stop-color="#a8c1ab"/><stop offset=".6725" stop-color="#afc8b1"/><stop offset=".685" stop-color="#b2ccb5"/><stop offset=".6975" stop-color="#b4ceb6"/><stop offset=".71" stop-color="#b3cdb5"/><stop offset=".725" stop-color="#aec7b0"/><stop offset=".7375" stop-color="#a7c0aa"/><stop offset=".7525" stop-color="#9db49f"/><stop offset=".78" stop-color="#839685"/><stop offset=".83" stop-color="#4d584e"/><stop offset=".85" stop-color="#384039"/><stop offset=".8725" stop-color="#252a25"/><stop offset=".8925" stop-color="#171a17"/><stop offset=".915" stop-color="#0c0d0c"/><stop offset=".94" stop-color="#040504"/><stop offset=".965" stop-color="#010101"/><stop offset="1" stop-color="#000000"/></linearGradient>
<linearGradient id="h3r30"><stop offset="0" stop-color="#000000"/><stop offset=".1875" stop-color="#030303"/><stop offset=".3925" stop-color="#000000"/><stop offset=".425" stop-color="#020202"/><stop offset=".4525" stop-color="#070807"/><stop offset=".47" stop-color="#0d0f0e"/><stop offset=".4875" stop-color="#161a17"/><stop offset=".5025" stop-color="#202521"/><stop offset=".52" stop-color="#2f352f"/><stop offset=".5475" stop-color="#4b554c"/><stop offset=".61" stop-color="#93a895"/><stop offset=".625" stop-color="#a2baa4"/><stop offset=".6375" stop-color="#adc6af"/><stop offset=".65" stop-color="#b6d0b8"/><stop offset=".6625" stop-color="#bcd8bf"/><stop offset=".675" stop-color="#c0dcc3"/><stop offset=".6875" stop-color="#c1dec4"/><stop offset=".7" stop-color="#c0dcc3"/><stop offset=".715" stop-color="#bbd6be"/><stop offset=".7275" stop-color="#b4ceb7"/><stop offset=".7425" stop-color="#a9c1ab"/><stop offset=".77" stop-color="#8da28f"/><stop offset=".82" stop-color="#535f54"/><stop offset=".8425" stop-color="#3b433b"/><stop offset=".865" stop-color="#262c27"/><stop offset=".885" stop-color="#181b18"/><stop offset=".9075" stop-color="#0c0e0c"/><stop offset=".9325" stop-color="#050505"/><stop offset=".96" stop-color="#010101"/><stop offset="1" stop-color="#000000"/></linearGradient>
<linearGradient id="h3r31"><stop offset="0" stop-color="#000000"/><stop offset=".38" stop-color="#000000"/><stop offset=".415" stop-color="#020302"/><stop offset=".4425" stop-color="#080908"/><stop offset=".46" stop-color="#0f110f"/><stop offset=".475" stop-color="#171a17"/><stop offset=".49" stop-color="#212621"/><stop offset=".5075" stop-color="#303630"/><stop offset=".5375" stop-color="#4f5b50"/><stop offset=".6" stop-color="#9ab19c"/><stop offset=".615" stop-color="#aac3ac"/><stop offset=".6275" stop-color="#b5cfb8"/><stop offset=".64" stop-color="#bedac1"/><stop offset=".6525" stop-color="#c5e1c8"/><stop offset=".665" stop-color="#c9e6cc"/><stop offset=".6775" stop-color="#cae8cd"/><stop offset=".69" stop-color="#c9e6cb"/><stop offset=".705" stop-color="#c3e0c6"/><stop offset=".7175" stop-color="#bcd7bf"/><stop offset=".7325" stop-color="#b0cab3"/><stop offset=".745" stop-color="#a4bca6"/><stop offset=".76" stop-color="#94a996"/><stop offset=".81" stop-color="#576458"/><stop offset=".8325" stop-color="#3e473e"/><stop offset=".855" stop-color="#282e29"/><stop offset=".8775" stop-color="#181b18"/><stop offset=".9025" stop-color="#0b0d0b"/><stop offset=".9275" stop-color="#040504"/><stop offset=".9575" stop-color="#010101"/><stop offset="1" stop-color="#000000"/></linearGradient>
<linearGradient id="h3r32"><stop offset="0" stop-color="#000000"/><stop offset=".37" stop-color="#000000"/><stop offset=".405" stop-color="#020303"/><stop offset=".4325" stop-color="#080a09"/><stop offset=".45" stop-color="#0f1210"/><stop offset=".465" stop-color="#171b18"/><stop offset=".48" stop-color="#222722"/><stop offset=".4975" stop-color="#313832"/><stop offset=".5275" stop-color="#515d52"/><stop offset=".5875" stop-color="#9ab19c"/><stop offset=".6025" stop-color="#aac3ad"/><stop offset=".615" stop-color="#b6d0b9"/><stop offset=".63" stop-color="#c1ddc4"/><stop offset=".6425" stop-color="#c8e5cb"/><stop offset=".655" stop-color="#cceacf"/><stop offset=".6675" stop-color="#cdebd0"/><stop offset=".68" stop-color="#cbe9ce"/><stop offset=".695" stop-color="#c6e3c9"/><stop offset=".7075" stop-color="#bedac1"/><stop offset=".7225" stop-color="#b2ccb5"/><stop offset=".735" stop-color="#a6bea8"/><stop offset=".75" stop-color="#95ab98"/><stop offset=".8" stop-color="#586559"/><stop offset=".8225" stop-color="#3e473f"/><stop offset=".845" stop-color="#292f29"/><stop offset=".8675" stop-color="#181b18"/><stop offset=".8925" stop-color="#0b0d0c"/><stop offset=".92" stop-color="#040404"/><stop offset=".95" stop-color="#010101"/><stop offset="1" stop-color="#000000"/></linearGradient>
<linearGradient id="h3r33"><stop offset="0" stop-color="#000000"/><stop offset=".36" stop-color="#000000"/><stop offset=".395" stop-color="#020302"/><stop offset=".4225" stop-color="#080a08"/><stop offset=".44" stop-color="#0f110f"/><stop offset=".455" stop-color="#171b17"/><stop offset=".47" stop-color="#212622"/><stop offset=".4875" stop-color="#303731"/><stop offset=".5175" stop-color="#505c51"/><stop offset=".5775" stop-color="#98af9b"/><stop offset=".5925" stop-color="#a8c1ab"/><stop offset=".605" stop-color="#b4ceb6"/><stop offset=".6175" stop-color="#bdd9c0"/><stop offset=".63" stop-color="#c4e1c7"/><stop offset=".6425" stop-color="#c8e6cb"/><stop offset=".655" stop-color="#cae8cd"/><stop offset=".6675" stop-color="#c9e6cc"/><stop offset=".6825" stop-color="#c4e1c7"/><stop offset=".695" stop-color="#bdd9c0"/><stop offset=".71" stop-color="#b1cbb4"/><stop offset=".7225" stop-color="#a6bea8"/><stop offset=".7375" stop-color="#95ab98"/><stop offset=".79" stop-color="#566257"/><stop offset=".8125" stop-color="#3d463e"/><stop offset=".8375" stop-color="#252b26"/><stop offset=".86" stop-color="#161916"/><stop offset=".885" stop-color="#0a0b0a"/><stop offset=".9125" stop-color="#030403"/><stop offset=".9425" stop-color="#000000"/><stop offset="1" stop-color="#000000"/></linearGradient>
<linearGradient id="h3r34"><stop offset="0" stop-color="#000000"/><stop offset=".145" stop-color="#010101"/><stop offset=".3525" stop-color="#000000"/><stop offset=".385" stop-color="#020202"/><stop offset=".4125" stop-color="#080908"/><stop offset=".43" stop-color="#0e100e"/><stop offset=".445" stop-color="#161916"/><stop offset=".46" stop-color="#202420"/><stop offset=".4775" stop-color="#2e352f"/><stop offset=".5075" stop-color="#4c584d"/><stop offset=".5675" stop-color="#92a794"/><stop offset=".5825" stop-color="#a1b9a3"/><stop offset=".595" stop-color="#acc5af"/><stop offset=".6075" stop-color="#b5d0b8"/><stop offset=".62" stop-color="#bcd7be"/><stop offset=".6325" stop-color="#c0dcc3"/><stop offset=".645" stop-color="#c1dec4"/><stop offset=".6575" stop-color="#c0dcc3"/><stop offset=".6725" stop-color="#bbd7be"/><stop offset=".685" stop-color="#b4cfb7"/><stop offset=".7" stop-color="#a9c2ac"/><stop offset=".7275" stop-color="#8ea390"/><stop offset=".78" stop-color="#515d52"/><stop offset=".8025" stop-color="#39413a"/><stop offset=".8275" stop-color="#232823"/><stop offset=".85" stop-color="#141714"/><stop offset=".875" stop-color="#090a09"/><stop offset=".905" stop-color="#020302"/><stop offset=".935" stop-color="#000000"/><stop offset="1" stop-color="#000000"/></linearGradient>
<linearGradient id="h3r35"><stop offset="0" stop-color="#000000"/><stop offset=".135" stop-color="#020202"/><stop offset=".255" stop-color="#000000"/><stop offset=".3475" stop-color="#000000"/><stop offset=".38" stop-color="#020202"/><stop offset=".405" stop-color="#070807"/><stop offset=".4225" stop-color="#0d0f0e"/><stop offset=".4375" stop-color="#151815"/><stop offset=".4525" stop-color="#1e231f"/><stop offset=".47" stop-color="#2c322d"/><stop offset=".4975" stop-color="#465147"/><stop offset=".5575" stop-color="#889b89"/><stop offset=".5725" stop-color="#96ac98"/><stop offset=".585" stop-color="#a0b7a2"/><stop offset=".5975" stop-color="#a8c1ab"/><stop offset=".61" stop-color="#afc8b1"/><stop offset=".6225" stop-color="#b2ccb5"/><stop offset=".635" stop-color="#b4ceb6"/><stop offset=".6475" stop-color="#b3cdb5"/><stop offset=".6625" stop-color="#aec7b0"/><stop offset=".675" stop-color="#a7c0aa"/><stop offset=".69" stop-color="#9db49f"/><stop offset=".7175" stop-color="#839685"/><stop offset=".77" stop-color="#4a554b"/><stop offset=".7925" stop-color="#333b34"/><stop offset=".8175" stop-color="#1f231f"/><stop offset=".84" stop-color="#111412"/><stop offset=".865" stop-color="#070908"/><stop offset=".895" stop-color="#020202"/><stop offset=".925" stop-color="#000000"/><stop offset="1" stop-color="#000000"/></linearGradient>
<linearGradient id="h3r36"><stop offset="0" stop-color="#000000"/><stop offset=".125" stop-color="#030303"/><stop offset=".2375" stop-color="#000000"/><stop offset=".3425" stop-color="#000000"/><stop offset=".3725" stop-color="#020202"/><stop offset=".3975" stop-color="#060706"/><stop offset=".415" stop-color="#0c0e0c"/><stop offset=".43" stop-color="#131613"/><stop offset=".445" stop-color="#1c201c"/><stop offset=".46" stop-color="#272c27"/><stop offset=".4875" stop-color="#3f483f"/><stop offset=".5475" stop-color="#7a8c7c"/><stop offset=".575" stop-color="#90a592"/><stop offset=".5875" stop-color="#98ae9a"/><stop offset=".6" stop-color="#9db4a0"/><stop offset=".6125" stop-color="#a1b8a3"/><stop offset=".625" stop-color="#a2baa4"/><stop offset=".6375" stop-color="#a1b8a3"/><stop offset=".6525" stop-color="#9cb39f"/><stop offset=".665" stop-color="#96ac99"/><stop offset=".68" stop-color="#8da18f"/><stop offset=".705" stop-color="#788979"/><stop offset=".7575" stop-color="#434d44"/><stop offset=".78" stop-color="#2f362f"/><stop offset=".805" stop-color="#1c201c"/><stop offset=".83" stop-color="#0e100e"/><stop offset=".855" stop-color="#060706"/><stop offset=".885" stop-color="#010101"/><stop offset="1" stop-color="#000000"/></linearGradient>
<linearGradient id="h3r37"><stop offset="0" stop-color="#000000"/><stop offset=".115" stop-color="#030403"/><stop offset=".22" stop-color="#000000"/><stop offset=".34" stop-color="#000000"/><stop offset=".3675" stop-color="#020202"/><stop offset=".39" stop-color="#050605"/><stop offset=".4075" stop-color="#0a0c0b"/><stop offset=".4225" stop-color="#111311"/><stop offset=".4525" stop-color="#222723"/><stop offset=".48" stop-color="#374038"/><stop offset=".5375" stop-color="#6a796b"/><stop offset=".565" stop-color="#7e907f"/><stop offset=".59" stop-color="#899d8b"/><stop offset=".6025" stop-color="#8ca18e"/><stop offset=".615" stop-color="#8da28f"/><stop offset=".6275" stop-color="#8ca18e"/><stop offset=".64" stop-color="#899d8b"/><stop offset=".6525" stop-color="#849786"/><stop offset=".6675" stop-color="#7b8e7d"/><stop offset=".695" stop-color="#677669"/><stop offset=".7475" stop-color="#39413a"/><stop offset=".77" stop-color="#272d27"/><stop offset=".795" stop-color="#171a17"/><stop offset=".82" stop-color="#0b0d0b"/><stop offset=".845" stop-color="#040504"/><stop offset=".8725" stop-color="#010101"/><stop offset="1" stop-color="#000000"/></linearGradient>
<linearGradient id="h3r38"><stop offset="0" stop-color="#000000"/><stop offset=".105" stop-color="#030403"/><stop offset=".2" stop-color="#000000"/><stop offset=".27" stop-color="#010101"/><stop offset=".3375" stop-color="#000000"/><stop offset=".3625" stop-color="#010101"/><stop offset=".3825" stop-color="#040504"/><stop offset=".4125" stop-color="#0d0f0d"/><stop offset=".4425" stop-color="#1b1f1c"/><stop offset=".47" stop-color="#2d342e"/><stop offset=".5275" stop-color="#59665a"/><stop offset=".555" stop-color="#6a796b"/><stop offset=".58" stop-color="#748475"/><stop offset=".605" stop-color="#778879"/><stop offset=".63" stop-color="#738475"/><stop offset=".6425" stop-color="#6f7f70"/><stop offset=".6575" stop-color="#677669"/><stop offset=".6825" stop-color="#576459"/><stop offset=".735" stop-color="#303731"/><stop offset=".76" stop-color="#1f231f"/><stop offset=".785" stop-color="#111412"/><stop offset=".81" stop-color="#080908"/><stop offset=".8325" stop-color="#030303"/><stop offset=".86" stop-color="#000000"/><stop offset="1" stop-color="#000000"/></linearGradient>
<linearGradient id="h3r39"><stop offset="0" stop-color="#000000"/><stop offset=".0925" stop-color="#030303"/><stop offset=".1825" stop-color="#000000"/><stop offset=".26" stop-color="#020202"/><stop offset=".3375" stop-color="#000000"/><stop offset=".3775" stop-color="#030403"/><stop offset=".405" stop-color="#0a0b0a"/><stop offset=".435" stop-color="#161916"/><stop offset=".4625" stop-color="#252b26"/><stop offset=".5175" stop-color="#475248"/><stop offset=".545" stop-color="#556257"/><stop offset=".57" stop-color="#5e6b5f"/><stop offset=".595" stop-color="#606e62"/><stop offset=".62" stop-color="#5d6b5e"/><stop offset=".645" stop-color="#546155"/><stop offset=".67" stop-color="#475248"/><stop offset=".725" stop-color="#252b26"/><stop offset=".7475" stop-color="#191c19"/><stop offset=".7725" stop-color="#0d0f0e"/><stop offset=".7975" stop-color="#060706"/><stop offset=".82" stop-color="#020202"/><stop offset=".8425" stop-color="#000000"/><stop offset=".9275" stop-color="#020202"/><stop offset="1" stop-color="#000000"/></linearGradient>
<linearGradient id="h3r40"><stop offset="0" stop-color="#000000"/><stop offset=".0825" stop-color="#020302"/><stop offset=".1675" stop-color="#000000"/><stop offset=".2575" stop-color="#020202"/><stop offset=".335" stop-color="#000000"/><stop offset=".37" stop-color="#020202"/><stop offset=".3975" stop-color="#070807"/><stop offset=".4275" stop-color="#111311"/><stop offset=".4525" stop-color="#1c201c"/><stop offset=".51" stop-color="#384039"/><stop offset=".535" stop-color="#424c43"/><stop offset=".56" stop-color="#49534a"/><stop offset=".5825" stop-color="#4b564c"/><stop offset=".6075" stop-color="#485349"/><stop offset=".6325" stop-color="#424b43"/><stop offset=".6575" stop-color="#384038"/><stop offset=".735" stop-color="#121513"/><stop offset=".76" stop-color="#0a0b0a"/><stop offset=".785" stop-color="#040404"/><stop offset=".8275" stop-color="#000000"/><stop offset=".9175" stop-color="#020302"/><stop offset="1" stop-color="#000000"/></linearGradient>
<linearGradient id="h3r41"><stop offset="0" stop-color="#000000"/><stop offset=".0725" stop-color="#020202"/><stop offset=".1525" stop-color="#000000"/><stop offset=".2375" stop-color="#030303"/><stop offset=".3275" stop-color="#000000"/><stop offset=".365" stop-color="#010201"/><stop offset=".3925" stop-color="#050605"/><stop offset=".42" stop-color="#0c0e0c"/><stop offset=".5" stop-color="#292f29"/><stop offset=".525" stop-color="#313831"/><stop offset=".55" stop-color="#363d36"/><stop offset=".5725" stop-color="#373f38"/><stop offset=".5975" stop-color="#353d36"/><stop offset=".6225" stop-color="#303731"/><stop offset=".6475" stop-color="#282e29"/><stop offset=".72" stop-color="#0e100e"/><stop offset=".745" stop-color="#070807"/><stop offset=".77" stop-color="#030303"/><stop offset=".8075" stop-color="#000000"/><stop offset=".9075" stop-color="#030303"/><stop offset="1" stop-color="#000000"/></linearGradient>
<linearGradient id="h3r42"><stop offset="0" stop-color="#000000"/><stop offset=".0625" stop-color="#010101"/><stop offset=".1325" stop-color="#000000"/><stop offset=".2275" stop-color="#030403"/><stop offset=".325" stop-color="#000000"/><stop offset=".3625" stop-color="#010101"/><stop offset=".3875" stop-color="#040404"/><stop offset=".415" stop-color="#090a09"/><stop offset=".515" stop-color="#222622"/><stop offset=".54" stop-color="#252b26"/><stop offset=".5625" stop-color="#262c27"/><stop offset=".585" stop-color="#252b26"/><stop offset=".61" stop-color="#222622"/><stop offset=".7075" stop-color="#090a09"/><stop offset=".755" stop-color="#020202"/><stop offset=".7975" stop-color="#000000"/><stop offset=".9" stop-color="#030403"/><stop offset="1" stop-color="#000000"/></linearGradient>
<linearGradient id="h3r43"><stop offset="0" stop-color="#000000"/><stop offset=".115" stop-color="#000000"/><stop offset=".2175" stop-color="#030403"/><stop offset=".32" stop-color="#000000"/><stop offset=".3575" stop-color="#010101"/><stop offset=".4075" stop-color="#050605"/><stop offset=".5075" stop-color="#161916"/><stop offset=".5525" stop-color="#191c19"/><stop offset=".6" stop-color="#151916"/><stop offset=".695" stop-color="#050606"/><stop offset=".74" stop-color="#010101"/><stop offset=".7825" stop-color="#000000"/><stop offset=".8875" stop-color="#030403"/><stop offset="1" stop-color="#000000"/></linearGradient>
<linearGradient id="h3r44"><stop offset="0" stop-color="#000000"/><stop offset=".0975" stop-color="#000000"/><stop offset=".2075" stop-color="#030303"/><stop offset=".355" stop-color="#000000"/><stop offset=".4025" stop-color="#030403"/><stop offset=".4975" stop-color="#0d0e0d"/><stop offset=".5425" stop-color="#0e100f"/><stop offset=".5875" stop-color="#0d0e0d"/><stop offset=".68" stop-color="#030403"/><stop offset=".725" stop-color="#000000"/><stop offset=".765" stop-color="#000000"/><stop offset=".8775" stop-color="#030303"/><stop offset="1" stop-color="#000000"/></linearGradient>
<linearGradient id="h3r45"><stop offset="0" stop-color="#000000"/><stop offset=".1975" stop-color="#020202"/><stop offset=".3525" stop-color="#000000"/><stop offset=".53" stop-color="#070807"/><stop offset=".7075" stop-color="#000000"/><stop offset=".865" stop-color="#020202"/><stop offset="1" stop-color="#000000"/></linearGradient>
<linearGradient id="h3r46"><stop offset="0" stop-color="#000000"/><stop offset=".1875" stop-color="#010101"/><stop offset=".35" stop-color="#000000"/><stop offset=".52" stop-color="#030303"/><stop offset=".6925" stop-color="#000000"/><stop offset=".855" stop-color="#010101"/><stop offset="1" stop-color="#000000"/></linearGradient>
<linearGradient id="h3r47"><stop offset="0" stop-color="#000000"/><stop offset="1" stop-color="#000000"/></linearGradient>
<linearGradient id="h3mg" gradientUnits="userSpaceOnUse" x1="0" y1="0" x2="0" y2="8.4042" spreadMethod="reflect"><stop offset="0" stop-color="#fff" stop-opacity="0"/><stop offset="1" stop-color="#fff" stop-opacity="1"/></linearGradient>
<mask id="h3m" maskUnits="userSpaceOnUse" x="0" y="-8.404" width="429.60" height="420.208"><rect y="-8.404" width="429.60" height="420.208" fill="url(#h3mg)"/></mask>
<clipPath id="h3c"><rect width="429.60" height="403.40"/></clipPath>
<g id="h3" clip-path="url(#h3c)"><g><rect y="8.404" width="429.60" height="16.808" fill="url(#h3r2)"/><rect y="25.212" width="429.60" height="16.808" fill="url(#h3r4)"/><rect y="42.021" width="429.60" height="16.808" fill="url(#h3r6)"/><rect y="58.829" width="429.60" height="16.808" fill="url(#h3r8)"/><rect y="75.638" width="429.60" height="16.808" fill="url(#h3r10)"/><rect y="92.446" width="429.60" height="16.808" fill="url(#h3r12)"/><rect y="109.254" width="429.60" height="16.808" fill="url(#h3r14)"/><rect y="126.062" width="429.60" height="16.808" fill="url(#h3r16)"/><rect y="142.871" width="429.60" height="16.808" fill="url(#h3r18)"/><rect y="159.679" width="429.60" height="16.808" fill="url(#h3r20)"/><rect y="176.488" width="429.60" height="16.808" fill="url(#h3r22)"/><rect y="193.296" width="429.60" height="16.808" fill="url(#h3r24)"/><rect y="210.104" width="429.60" height="16.808" fill="url(#h3r26)"/><rect y="226.912" width="429.60" height="16.808" fill="url(#h3r28)"/><rect y="243.721" width="429.60" height="16.808" fill="url(#h3r30)"/><rect y="260.529" width="429.60" height="16.808" fill="url(#h3r32)"/><rect y="277.338" width="429.60" height="16.808" fill="url(#h3r34)"/><rect y="294.146" width="429.60" height="16.808" fill="url(#h3r36)"/><rect y="310.954" width="429.60" height="16.808" fill="url(#h3r38)"/><rect y="327.763" width="429.60" height="16.808" fill="url(#h3r40)"/><rect y="344.571" width="429.60" height="16.808" fill="url(#h3r42)"/><rect y="361.379" width="429.60" height="16.808" fill="url(#h3r44)"/><rect y="378.188" width="429.60" height="16.808" fill="url(#h3r46)"/></g><g mask="url(#h3m)"><rect y="0.000" width="429.60" height="16.808" fill="url(#h3r1)"/><rect y="16.808" width="429.60" height="16.808" fill="url(#h3r3)"/><rect y="33.617" width="429.60" height="16.808" fill="url(#h3r5)"/><rect y="50.425" width="429.60" height="16.808" fill="url(#h3r7)"/><rect y="67.233" width="429.60" height="16.808" fill="url(#h3r9)"/><rect y="84.042" width="429.60" height="16.808" fill="url(#h3r11)"/><rect y="100.850" width="429.60" height="16.808" fill="url(#h3r13)"/><rect y="117.658" width="429.60" height="16.808" fill="url(#h3r15)"/><rect y="134.467" width="429.60" height="16.808" fill="url(#h3r17)"/><rect y="151.275" width="429.60" height="16.808" fill="url(#h3r19)"/><rect y="168.083" width="429.60" height="16.808" fill="url(#h3r21)"/><rect y="184.892" width="429.60" height="16.808" fill="url(#h3r23)"/><rect y="201.700" width="429.60" height="16.808" fill="url(#h3r25)"/><rect y="218.508" width="429.60" height="16.808" fill="url(#h3r27)"/><rect y="235.317" width="429.60" height="16.808" fill="url(#h3r29)"/><rect y="252.125" width="429.60" height="16.808" fill="url(#h3r31)"/><rect y="268.933" width="429.60" height="16.808" fill="url(#h3r33)"/><rect y="285.742" width="429.60" height="16.808" fill="url(#h3r35)"/><rect y="302.550" width="429.60" height="16.808" fill="url(#h3r37)"/><rect y="319.358" width="429.60" height="16.808" fill="url(#h3r39)"/><rect y="336.167" width="429.60" height="16.808" fill="url(#h3r41)"/><rect y="352.975" width="429.60" height="16.808" fill="url(#h3r43)"/><rect y="369.783" width="429.60" height="16.808" fill="url(#h3r45)"/><rect y="386.592" width="429.60" height="16.808" fill="url(#h3r47)"/></g></g>
</defs>
<rect width="1270" height="2315" fill="#fff"/>
<g id="panel-a">
<clipPath id="cl0"><rect x="156.7" y="41.10" width="430.10" height="403.40"/></clipPath>
<g clip-path="url(#cl0)">
<polygon points="156.7,444.5 156.7,444.5 158.5,444.2 160.3,443.2 162.1,441.7 163.9,439.7 165.7,437.1 167.5,434.0 169.2,430.4 171.0,426.4 172.8,422.1 174.6,417.3 176.4,412.2 178.2,406.7 180.0,400.9 181.8,394.9 183.6,388.6 185.4,382.1 187.2,375.4 189.0,368.5 190.7,361.4 192.5,354.2 194.3,346.9 196.1,339.5 197.9,331.9 199.7,324.4 201.5,316.7 203.3,309.1 205.1,301.4 206.9,293.7 208.7,286.0 210.5,278.4 212.3,270.8 214.0,263.3 215.8,255.8 217.6,248.4 219.4,241.1 221.2,233.9 223.0,226.8 224.8,219.9 226.6,213.0 228.4,206.4 230.2,199.8 232.0,193.4 233.8,187.1 235.6,181.1 237.3,175.2 239.1,169.4 240.9,163.8 242.7,158.5 244.5,153.3 246.3,148.3 248.1,143.4 249.9,138.8 251.7,134.4 253.5,130.1 255.3,126.1 257.1,122.2 258.8,118.5 260.6,115.1 262.4,111.8 264.2,108.7 266.0,105.8 267.8,103.1 269.6,100.5 271.4,98.2 273.2,96.0 275.0,94.0 276.8,92.1 278.6,90.5 280.4,88.9 282.1,87.6 283.9,86.4 285.7,85.3 287.5,84.4 289.3,83.7 291.1,83.0 292.9,82.5 294.7,82.1 296.5,81.9 298.3,81.7 300.1,81.7 301.9,81.7 303.7,81.9 305.4,82.1 307.2,82.4 309.0,82.8 310.8,83.3 312.6,83.8 314.4,84.4 316.2,85.0 318.0,85.7 319.8,86.4 321.6,87.1 323.4,87.9 325.2,88.7 326.9,89.6 328.7,90.4 330.5,91.3 332.3,92.1 334.1,93.0 335.9,93.8 337.7,94.7 339.5,95.5 341.3,96.3 343.1,97.1 344.9,97.8 346.7,98.5 348.5,99.2 350.2,99.9 352.0,100.5 353.8,101.0 355.6,101.6 357.4,102.0 359.2,102.5 361.0,102.8 362.8,103.1 364.6,103.4 366.4,103.6 368.2,103.7 370.0,103.8 371.8,103.9 373.5,103.8 375.3,103.7 377.1,103.6 378.9,103.4 380.7,103.1 382.5,102.8 384.3,102.5 386.1,102.0 387.9,101.6 389.7,101.0 391.5,100.5 393.3,99.9 395.0,99.2 396.8,98.5 398.6,97.8 400.4,97.1 402.2,96.3 404.0,95.5 405.8,94.7 407.6,93.8 409.4,93.0 411.2,92.1 413.0,91.3 414.8,90.4 416.6,89.6 418.3,88.7 420.1,87.9 421.9,87.1 423.7,86.4 425.5,85.7 427.3,85.0 429.1,84.4 430.9,83.8 432.7,83.3 434.5,82.8 436.3,82.4 438.1,82.1 439.8,81.9 441.6,81.7 443.4,81.7 445.2,81.7 447.0,81.9 448.8,82.1 450.6,82.5 452.4,83.0 454.2,83.7 456.0,84.4 457.8,85.3 459.6,86.4 461.4,87.6 463.1,88.9 464.9,90.5 466.7,92.1 468.5,94.0 470.3,96.0 472.1,98.2 473.9,100.5 475.7,103.1 477.5,105.8 479.3,108.7 481.1,111.8 482.9,115.1 484.7,118.5 486.4,122.2 488.2,126.1 490.0,130.1 491.8,134.4 493.6,138.8 495.4,143.4 497.2,148.3 499.0,153.3 500.8,158.5 502.6,163.8 504.4,169.4 506.2,175.2 507.9,181.1 509.7,187.1 511.5,193.4 513.3,199.8 515.1,206.4 516.9,213.0 518.7,219.9 520.5,226.8 522.3,233.9 524.1,241.1 525.9,248.4 527.7,255.8 529.5,263.3 531.2,270.8 533.0,278.4 534.8,286.0 536.6,293.7 538.4,301.4 540.2,309.1 542.0,316.7 543.8,324.4 545.6,331.9 547.4,339.5 549.2,346.9 551.0,354.2 552.8,361.4 554.5,368.5 556.3,375.4 558.1,382.1 559.9,388.6 561.7,394.9 563.5,400.9 565.3,406.7 567.1,412.2 568.9,417.3 570.7,422.1 572.5,426.4 574.3,430.4 576.0,434.0 577.8,437.1 579.6,439.7 581.4,441.7 583.2,443.2 585.0,444.2 586.8,444.5 586.8,444.5" fill="#008000" fill-opacity="0.2"/>
<polyline points="156.7,444.5 158.5,444.2 160.3,443.2 162.1,441.7 163.9,439.7 165.7,437.1 167.5,434.0 169.2,430.4 171.0,426.4 172.8,422.1 174.6,417.3 176.4,412.2 178.2,406.7 180.0,400.9 181.8,394.9 183.6,388.6 185.4,382.1 187.2,375.4 189.0,368.5 190.7,361.4 192.5,354.2 194.3,346.9 196.1,339.5 197.9,331.9 199.7,324.4 201.5,316.7 203.3,309.1 205.1,301.4 206.9,293.7 208.7,286.0 210.5,278.4 212.3,270.8 214.0,263.3 215.8,255.8 217.6,248.4 219.4,241.1 221.2,233.9 223.0,226.8 224.8,219.9 226.6,213.0 228.4,206.4 230.2,199.8 232.0,193.4 233.8,187.1 235.6,181.1 237.3,175.2 239.1,169.4 240.9,163.8 242.7,158.5 244.5,153.3 246.3,148.3 248.1,143.4 249.9,138.8 251.7,134.4 253.5,130.1 255.3,126.1 257.1,122.2 258.8,118.5 260.6,115.1 262.4,111.8 264.2,108.7 266.0,105.8 267.8,103.1 269.6,100.5 271.4,98.2 273.2,96.0 275.0,94.0 276.8,92.1 278.6,90.5 280.4,88.9 282.1,87.6 283.9,86.4 285.7,85.3 287.5,84.4 289.3,83.7 291.1,83.0 292.9,82.5 294.7,82.1 296.5,81.9 298.3,81.7 300.1,81.7 301.9,81.7 303.7,81.9 305.4,82.1 307.2,82.4 309.0,82.8 310.8,83.3 312.6,83.8 314.4,84.4 316.2,85.0 318.0,85.7 319.8,86.4 321.6,87.1 323.4,87.9 325.2,88.7 326.9,89.6 328.7,90.4 330.5,91.3 332.3,92.1 334.1,93.0 335.9,93.8 337.7,94.7 339.5,95.5 341.3,96.3 343.1,97.1 344.9,97.8 346.7,98.5 348.5,99.2 350.2,99.9 352.0,100.5 353.8,101.0 355.6,101.6 357.4,102.0 359.2,102.5 361.0,102.8 362.8,103.1 364.6,103.4 366.4,103.6 368.2,103.7 370.0,103.8 371.8,103.9 373.5,103.8 375.3,103.7 377.1,103.6 378.9,103.4 380.7,103.1 382.5,102.8 384.3,102.5 386.1,102.0 387.9,101.6 389.7,101.0 391.5,100.5 393.3,99.9 395.0,99.2 396.8,98.5 398.6,97.8 400.4,97.1 402.2,96.3 404.0,95.5 405.8,94.7 407.6,93.8 409.4,93.0 411.2,92.1 413.0,91.3 414.8,90.4 416.6,89.6 418.3,88.7 420.1,87.9 421.9,87.1 423.7,86.4 425.5,85.7 427.3,85.0 429.1,84.4 430.9,83.8 432.7,83.3 434.5,82.8 436.3,82.4 438.1,82.1 439.8,81.9 441.6,81.7 443.4,81.7 445.2,81.7 447.0,81.9 448.8,82.1 450.6,82.5 452.4,83.0 454.2,83.7 456.0,84.4 457.8,85.3 459.6,86.4 461.4,87.6 463.1,88.9 464.9,90.5 466.7,92.1 468.5,94.0 470.3,96.0 472.1,98.2 473.9,100.5 475.7,103.1 477.5,105.8 479.3,108.7 481.1,111.8 482.9,115.1 484.7,118.5 486.4,122.2 488.2,126.1 490.0,130.1 491.8,134.4 493.6,138.8 495.4,143.4 497.2,148.3 499.0,153.3 500.8,158.5 502.6,163.8 504.4,169.4 506.2,175.2 507.9,181.1 509.7,187.1 511.5,193.4 513.3,199.8 515.1,206.4 516.9,213.0 518.7,219.9 520.5,226.8 522.3,233.9 524.1,241.1 525.9,248.4 527.7,255.8 529.5,263.3 531.2,270.8 533.0,278.4 534.8,286.0 536.6,293.7 538.4,301.4 540.2,309.1 542.0,316.7 543.8,324.4 545.6,331.9 547.4,339.5 549.2,346.9 551.0,354.2 552.8,361.4 554.5,368.5 556.3,375.4 558.1,382.1 559.9,388.6 561.7,394.9 563.5,400.9 565.3,406.7 567.1,412.2 568.9,417.3 570.7,422.1 572.5,426.4 574.3,430.4 576.0,434.0 577.8,437.1 579.6,439.7 581.4,441.7 583.2,443.2 585.0,444.2 586.8,444.5" fill="none" stroke="#008000" stroke-width="3.1" stroke-linejoin="round"/>
</g>
<rect x="156.7" y="41.10" width="430.10" height="403.40" fill="none" stroke="#000" stroke-width="1.3"/>
<path d="M156.70 444.50v16M264.22 444.50v16M371.75 444.50v16M479.27 444.50v16M586.80 444.50v16M210.46 444.50v8M317.99 444.50v8M425.51 444.50v8M533.04 444.50v8M156.70 444.50h-16M156.70 252.04h-16M156.70 59.58h-16M156.70 348.27h-8M156.70 155.81h-8" stroke="#000" stroke-width="1.3" fill="none"/>
<text x="124.92" y="496.00" font-size="37" font-family="Liberation Serif, serif">0.00</text>
<text x="232.47" y="496.00" font-size="37" font-family="Liberation Serif, serif">0.25</text>
<text x="339.98" y="496.00" font-size="37" font-family="Liberation Serif, serif">0.50</text>
<text x="447.52" y="496.00" font-size="37" font-family="Liberation Serif, serif">0.75</text>
<text x="554.12" y="496.00" font-size="37" font-family="Liberation Serif, serif">1.00</text>
<text x="64.86" y="455.80" font-size="37" font-family="Liberation Serif, serif">0.00</text>
<text x="64.57" y="263.34" font-size="37" font-family="Liberation Serif, serif">0.01</text>
<text x="65.48" y="70.88" font-size="37" font-family="Liberation Serif, serif">0.02</text>
</g>
<g id="panel-b">
<rect x="817.85" y="40.25" width="431.20" height="405.30" fill="#000"/>
<use href="#h1" x="818.70" y="41.10"/>
<path d="M818.70 444.50v16M904.62 444.50v16M990.54 444.50v16M1076.46 444.50v16M1162.38 444.50v16M1248.30 444.50v16M861.66 444.50v8M947.58 444.50v8M1033.50 444.50v8M1119.42 444.50v8M1205.34 444.50v8M818.70 444.50h-16M818.70 363.82h-16M818.70 283.14h-16M818.70 202.46h-16M818.70 121.78h-16M818.70 41.10h-16M818.70 424.33h-8M818.70 404.16h-8M818.70 383.99h-8M818.70 343.65h-8M818.70 323.48h-8M818.70 303.31h-8M818.70 262.97h-8M818.70 242.80h-8M818.70 222.63h-8M818.70 182.29h-8M818.70 162.12h-8M818.70 141.95h-8M818.70 101.61h-8M818.70 81.44h-8M818.70 61.27h-8" stroke="#000" stroke-width="1.3" fill="none"/>
<text x="796.18" y="496.00" font-size="37" font-family="Liberation Serif, serif">0.0</text>
<text x="882.41" y="496.00" font-size="37" font-family="Liberation Serif, serif">0.2</text>
<text x="967.59" y="496.00" font-size="37" font-family="Liberation Serif, serif">0.4</text>
<text x="1053.77" y="496.00" font-size="37" font-family="Liberation Serif, serif">0.6</text>
<text x="1139.86" y="496.00" font-size="37" font-family="Liberation Serif, serif">0.8</text>
<text x="1224.87" y="496.00" font-size="37" font-family="Liberation Serif, serif">1.0</text>
<text x="745.36" y="455.80" font-size="37" font-family="Liberation Serif, serif">0.0</text>
<text x="745.99" y="375.12" font-size="37" font-family="Liberation Serif, serif">0.2</text>
<text x="744.51" y="294.44" font-size="37" font-family="Liberation Serif, serif">0.4</text>
<text x="745.02" y="213.76" font-size="37" font-family="Liberation Serif, serif">0.6</text>
<text x="745.36" y="133.08" font-size="37" font-family="Liberation Serif, serif">0.8</text>
<text x="745.36" y="52.40" font-size="37" font-family="Liberation Serif, serif">1.0</text>
</g>
<g id="panel-c">
<clipPath id="cl1"><rect x="156.7" y="623.40" width="430.10" height="403.40"/></clipPath>
<g clip-path="url(#cl1)">
<polygon points="156.7,1026.8 156.7,1026.8 158.5,1026.6 160.3,1026.1 162.1,1025.3 163.9,1024.2 165.7,1022.7 167.5,1021.0 169.2,1018.9 171.0,1016.5 172.8,1013.8 174.6,1010.8 176.4,1007.5 178.2,1003.9 180.0,1000.1 181.8,995.9 183.6,991.5 185.4,986.9 187.2,982.0 189.0,976.9 190.7,971.5 192.5,966.0 194.3,960.2 196.1,954.3 197.9,948.1 199.7,941.8 201.5,935.4 203.3,928.8 205.1,922.0 206.9,915.2 208.7,908.2 210.5,901.2 212.3,894.1 214.0,886.9 215.8,879.7 217.6,872.4 219.4,865.1 221.2,857.8 223.0,850.5 224.8,843.2 226.6,836.0 228.4,828.8 230.2,821.6 232.0,814.5 233.8,807.5 235.6,800.6 237.3,793.8 239.1,787.1 240.9,780.5 242.7,774.1 244.5,767.7 246.3,761.6 248.1,755.6 249.9,749.8 251.7,744.1 253.5,738.6 255.3,733.3 257.1,728.3 258.8,723.4 260.6,718.7 262.4,714.2 264.2,710.0 266.0,705.9 267.8,702.1 269.6,698.5 271.4,695.1 273.2,692.0 275.0,689.1 276.8,686.4 278.6,683.9 280.4,681.6 282.1,679.6 283.9,677.8 285.7,676.1 287.5,674.7 289.3,673.5 291.1,672.5 292.9,671.7 294.7,671.1 296.5,670.7 298.3,670.4 300.1,670.4 301.9,670.4 303.7,670.7 305.4,671.1 307.2,671.6 309.0,672.2 310.8,673.0 312.6,673.9 314.4,674.9 316.2,676.0 318.0,677.2 319.8,678.4 321.6,679.7 323.4,681.1 325.2,682.5 326.9,684.0 328.7,685.5 330.5,687.0 332.3,688.5 334.1,690.1 335.9,691.6 337.7,693.1 339.5,694.6 341.3,696.0 343.1,697.5 344.9,698.8 346.7,700.1 348.5,701.4 350.2,702.6 352.0,703.7 353.8,704.8 355.6,705.7 357.4,706.6 359.2,707.4 361.0,708.0 362.8,708.6 364.6,709.1 366.4,709.5 368.2,709.8 370.0,709.9 371.8,710.0 373.5,709.9 375.3,709.8 377.1,709.5 378.9,709.1 380.7,708.6 382.5,708.0 384.3,707.4 386.1,706.6 387.9,705.7 389.7,704.8 391.5,703.7 393.3,702.6 395.0,701.4 396.8,700.1 398.6,698.8 400.4,697.5 402.2,696.0 404.0,694.6 405.8,693.1 407.6,691.6 409.4,690.1 411.2,688.5 413.0,687.0 414.8,685.5 416.6,684.0 418.3,682.5 420.1,681.1 421.9,679.7 423.7,678.4 425.5,677.2 427.3,676.0 429.1,674.9 430.9,673.9 432.7,673.0 434.5,672.2 436.3,671.6 438.1,671.1 439.8,670.7 441.6,670.4 443.4,670.4 445.2,670.4 447.0,670.7 448.8,671.1 450.6,671.7 452.4,672.5 454.2,673.5 456.0,674.7 457.8,676.1 459.6,677.8 461.4,679.6 463.1,681.6 464.9,683.9 466.7,686.4 468.5,689.1 470.3,692.0 472.1,695.1 473.9,698.5 475.7,702.1 477.5,705.9 479.3,710.0 481.1,714.2 482.9,718.7 484.7,723.4 486.4,728.3 488.2,733.3 490.0,738.6 491.8,744.1 493.6,749.8 495.4,755.6 497.2,761.6 499.0,767.7 500.8,774.1 502.6,780.5 504.4,787.1 506.2,793.8 507.9,800.6 509.7,807.5 511.5,814.5 513.3,821.6 515.1,828.8 516.9,836.0 518.7,843.2 520.5,850.5 522.3,857.8 524.1,865.1 525.9,872.4 527.7,879.7 529.5,886.9 531.2,894.1 533.0,901.2 534.8,908.2 536.6,915.2 538.4,922.0 540.2,928.8 542.0,935.4 543.8,941.8 545.6,948.1 547.4,954.3 549.2,960.2 551.0,966.0 552.8,971.5 554.5,976.9 556.3,982.0 558.1,986.9 559.9,991.5 561.7,995.9 563.5,1000.1 565.3,1003.9 567.1,1007.5 568.9,1010.8 570.7,1013.8 572.5,1016.5 574.3,1018.9 576.0,1021.0 577.8,1022.7 579.6,1024.2 581.4,1025.3 583.2,1026.1 585.0,1026.6 586.8,1026.8 586.8,1026.8" fill="#008000" fill-opacity="0.2"/>
<polyline points="156.7,1026.8 158.5,1026.6 160.3,1026.1 162.1,1025.3 163.9,1024.2 165.7,1022.7 167.5,1021.0 169.2,1018.9 171.0,1016.5 172.8,1013.8 174.6,1010.8 176.4,1007.5 178.2,1003.9 180.0,1000.1 181.8,995.9 183.6,991.5 185.4,986.9 187.2,982.0 189.0,976.9 190.7,971.5 192.5,966.0 194.3,960.2 196.1,954.3 197.9,948.1 199.7,941.8 201.5,935.4 203.3,928.8 205.1,922.0 206.9,915.2 208.7,908.2 210.5,901.2 212.3,894.1 214.0,886.9 215.8,879.7 217.6,872.4 219.4,865.1 221.2,857.8 223.0,850.5 224.8,843.2 226.6,836.0 228.4,828.8 230.2,821.6 232.0,814.5 233.8,807.5 235.6,800.6 237.3,793.8 239.1,787.1 240.9,780.5 242.7,774.1 244.5,767.7 246.3,761.6 248.1,755.6 249.9,749.8 251.7,744.1 253.5,738.6 255.3,733.3 257.1,728.3 258.8,723.4 260.6,718.7 262.4,714.2 264.2,710.0 266.0,705.9 267.8,702.1 269.6,698.5 271.4,695.1 273.2,692.0 275.0,689.1 276.8,686.4 278.6,683.9 280.4,681.6 282.1,679.6 283.9,677.8 285.7,676.1 287.5,674.7 289.3,673.5 291.1,672.5 292.9,671.7 294.7,671.1 296.5,670.7 298.3,670.4 300.1,670.4 301.9,670.4 303.7,670.7 305.4,671.1 307.2,671.6 309.0,672.2 310.8,673.0 312.6,673.9 314.4,674.9 316.2,676.0 318.0,677.2 319.8,678.4 321.6,679.7 323.4,681.1 325.2,682.5 326.9,684.0 328.7,685.5 330.5,687.0 332.3,688.5 334.1,690.1 335.9,691.6 337.7,693.1 339.5,694.6 341.3,696.0 343.1,697.5 344.9,698.8 346.7,700.1 348.5,701.4 350.2,702.6 352.0,703.7 353.8,704.8 355.6,705.7 357.4,706.6 359.2,707.4 361.0,708.0 362.8,708.6 364.6,709.1 366.4,709.5 368.2,709.8 370.0,709.9 371.8,710.0 373.5,709.9 375.3,709.8 377.1,709.5 378.9,709.1 380.7,708.6 382.5,708.0 384.3,707.4 386.1,706.6 387.9,705.7 389.7,704.8 391.5,703.7 393.3,702.6 395.0,701.4 396.8,700.1 398.6,698.8 400.4,697.5 402.2,696.0 404.0,694.6 405.8,693.1 407.6,691.6 409.4,690.1 411.2,688.5 413.0,687.0 414.8,685.5 416.6,684.0 418.3,682.5 420.1,681.1 421.9,679.7 423.7,678.4 425.5,677.2 427.3,676.0 429.1,674.9 430.9,673.9 432.7,673.0 434.5,672.2 436.3,671.6 438.1,671.1 439.8,670.7 441.6,670.4 443.4,670.4 445.2,670.4 447.0,670.7 448.8,671.1 450.6,671.7 452.4,672.5 454.2,673.5 456.0,674.7 457.8,676.1 459.6,677.8 461.4,679.6 463.1,681.6 464.9,683.9 466.7,686.4 468.5,689.1 470.3,692.0 472.1,695.1 473.9,698.5 475.7,702.1 477.5,705.9 479.3,710.0 481.1,714.2 482.9,718.7 484.7,723.4 486.4,728.3 488.2,733.3 490.0,738.6 491.8,744.1 493.6,749.8 495.4,755.6 497.2,761.6 499.0,767.7 500.8,774.1 502.6,780.5 504.4,787.1 506.2,793.8 507.9,800.6 509.7,807.5 511.5,814.5 513.3,821.6 515.1,828.8 516.9,836.0 518.7,843.2 520.5,850.5 522.3,857.8 524.1,865.1 525.9,872.4 527.7,879.7 529.5,886.9 531.2,894.1 533.0,901.2 534.8,908.2 536.6,915.2 538.4,922.0 540.2,928.8 542.0,935.4 543.8,941.8 545.6,948.1 547.4,954.3 549.2,960.2 551.0,966.0 552.8,971.5 554.5,976.9 556.3,982.0 558.1,986.9 559.9,991.5 561.7,995.9 563.5,1000.1 565.3,1003.9 567.1,1007.5 568.9,1010.8 570.7,1013.8 572.5,1016.5 574.3,1018.9 576.0,1021.0 577.8,1022.7 579.6,1024.2 581.4,1025.3 583.2,1026.1 585.0,1026.6 586.8,1026.8" fill="none" stroke="#008000" stroke-width="3.1" stroke-linejoin="round"/>
</g>
<rect x="156.7" y="623.40" width="430.10" height="403.40" fill="none" stroke="#000" stroke-width="1.3"/>
<path d="M156.70 1026.80v16M264.22 1026.80v16M371.75 1026.80v16M479.27 1026.80v16M586.80 1026.80v16M210.46 1026.80v8M317.99 1026.80v8M425.51 1026.80v8M533.04 1026.80v8M156.70 1026.80h-16M156.70 825.10h-16M156.70 623.40h-16M156.70 925.95h-8M156.70 724.25h-8" stroke="#000" stroke-width="1.3" fill="none"/>
<text x="134.17" y="1078.30" font-size="37" font-family="Liberation Serif, serif">0.0</text>
<text x="241.72" y="1078.30" font-size="37" font-family="Liberation Serif, serif">0.5</text>
<text x="348.32" y="1078.30" font-size="37" font-family="Liberation Serif, serif">1.0</text>
<text x="455.86" y="1078.30" font-size="37" font-family="Liberation Serif, serif">1.5</text>
<text x="564.18" y="1078.30" font-size="37" font-family="Liberation Serif, serif">2.0</text>
<text x="83.36" y="1038.10" font-size="37" font-family="Liberation Serif, serif">0.0</text>
<text x="83.39" y="836.40" font-size="37" font-family="Liberation Serif, serif">0.5</text>
<text x="83.36" y="634.70" font-size="37" font-family="Liberation Serif, serif">1.0</text>
</g>
<g id="panel-d">
<rect x="817.85" y="622.55" width="431.20" height="405.30" fill="#000"/>
<use href="#h2" x="818.70" y="623.40"/>
<path d="M818.70 1026.80v16M926.10 1026.80v16M1033.50 1026.80v16M1140.90 1026.80v16M1248.30 1026.80v16M872.40 1026.80v8M979.80 1026.80v8M1087.20 1026.80v8M1194.60 1026.80v8M818.70 1026.80h-16M818.70 925.95h-16M818.70 825.10h-16M818.70 724.25h-16M818.70 623.40h-16M818.70 976.38h-8M818.70 875.52h-8M818.70 774.67h-8M818.70 673.83h-8" stroke="#000" stroke-width="1.3" fill="none"/>
<text x="796.18" y="1078.30" font-size="37" font-family="Liberation Serif, serif">0.0</text>
<text x="903.59" y="1078.30" font-size="37" font-family="Liberation Serif, serif">0.5</text>
<text x="1010.07" y="1078.30" font-size="37" font-family="Liberation Serif, serif">1.0</text>
<text x="1117.49" y="1078.30" font-size="37" font-family="Liberation Serif, serif">1.5</text>
<text x="1225.68" y="1078.30" font-size="37" font-family="Liberation Serif, serif">2.0</text>
<text x="745.36" y="1038.10" font-size="37" font-family="Liberation Serif, serif">0.0</text>
<text x="745.39" y="937.25" font-size="37" font-family="Liberation Serif, serif">0.5</text>
<text x="745.36" y="836.40" font-size="37" font-family="Liberation Serif, serif">1.0</text>
<text x="745.39" y="735.55" font-size="37" font-family="Liberation Serif, serif">1.5</text>
<text x="745.36" y="634.70" font-size="37" font-family="Liberation Serif, serif">2.0</text>
</g>
<g id="panel-e">
<clipPath id="cl2"><rect x="156.7" y="1205.70" width="430.10" height="403.40"/></clipPath>
<g clip-path="url(#cl2)">
<polygon points="156.7,1609.1 156.7,1609.1 158.5,1609.0 160.3,1608.8 162.1,1608.5 163.9,1608.1 165.7,1607.5 167.5,1606.8 169.2,1606.0 171.0,1605.1 172.8,1604.0 174.6,1602.9 176.4,1601.6 178.2,1600.2 180.0,1598.7 181.8,1597.0 183.6,1595.2 185.4,1593.2 187.2,1591.1 189.0,1588.9 190.7,1586.4 192.5,1583.8 194.3,1581.0 196.1,1578.0 197.9,1574.9 199.7,1571.5 201.5,1567.9 203.3,1564.1 205.1,1560.0 206.9,1555.8 208.7,1551.3 210.5,1546.6 212.3,1541.7 214.0,1536.5 215.8,1531.1 217.6,1525.4 219.4,1519.5 221.2,1513.4 223.0,1507.1 224.8,1500.6 226.6,1493.8 228.4,1486.9 230.2,1479.8 232.0,1472.5 233.8,1465.0 235.6,1457.4 237.3,1449.6 239.1,1441.7 240.9,1433.7 242.7,1425.7 244.5,1417.6 246.3,1409.4 248.1,1401.2 249.9,1393.0 251.7,1384.9 253.5,1376.7 255.3,1368.7 257.1,1360.7 258.8,1352.9 260.6,1345.2 262.4,1337.6 264.2,1330.3 266.0,1323.1 267.8,1316.2 269.6,1309.6 271.4,1303.2 273.2,1297.1 275.0,1291.3 276.8,1285.9 278.6,1280.8 280.4,1276.0 282.1,1271.6 283.9,1267.7 285.7,1264.1 287.5,1260.9 289.3,1258.2 291.1,1255.8 292.9,1253.9 294.7,1252.5 296.5,1251.4 298.3,1250.8 300.1,1250.6 301.9,1250.8 303.7,1251.4 305.4,1252.4 307.2,1253.8 309.0,1255.6 310.8,1257.7 312.6,1260.1 314.4,1262.9 316.2,1266.0 318.0,1269.4 319.8,1273.0 321.6,1276.9 323.4,1280.9 325.2,1285.2 326.9,1289.6 328.7,1294.1 330.5,1298.7 332.3,1303.5 334.1,1308.2 335.9,1313.0 337.7,1317.7 339.5,1322.4 341.3,1327.1 343.1,1331.6 344.9,1336.0 346.7,1340.3 348.5,1344.4 350.2,1348.3 352.0,1352.0 353.8,1355.4 355.6,1358.6 357.4,1361.5 359.2,1364.0 361.0,1366.3 362.8,1368.3 364.6,1369.9 366.4,1371.1 368.2,1372.0 370.0,1372.6 371.7,1372.8 373.5,1372.6 375.3,1372.0 377.1,1371.1 378.9,1369.9 380.7,1368.3 382.5,1366.3 384.3,1364.0 386.1,1361.5 387.9,1358.6 389.7,1355.4 391.5,1352.0 393.3,1348.3 395.0,1344.4 396.8,1340.3 398.6,1336.0 400.4,1331.6 402.2,1327.1 404.0,1322.4 405.8,1317.7 407.6,1313.0 409.4,1308.2 411.2,1303.5 413.0,1298.7 414.8,1294.1 416.6,1289.6 418.3,1285.2 420.1,1280.9 421.9,1276.9 423.7,1273.0 425.5,1269.4 427.3,1266.0 429.1,1262.9 430.9,1260.1 432.7,1257.7 434.5,1255.6 436.3,1253.8 438.1,1252.4 439.8,1251.4 441.6,1250.8 443.4,1250.6 445.2,1250.8 447.0,1251.4 448.8,1252.5 450.6,1253.9 452.4,1255.8 454.2,1258.2 456.0,1260.9 457.8,1264.1 459.6,1267.7 461.4,1271.6 463.1,1276.0 464.9,1280.8 466.7,1285.9 468.5,1291.3 470.3,1297.1 472.1,1303.2 473.9,1309.6 475.7,1316.2 477.5,1323.1 479.3,1330.3 481.1,1337.6 482.9,1345.2 484.7,1352.9 486.4,1360.7 488.2,1368.7 490.0,1376.7 491.8,1384.9 493.6,1393.0 495.4,1401.2 497.2,1409.4 499.0,1417.6 500.8,1425.7 502.6,1433.7 504.4,1441.7 506.2,1449.6 507.9,1457.4 509.7,1465.0 511.5,1472.5 513.3,1479.8 515.1,1486.9 516.9,1493.8 518.7,1500.6 520.5,1507.1 522.3,1513.4 524.1,1519.5 525.9,1525.4 527.7,1531.1 529.5,1536.5 531.2,1541.7 533.0,1546.6 534.8,1551.3 536.6,1555.8 538.4,1560.0 540.2,1564.1 542.0,1567.9 543.8,1571.5 545.6,1574.9 547.4,1578.0 549.2,1581.0 551.0,1583.8 552.8,1586.4 554.5,1588.9 556.3,1591.1 558.1,1593.2 559.9,1595.2 561.7,1597.0 563.5,1598.7 565.3,1600.2 567.1,1601.6 568.9,1602.9 570.7,1604.0 572.5,1605.1 574.3,1606.0 576.0,1606.8 577.8,1607.5 579.6,1608.1 581.4,1608.5 583.2,1608.8 585.0,1609.0 586.8,1609.1 586.8,1609.1" fill="#008000" fill-opacity="0.2"/>
<polyline points="156.7,1609.1 158.5,1609.0 160.3,1608.8 162.1,1608.5 163.9,1608.1 165.7,1607.5 167.5,1606.8 169.2,1606.0 171.0,1605.1 172.8,1604.0 174.6,1602.9 176.4,1601.6 178.2,1600.2 180.0,1598.7 181.8,1597.0 183.6,1595.2 185.4,1593.2 187.2,1591.1 189.0,1588.9 190.7,1586.4 192.5,1583.8 194.3,1581.0 196.1,1578.0 197.9,1574.9 199.7,1571.5 201.5,1567.9 203.3,1564.1 205.1,1560.0 206.9,1555.8 208.7,1551.3 210.5,1546.6 212.3,1541.7 214.0,1536.5 215.8,1531.1 217.6,1525.4 219.4,1519.5 221.2,1513.4 223.0,1507.1 224.8,1500.6 226.6,1493.8 228.4,1486.9 230.2,1479.8 232.0,1472.5 233.8,1465.0 235.6,1457.4 237.3,1449.6 239.1,1441.7 240.9,1433.7 242.7,1425.7 244.5,1417.6 246.3,1409.4 248.1,1401.2 249.9,1393.0 251.7,1384.9 253.5,1376.7 255.3,1368.7 257.1,1360.7 258.8,1352.9 260.6,1345.2 262.4,1337.6 264.2,1330.3 266.0,1323.1 267.8,1316.2 269.6,1309.6 271.4,1303.2 273.2,1297.1 275.0,1291.3 276.8,1285.9 278.6,1280.8 280.4,1276.0 282.1,1271.6 283.9,1267.7 285.7,1264.1 287.5,1260.9 289.3,1258.2 291.1,1255.8 292.9,1253.9 294.7,1252.5 296.5,1251.4 298.3,1250.8 300.1,1250.6 301.9,1250.8 303.7,1251.4 305.4,1252.4 307.2,1253.8 309.0,1255.6 310.8,1257.7 312.6,1260.1 314.4,1262.9 316.2,1266.0 318.0,1269.4 319.8,1273.0 321.6,1276.9 323.4,1280.9 325.2,1285.2 326.9,1289.6 328.7,1294.1 330.5,1298.7 332.3,1303.5 334.1,1308.2 335.9,1313.0 337.7,1317.7 339.5,1322.4 341.3,1327.1 343.1,1331.6 344.9,1336.0 346.7,1340.3 348.5,1344.4 350.2,1348.3 352.0,1352.0 353.8,1355.4 355.6,1358.6 357.4,1361.5 359.2,1364.0 361.0,1366.3 362.8,1368.3 364.6,1369.9 366.4,1371.1 368.2,1372.0 370.0,1372.6 371.7,1372.8 373.5,1372.6 375.3,1372.0 377.1,1371.1 378.9,1369.9 380.7,1368.3 382.5,1366.3 384.3,1364.0 386.1,1361.5 387.9,1358.6 389.7,1355.4 391.5,1352.0 393.3,1348.3 395.0,1344.4 396.8,1340.3 398.6,1336.0 400.4,1331.6 402.2,1327.1 404.0,1322.4 405.8,1317.7 407.6,1313.0 409.4,1308.2 411.2,1303.5 413.0,1298.7 414.8,1294.1 416.6,1289.6 418.3,1285.2 420.1,1280.9 421.9,1276.9 423.7,1273.0 425.5,1269.4 427.3,1266.0 429.1,1262.9 430.9,1260.1 432.7,1257.7 434.5,1255.6 436.3,1253.8 438.1,1252.4 439.8,1251.4 441.6,1250.8 443.4,1250.6 445.2,1250.8 447.0,1251.4 448.8,1252.5 450.6,1253.9 452.4,1255.8 454.2,1258.2 456.0,1260.9 457.8,1264.1 459.6,1267.7 461.4,1271.6 463.1,1276.0 464.9,1280.8 466.7,1285.9 468.5,1291.3 470.3,1297.1 472.1,1303.2 473.9,1309.6 475.7,1316.2 477.5,1323.1 479.3,1330.3 481.1,1337.6 482.9,1345.2 484.7,1352.9 486.4,1360.7 488.2,1368.7 490.0,1376.7 491.8,1384.9 493.6,1393.0 495.4,1401.2 497.2,1409.4 499.0,1417.6 500.8,1425.7 502.6,1433.7 504.4,1441.7 506.2,1449.6 507.9,1457.4 509.7,1465.0 511.5,1472.5 513.3,1479.8 515.1,1486.9 516.9,1493.8 518.7,1500.6 520.5,1507.1 522.3,1513.4 524.1,1519.5 525.9,1525.4 527.7,1531.1 529.5,1536.5 531.2,1541.7 533.0,1546.6 534.8,1551.3 536.6,1555.8 538.4,1560.0 540.2,1564.1 542.0,1567.9 543.8,1571.5 545.6,1574.9 547.4,1578.0 549.2,1581.0 551.0,1583.8 552.8,1586.4 554.5,1588.9 556.3,1591.1 558.1,1593.2 559.9,1595.2 561.7,1597.0 563.5,1598.7 565.3,1600.2 567.1,1601.6 568.9,1602.9 570.7,1604.0 572.5,1605.1 574.3,1606.0 576.0,1606.8 577.8,1607.5 579.6,1608.1 581.4,1608.5 583.2,1608.8 585.0,1609.0 586.8,1609.1" fill="none" stroke="#008000" stroke-width="3.1" stroke-linejoin="round"/>
</g>
<rect x="156.7" y="1205.70" width="430.10" height="403.40" fill="none" stroke="#000" stroke-width="1.3"/>
<path d="M156.70 1609.10v16M300.07 1609.10v16M443.43 1609.10v16M586.80 1609.10v16M228.38 1609.10v8M371.75 1609.10v8M515.12 1609.10v8M156.70 1609.10h-16M156.70 1456.93h-16M156.70 1304.76h-16M156.70 1533.02h-8M156.70 1380.85h-8M156.70 1228.68h-8" stroke="#000" stroke-width="1.3" fill="none"/>
<text x="148.05" y="1659.60" font-size="37" font-family="Liberation Serif, serif">0</text>
<text x="290.92" y="1659.60" font-size="37" font-family="Liberation Serif, serif">1</text>
<text x="435.01" y="1659.60" font-size="37" font-family="Liberation Serif, serif">2</text>
<text x="578.00" y="1659.60" font-size="37" font-family="Liberation Serif, serif">3</text>
<text x="111.11" y="1619.00" font-size="37" font-family="Liberation Serif, serif">0</text>
<text x="110.82" y="1466.83" font-size="37" font-family="Liberation Serif, serif">1</text>
<text x="111.73" y="1314.66" font-size="37" font-family="Liberation Serif, serif">2</text>
</g>
<g id="panel-f">
<rect x="817.85" y="1204.85" width="431.20" height="405.30" fill="#000"/>
<use href="#h3" x="818.70" y="1205.70"/>
<path d="M818.70 1609.10v16M961.90 1609.10v16M1105.10 1609.10v16M1248.30 1609.10v16M890.30 1609.10v8M1033.50 1609.10v8M1176.70 1609.10v8M818.70 1609.10h-16M818.70 1474.63h-16M818.70 1340.17h-16M818.70 1205.70h-16M818.70 1575.48h-8M818.70 1541.87h-8M818.70 1508.25h-8M818.70 1441.02h-8M818.70 1407.40h-8M818.70 1373.78h-8M818.70 1306.55h-8M818.70 1272.93h-8M818.70 1239.32h-8" stroke="#000" stroke-width="1.3" fill="none"/>
<text x="810.05" y="1659.60" font-size="37" font-family="Liberation Serif, serif">0</text>
<text x="952.75" y="1659.60" font-size="37" font-family="Liberation Serif, serif">1</text>
<text x="1096.67" y="1659.60" font-size="37" font-family="Liberation Serif, serif">2</text>
<text x="1239.50" y="1659.60" font-size="37" font-family="Liberation Serif, serif">3</text>
<text x="773.11" y="1619.00" font-size="37" font-family="Liberation Serif, serif">0</text>
<text x="772.82" y="1484.53" font-size="37" font-family="Liberation Serif, serif">1</text>
<text x="773.74" y="1350.07" font-size="37" font-family="Liberation Serif, serif">2</text>
<text x="773.14" y="1215.60" font-size="37" font-family="Liberation Serif, serif">3</text>
</g>
<g id="panel-g">
<clipPath id="cl3"><rect x="156.7" y="1788.00" width="430.10" height="403.40"/></clipPath>
<g clip-path="url(#cl3)">
<polygon points="156.7,2191.4 156.7,2191.4 158.5,2190.7 160.3,2188.8 162.1,2185.6 163.9,2181.1 165.7,2175.4 167.5,2168.5 169.2,2160.5 171.0,2151.5 172.8,2141.5 174.6,2130.6 176.4,2118.9 178.2,2106.4 180.0,2093.4 181.8,2079.8 183.6,2065.8 185.4,2051.5 187.2,2037.0 189.0,2022.4 190.7,2007.8 192.5,1993.4 194.3,1979.1 196.1,1965.2 197.9,1951.7 199.7,1938.7 201.5,1926.2 203.3,1914.4 205.1,1903.2 206.9,1892.9 208.7,1883.3 210.5,1874.6 212.3,1866.7 214.0,1859.7 215.8,1853.7 217.6,1848.5 219.4,1844.2 221.2,1840.7 223.0,1838.1 224.8,1836.3 226.6,1835.3 228.4,1835.0 230.2,1835.3 232.0,1836.2 233.8,1837.6 235.6,1839.5 237.3,1841.8 239.1,1844.3 240.9,1847.1 242.7,1850.1 244.5,1853.1 246.3,1856.2 248.1,1859.2 249.9,1862.1 251.7,1864.7 253.5,1867.2 255.3,1869.4 257.1,1871.2 258.8,1872.6 260.6,1873.7 262.4,1874.4 264.2,1874.6 266.0,1874.4 267.8,1873.7 269.6,1872.6 271.4,1871.2 273.2,1869.4 275.0,1867.2 276.8,1864.7 278.6,1862.1 280.4,1859.2 282.1,1856.2 283.9,1853.1 285.7,1850.1 287.5,1847.1 289.3,1844.3 291.1,1841.8 292.9,1839.5 294.7,1837.6 296.5,1836.2 298.3,1835.3 300.1,1835.0 301.9,1835.3 303.7,1836.3 305.4,1838.1 307.2,1840.7 309.0,1844.2 310.8,1848.5 312.6,1853.7 314.4,1859.7 316.2,1866.7 318.0,1874.6 319.8,1883.3 321.6,1892.9 323.4,1903.2 325.2,1914.4 326.9,1926.2 328.7,1938.7 330.5,1951.7 332.3,1965.2 334.1,1979.1 335.9,1993.4 337.7,2007.8 339.5,2022.4 341.3,2037.0 343.1,2051.5 344.9,2065.8 346.7,2079.8 348.5,2093.4 350.2,2106.4 352.0,2118.9 353.8,2130.6 355.6,2141.5 357.4,2151.5 359.2,2160.5 361.0,2168.5 362.8,2175.4 364.6,2181.1 366.4,2185.6 368.2,2188.8 370.0,2190.7 371.8,2191.4 373.5,2190.7 375.3,2188.8 377.1,2185.6 378.9,2181.1 380.7,2175.4 382.5,2168.5 384.3,2160.5 386.1,2151.5 387.9,2141.5 389.7,2130.6 391.5,2118.9 393.3,2106.4 395.0,2093.4 396.8,2079.8 398.6,2065.8 400.4,2051.5 402.2,2037.0 404.0,2022.4 405.8,2007.8 407.6,1993.4 409.4,1979.1 411.2,1965.2 413.0,1951.7 414.8,1938.7 416.6,1926.2 418.3,1914.4 420.1,1903.2 421.9,1892.9 423.7,1883.3 425.5,1874.6 427.3,1866.7 429.1,1859.7 430.9,1853.7 432.7,1848.5 434.5,1844.2 436.3,1840.7 438.1,1838.1 439.8,1836.3 441.6,1835.3 443.4,1835.0 445.2,1835.3 447.0,1836.2 448.8,1837.6 450.6,1839.5 452.4,1841.8 454.2,1844.3 456.0,1847.1 457.8,1850.1 459.6,1853.1 461.4,1856.2 463.1,1859.2 464.9,1862.1 466.7,1864.7 468.5,1867.2 470.3,1869.4 472.1,1871.2 473.9,1872.6 475.7,1873.7 477.5,1874.4 479.3,1874.6 481.1,1874.4 482.9,1873.7 484.7,1872.6 486.4,1871.2 488.2,1869.4 490.0,1867.2 491.8,1864.7 493.6,1862.1 495.4,1859.2 497.2,1856.2 499.0,1853.1 500.8,1850.1 502.6,1847.1 504.4,1844.3 506.2,1841.8 507.9,1839.5 509.7,1837.6 511.5,1836.2 513.3,1835.3 515.1,1835.0 516.9,1835.3 518.7,1836.3 520.5,1838.1 522.3,1840.7 524.1,1844.2 525.9,1848.5 527.7,1853.7 529.5,1859.7 531.2,1866.7 533.0,1874.6 534.8,1883.3 536.6,1892.9 538.4,1903.2 540.2,1914.4 542.0,1926.2 543.8,1938.7 545.6,1951.7 547.4,1965.2 549.2,1979.1 551.0,1993.4 552.8,2007.8 554.5,2022.4 556.3,2037.0 558.1,2051.5 559.9,2065.8 561.7,2079.8 563.5,2093.4 565.3,2106.4 567.1,2118.9 568.9,2130.6 570.7,2141.5 572.5,2151.5 574.3,2160.5 576.0,2168.5 577.8,2175.4 579.6,2181.1 581.4,2185.6 583.2,2188.8 585.0,2190.7 586.8,2191.4 586.8,2191.4" fill="#008000" fill-opacity="0.2"/>
<polyline points="156.7,2191.4 158.5,2190.7 160.3,2188.8 162.1,2185.6 163.9,2181.1 165.7,2175.4 167.5,2168.5 169.2,2160.5 171.0,2151.5 172.8,2141.5 174.6,2130.6 176.4,2118.9 178.2,2106.4 180.0,2093.4 181.8,2079.8 183.6,2065.8 185.4,2051.5 187.2,2037.0 189.0,2022.4 190.7,2007.8 192.5,1993.4 194.3,1979.1 196.1,1965.2 197.9,1951.7 199.7,1938.7 201.5,1926.2 203.3,1914.4 205.1,1903.2 206.9,1892.9 208.7,1883.3 210.5,1874.6 212.3,1866.7 214.0,1859.7 215.8,1853.7 217.6,1848.5 219.4,1844.2 221.2,1840.7 223.0,1838.1 224.8,1836.3 226.6,1835.3 228.4,1835.0 230.2,1835.3 232.0,1836.2 233.8,1837.6 235.6,1839.5 237.3,1841.8 239.1,1844.3 240.9,1847.1 242.7,1850.1 244.5,1853.1 246.3,1856.2 248.1,1859.2 249.9,1862.1 251.7,1864.7 253.5,1867.2 255.3,1869.4 257.1,1871.2 258.8,1872.6 260.6,1873.7 262.4,1874.4 264.2,1874.6 266.0,1874.4 267.8,1873.7 269.6,1872.6 271.4,1871.2 273.2,1869.4 275.0,1867.2 276.8,1864.7 278.6,1862.1 280.4,1859.2 282.1,1856.2 283.9,1853.1 285.7,1850.1 287.5,1847.1 289.3,1844.3 291.1,1841.8 292.9,1839.5 294.7,1837.6 296.5,1836.2 298.3,1835.3 300.1,1835.0 301.9,1835.3 303.7,1836.3 305.4,1838.1 307.2,1840.7 309.0,1844.2 310.8,1848.5 312.6,1853.7 314.4,1859.7 316.2,1866.7 318.0,1874.6 319.8,1883.3 321.6,1892.9 323.4,1903.2 325.2,1914.4 326.9,1926.2 328.7,1938.7 330.5,1951.7 332.3,1965.2 334.1,1979.1 335.9,1993.4 337.7,2007.8 339.5,2022.4 341.3,2037.0 343.1,2051.5 344.9,2065.8 346.7,2079.8 348.5,2093.4 350.2,2106.4 352.0,2118.9 353.8,2130.6 355.6,2141.5 357.4,2151.5 359.2,2160.5 361.0,2168.5 362.8,2175.4 364.6,2181.1 366.4,2185.6 368.2,2188.8 370.0,2190.7 371.8,2191.4 373.5,2190.7 375.3,2188.8 377.1,2185.6 378.9,2181.1 380.7,2175.4 382.5,2168.5 384.3,2160.5 386.1,2151.5 387.9,2141.5 389.7,2130.6 391.5,2118.9 393.3,2106.4 395.0,2093.4 396.8,2079.8 398.6,2065.8 400.4,2051.5 402.2,2037.0 404.0,2022.4 405.8,2007.8 407.6,1993.4 409.4,1979.1 411.2,1965.2 413.0,1951.7 414.8,1938.7 416.6,1926.2 418.3,1914.4 420.1,1903.2 421.9,1892.9 423.7,1883.3 425.5,1874.6 427.3,1866.7 429.1,1859.7 430.9,1853.7 432.7,1848.5 434.5,1844.2 436.3,1840.7 438.1,1838.1 439.8,1836.3 441.6,1835.3 443.4,1835.0 445.2,1835.3 447.0,1836.2 448.8,1837.6 450.6,1839.5 452.4,1841.8 454.2,1844.3 456.0,1847.1 457.8,1850.1 459.6,1853.1 461.4,1856.2 463.1,1859.2 464.9,1862.1 466.7,1864.7 468.5,1867.2 470.3,1869.4 472.1,1871.2 473.9,1872.6 475.7,1873.7 477.5,1874.4 479.3,1874.6 481.1,1874.4 482.9,1873.7 484.7,1872.6 486.4,1871.2 488.2,1869.4 490.0,1867.2 491.8,1864.7 493.6,1862.1 495.4,1859.2 497.2,1856.2 499.0,1853.1 500.8,1850.1 502.6,1847.1 504.4,1844.3 506.2,1841.8 507.9,1839.5 509.7,1837.6 511.5,1836.2 513.3,1835.3 515.1,1835.0 516.9,1835.3 518.7,1836.3 520.5,1838.1 522.3,1840.7 524.1,1844.2 525.9,1848.5 527.7,1853.7 529.5,1859.7 531.2,1866.7 533.0,1874.6 534.8,1883.3 536.6,1892.9 538.4,1903.2 540.2,1914.4 542.0,1926.2 543.8,1938.7 545.6,1951.7 547.4,1965.2 549.2,1979.1 551.0,1993.4 552.8,2007.8 554.5,2022.4 556.3,2037.0 558.1,2051.5 559.9,2065.8 561.7,2079.8 563.5,2093.4 565.3,2106.4 567.1,2118.9 568.9,2130.6 570.7,2141.5 572.5,2151.5 574.3,2160.5 576.0,2168.5 577.8,2175.4 579.6,2181.1 581.4,2185.6 583.2,2188.8 585.0,2190.7 586.8,2191.4" fill="none" stroke="#008000" stroke-width="3.1" stroke-linejoin="round"/>
</g>
<rect x="156.7" y="1788.00" width="430.10" height="403.40" fill="none" stroke="#000" stroke-width="1.3"/>
<path d="M156.70 2191.40v16M264.22 2191.40v16M371.75 2191.40v16M479.27 2191.40v16M586.80 2191.40v16M210.46 2191.40v8M317.99 2191.40v8M425.51 2191.40v8M533.04 2191.40v8M156.70 2191.40h-16M156.70 1989.70h-16M156.70 1788.00h-16M156.70 2090.55h-8M156.70 1888.85h-8" stroke="#000" stroke-width="1.3" fill="none"/>
<text x="148.05" y="2241.90" font-size="37" font-family="Liberation Serif, serif">0</text>
<text x="255.08" y="2241.90" font-size="37" font-family="Liberation Serif, serif">1</text>
<text x="363.32" y="2241.90" font-size="37" font-family="Liberation Serif, serif">2</text>
<text x="470.48" y="2241.90" font-size="37" font-family="Liberation Serif, serif">3</text>
<text x="578.08" y="2241.90" font-size="37" font-family="Liberation Serif, serif">4</text>
<text x="111.11" y="2201.30" font-size="37" font-family="Liberation Serif, serif">0</text>
<text x="110.82" y="1999.60" font-size="37" font-family="Liberation Serif, serif">1</text>
<text x="111.73" y="1797.90" font-size="37" font-family="Liberation Serif, serif">2</text>
</g>
<g id="panel-h">
<rect x="817.85" y="1787.15" width="431.20" height="405.30" fill="#000"/>
<use href="#h2" transform="translate(818.70 1788.00) scale(.5)"/><use href="#h2" transform="translate(818.70 1989.70) scale(.5)"/><use href="#h2" transform="translate(1033.50 1788.00) scale(.5)"/><use href="#h2" transform="translate(1033.50 1989.70) scale(.5)"/>
<path d="M818.70 2191.40v16M926.10 2191.40v16M1033.50 2191.40v16M1140.90 2191.40v16M1248.30 2191.40v16M872.40 2191.40v8M979.80 2191.40v8M1087.20 2191.40v8M1194.60 2191.40v8M818.70 2191.40h-16M818.70 2090.55h-16M818.70 1989.70h-16M818.70 1888.85h-16M818.70 1788.00h-16M818.70 2166.19h-8M818.70 2140.97h-8M818.70 2115.76h-8M818.70 2065.34h-8M818.70 2040.12h-8M818.70 2014.91h-8M818.70 1964.49h-8M818.70 1939.27h-8M818.70 1914.06h-8M818.70 1863.64h-8M818.70 1838.42h-8M818.70 1813.21h-8" stroke="#000" stroke-width="1.3" fill="none"/>
<text x="810.05" y="2241.90" font-size="37" font-family="Liberation Serif, serif">0</text>
<text x="916.95" y="2241.90" font-size="37" font-family="Liberation Serif, serif">1</text>
<text x="1025.07" y="2241.90" font-size="37" font-family="Liberation Serif, serif">2</text>
<text x="1132.10" y="2241.90" font-size="37" font-family="Liberation Serif, serif">3</text>
<text x="1239.58" y="2241.90" font-size="37" font-family="Liberation Serif, serif">4</text>
<text x="773.11" y="2201.30" font-size="37" font-family="Liberation Serif, serif">0</text>
<text x="772.82" y="2100.45" font-size="37" font-family="Liberation Serif, serif">1</text>
<text x="773.74" y="1999.60" font-size="37" font-family="Liberation Serif, serif">2</text>
<text x="773.14" y="1898.75" font-size="37" font-family="Liberation Serif, serif">3</text>
<text x="772.26" y="1797.90" font-size="37" font-family="Liberation Serif, serif">4</text>
</g>
<g id="labels" fill="#000">
<g transform="translate(214.8 556.10)"><text transform="translate(-1.11 0.00) scale(1.0389 1.0000)" font-size="38.00" class="r">Pulse</text><text transform="translate(95.60 0.00) scale(1.0538 1.0000)" font-size="38.00" class="r">area,</text><text transform="translate(187.26 0.00) scale(0.9473 1.0000)" font-size="39.55" class="i">A</text><text transform="translate(212.78 1.13) scale(0.8375 1.0000)" font-size="42.12" class="r">(</text><text transform="translate(223.54 0.36) scale(1.2126 1.0999)" font-size="38.00" class="i" stroke="#fff" stroke-width="0.35">t</text><text transform="translate(238.49 12.58) scale(0.9186 1.0000)" font-size="21.74" class="r" stroke="#000" stroke-width="0.45">1</text><text transform="translate(250.08 1.13) scale(0.8283 1.0000)" font-size="42.12" class="r">)</text><text transform="translate(277.14 3.51) scale(0.5921 1.0000)" font-size="44.69" class="r">[</text><text transform="translate(285.36 0.01) scale(0.8876 1.0000)" font-size="39.23" class="bi">π</text><text transform="translate(304.78 3.51) scale(0.5720 1.0000)" font-size="44.69" class="r">]</text></g>
<g transform="translate(846.1 556.10)"><text x="-1.06" y="0.00" font-size="38.00" class="r">Emission</text><text transform="translate(153.65 0.00) scale(1.0265 1.0000)" font-size="38.00" class="r">time,</text><text transform="translate(248.06 0.00) scale(0.9473 1.0000)" font-size="39.55" class="i">A</text><text transform="translate(273.58 1.13) scale(0.8375 1.0000)" font-size="42.12" class="r">(</text><text transform="translate(284.34 0.36) scale(1.2126 1.0999)" font-size="38.00" class="i" stroke="#fff" stroke-width="0.35">t</text><text transform="translate(299.29 12.58) scale(0.9186 1.0000)" font-size="21.74" class="r" stroke="#000" stroke-width="0.45">1</text><text transform="translate(310.88 1.13) scale(0.8283 1.0000)" font-size="42.12" class="r">)</text><text transform="translate(337.94 3.51) scale(0.5921 1.0000)" font-size="44.69" class="r">[</text><text transform="translate(346.16 0.01) scale(0.8876 1.0000)" font-size="39.23" class="bi">π</text><text transform="translate(365.58 3.51) scale(0.5720 1.0000)" font-size="44.69" class="r">]</text></g>
<g transform="translate(30.0 330.60) rotate(-90)"><text transform="translate(2.11 0.18) scale(0.9736 1.0000)" font-size="36.70" class="i">p</text><text transform="translate(21.94 12.76) scale(1.0802 1.0000)" font-size="21.35" class="r" stroke="#000" stroke-width="0.45">3</text><text transform="translate(31.38 1.13) scale(0.8375 1.0000)" font-size="42.12" class="r">(</text><text transform="translate(42.14 0.36) scale(1.2126 1.0999)" font-size="38.00" class="i" stroke="#fff" stroke-width="0.35">t</text><text transform="translate(57.09 12.58) scale(0.9186 1.0000)" font-size="21.74" class="r" stroke="#000" stroke-width="0.45">1</text><text transform="translate(68.68 1.13) scale(0.8283 1.0000)" font-size="42.12" class="r">)</text><text transform="translate(95.74 3.51) scale(0.5921 1.0000)" font-size="44.69" class="r">[</text><text transform="translate(106.18 0.19) scale(1.4740 1.0000)" font-size="40.76" class="r">≈</text><text transform="translate(143.49 0.00) scale(0.8670 1.0000)" font-size="38.93" class="b">T</text><text transform="translate(165.18 3.51) scale(0.5720 1.0000)" font-size="44.69" class="r">]</text></g>
<g transform="translate(695.0 449.00) rotate(-90)"><text x="-1.06" y="0.00" font-size="38.00" class="r">Emission</text><text transform="translate(153.65 0.00) scale(1.0265 1.0000)" font-size="38.00" class="r">time,</text><text transform="translate(248.06 0.00) scale(0.9473 1.0000)" font-size="39.55" class="i">A</text><text transform="translate(273.58 1.13) scale(0.8375 1.0000)" font-size="42.12" class="r">(</text><text transform="translate(284.34 0.36) scale(1.2126 1.0999)" font-size="38.00" class="i" stroke="#fff" stroke-width="0.35">t</text><text transform="translate(298.77 12.58) scale(1.0271 1.0000)" font-size="21.68" class="r" stroke="#000" stroke-width="0.45">2</text><text transform="translate(310.88 1.13) scale(0.8283 1.0000)" font-size="42.12" class="r">)</text><text transform="translate(337.94 3.51) scale(0.5921 1.0000)" font-size="44.69" class="r">[</text><text transform="translate(346.16 0.01) scale(0.8876 1.0000)" font-size="39.23" class="bi">π</text><text transform="translate(365.58 3.51) scale(0.5720 1.0000)" font-size="44.69" class="r">]</text></g>
<g transform="translate(0 31.60)"><text transform="translate(-2.20 0.35) scale(0.8378 1.0000)" font-size="47.19" class="r">(</text><text transform="translate(11.73 -0.09) scale(1.2291 1.0000)" font-size="38.83" class="r">a</text><text transform="translate(33.43 0.35) scale(0.8378 1.0000)" font-size="47.19" class="r">)</text></g>
<g transform="translate(0 31.60)"><text transform="translate(659.30 0.35) scale(0.8378 1.0000)" font-size="47.19" class="r">(</text><text x="675.40" y="-0.12" font-size="42.47" class="r">b</text><text transform="translate(696.83 0.35) scale(0.8378 1.0000)" font-size="47.19" class="r">)</text></g>
<g transform="translate(214.8 1138.40)"><text transform="translate(-1.11 0.00) scale(1.0389 1.0000)" font-size="38.00" class="r">Pulse</text><text transform="translate(95.60 0.00) scale(1.0538 1.0000)" font-size="38.00" class="r">area,</text><text transform="translate(187.26 0.00) scale(0.9473 1.0000)" font-size="39.55" class="i">A</text><text transform="translate(212.78 1.13) scale(0.8375 1.0000)" font-size="42.12" class="r">(</text><text transform="translate(223.54 0.36) scale(1.2126 1.0999)" font-size="38.00" class="i" stroke="#fff" stroke-width="0.35">t</text><text transform="translate(238.49 12.58) scale(0.9186 1.0000)" font-size="21.74" class="r" stroke="#000" stroke-width="0.45">1</text><text transform="translate(250.08 1.13) scale(0.8283 1.0000)" font-size="42.12" class="r">)</text><text transform="translate(277.14 3.51) scale(0.5921 1.0000)" font-size="44.69" class="r">[</text><text transform="translate(285.36 0.01) scale(0.8876 1.0000)" font-size="39.23" class="bi">π</text><text transform="translate(304.78 3.51) scale(0.5720 1.0000)" font-size="44.69" class="r">]</text></g>
<g transform="translate(846.1 1138.40)"><text x="-1.06" y="0.00" font-size="38.00" class="r">Emission</text><text transform="translate(153.65 0.00) scale(1.0265 1.0000)" font-size="38.00" class="r">time,</text><text transform="translate(248.06 0.00) scale(0.9473 1.0000)" font-size="39.55" class="i">A</text><text transform="translate(273.58 1.13) scale(0.8375 1.0000)" font-size="42.12" class="r">(</text><text transform="translate(284.34 0.36) scale(1.2126 1.0999)" font-size="38.00" class="i" stroke="#fff" stroke-width="0.35">t</text><text transform="translate(299.29 12.58) scale(0.9186 1.0000)" font-size="21.74" class="r" stroke="#000" stroke-width="0.45">1</text><text transform="translate(310.88 1.13) scale(0.8283 1.0000)" font-size="42.12" class="r">)</text><text transform="translate(337.94 3.51) scale(0.5921 1.0000)" font-size="44.69" class="r">[</text><text transform="translate(346.16 0.01) scale(0.8876 1.0000)" font-size="39.23" class="bi">π</text><text transform="translate(365.58 3.51) scale(0.5720 1.0000)" font-size="44.69" class="r">]</text></g>
<g transform="translate(30.0 912.90) rotate(-90)"><text transform="translate(2.11 0.18) scale(0.9736 1.0000)" font-size="36.70" class="i">p</text><text transform="translate(21.94 12.76) scale(1.0802 1.0000)" font-size="21.35" class="r" stroke="#000" stroke-width="0.45">3</text><text transform="translate(31.38 1.13) scale(0.8375 1.0000)" font-size="42.12" class="r">(</text><text transform="translate(42.14 0.36) scale(1.2126 1.0999)" font-size="38.00" class="i" stroke="#fff" stroke-width="0.35">t</text><text transform="translate(57.09 12.58) scale(0.9186 1.0000)" font-size="21.74" class="r" stroke="#000" stroke-width="0.45">1</text><text transform="translate(68.68 1.13) scale(0.8283 1.0000)" font-size="42.12" class="r">)</text><text transform="translate(95.74 3.51) scale(0.5921 1.0000)" font-size="44.69" class="r">[</text><text transform="translate(106.18 0.19) scale(1.4740 1.0000)" font-size="40.76" class="r">≈</text><text transform="translate(143.49 0.00) scale(0.8670 1.0000)" font-size="38.93" class="b">T</text><text transform="translate(165.18 3.51) scale(0.5720 1.0000)" font-size="44.69" class="r">]</text></g>
<g transform="translate(695.0 1031.30) rotate(-90)"><text x="-1.06" y="0.00" font-size="38.00" class="r">Emission</text><text transform="translate(153.65 0.00) scale(1.0265 1.0000)" font-size="38.00" class="r">time,</text><text transform="translate(248.06 0.00) scale(0.9473 1.0000)" font-size="39.55" class="i">A</text><text transform="translate(273.58 1.13) scale(0.8375 1.0000)" font-size="42.12" class="r">(</text><text transform="translate(284.34 0.36) scale(1.2126 1.0999)" font-size="38.00" class="i" stroke="#fff" stroke-width="0.35">t</text><text transform="translate(298.77 12.58) scale(1.0271 1.0000)" font-size="21.68" class="r" stroke="#000" stroke-width="0.45">2</text><text transform="translate(310.88 1.13) scale(0.8283 1.0000)" font-size="42.12" class="r">)</text><text transform="translate(337.94 3.51) scale(0.5921 1.0000)" font-size="44.69" class="r">[</text><text transform="translate(346.16 0.01) scale(0.8876 1.0000)" font-size="39.23" class="bi">π</text><text transform="translate(365.58 3.51) scale(0.5720 1.0000)" font-size="44.69" class="r">]</text></g>
<g transform="translate(0 613.90)"><text transform="translate(-2.20 0.35) scale(0.8378 1.0000)" font-size="47.19" class="r">(</text><text transform="translate(11.37 -0.09) scale(1.1073 1.0000)" font-size="38.67" class="r">c</text><text transform="translate(30.83 0.35) scale(0.8378 1.0000)" font-size="47.19" class="r">)</text></g>
<g transform="translate(0 613.90)"><text transform="translate(659.30 0.35) scale(0.8378 1.0000)" font-size="47.19" class="r">(</text><text transform="translate(672.84 -0.13) scale(1.0763 1.0000)" font-size="42.76" class="r">d</text><text transform="translate(696.83 0.35) scale(0.8378 1.0000)" font-size="47.19" class="r">)</text></g>
<g transform="translate(214.8 1720.70)"><text transform="translate(-1.11 0.00) scale(1.0389 1.0000)" font-size="38.00" class="r">Pulse</text><text transform="translate(95.60 0.00) scale(1.0538 1.0000)" font-size="38.00" class="r">area,</text><text transform="translate(187.26 0.00) scale(0.9473 1.0000)" font-size="39.55" class="i">A</text><text transform="translate(212.78 1.13) scale(0.8375 1.0000)" font-size="42.12" class="r">(</text><text transform="translate(223.54 0.36) scale(1.2126 1.0999)" font-size="38.00" class="i" stroke="#fff" stroke-width="0.35">t</text><text transform="translate(238.49 12.58) scale(0.9186 1.0000)" font-size="21.74" class="r" stroke="#000" stroke-width="0.45">1</text><text transform="translate(250.08 1.13) scale(0.8283 1.0000)" font-size="42.12" class="r">)</text><text transform="translate(277.14 3.51) scale(0.5921 1.0000)" font-size="44.69" class="r">[</text><text transform="translate(285.36 0.01) scale(0.8876 1.0000)" font-size="39.23" class="bi">π</text><text transform="translate(304.78 3.51) scale(0.5720 1.0000)" font-size="44.69" class="r">]</text></g>
<g transform="translate(846.1 1720.70)"><text x="-1.06" y="0.00" font-size="38.00" class="r">Emission</text><text transform="translate(153.65 0.00) scale(1.0265 1.0000)" font-size="38.00" class="r">time,</text><text transform="translate(248.06 0.00) scale(0.9473 1.0000)" font-size="39.55" class="i">A</text><text transform="translate(273.58 1.13) scale(0.8375 1.0000)" font-size="42.12" class="r">(</text><text transform="translate(284.34 0.36) scale(1.2126 1.0999)" font-size="38.00" class="i" stroke="#fff" stroke-width="0.35">t</text><text transform="translate(299.29 12.58) scale(0.9186 1.0000)" font-size="21.74" class="r" stroke="#000" stroke-width="0.45">1</text><text transform="translate(310.88 1.13) scale(0.8283 1.0000)" font-size="42.12" class="r">)</text><text transform="translate(337.94 3.51) scale(0.5921 1.0000)" font-size="44.69" class="r">[</text><text transform="translate(346.16 0.01) scale(0.8876 1.0000)" font-size="39.23" class="bi">π</text><text transform="translate(365.58 3.51) scale(0.5720 1.0000)" font-size="44.69" class="r">]</text></g>
<g transform="translate(30.0 1495.20) rotate(-90)"><text transform="translate(2.11 0.18) scale(0.9736 1.0000)" font-size="36.70" class="i">p</text><text transform="translate(21.94 12.76) scale(1.0802 1.0000)" font-size="21.35" class="r" stroke="#000" stroke-width="0.45">3</text><text transform="translate(31.38 1.13) scale(0.8375 1.0000)" font-size="42.12" class="r">(</text><text transform="translate(42.14 0.36) scale(1.2126 1.0999)" font-size="38.00" class="i" stroke="#fff" stroke-width="0.35">t</text><text transform="translate(57.09 12.58) scale(0.9186 1.0000)" font-size="21.74" class="r" stroke="#000" stroke-width="0.45">1</text><text transform="translate(68.68 1.13) scale(0.8283 1.0000)" font-size="42.12" class="r">)</text><text transform="translate(95.74 3.51) scale(0.5921 1.0000)" font-size="44.69" class="r">[</text><text transform="translate(106.18 0.19) scale(1.4740 1.0000)" font-size="40.76" class="r">≈</text><text transform="translate(143.49 0.00) scale(0.8670 1.0000)" font-size="38.93" class="b">T</text><text transform="translate(165.18 3.51) scale(0.5720 1.0000)" font-size="44.69" class="r">]</text></g>
<g transform="translate(695.0 1613.60) rotate(-90)"><text x="-1.06" y="0.00" font-size="38.00" class="r">Emission</text><text transform="translate(153.65 0.00) scale(1.0265 1.0000)" font-size="38.00" class="r">time,</text><text transform="translate(248.06 0.00) scale(0.9473 1.0000)" font-size="39.55" class="i">A</text><text transform="translate(273.58 1.13) scale(0.8375 1.0000)" font-size="42.12" class="r">(</text><text transform="translate(284.34 0.36) scale(1.2126 1.0999)" font-size="38.00" class="i" stroke="#fff" stroke-width="0.35">t</text><text transform="translate(298.77 12.58) scale(1.0271 1.0000)" font-size="21.68" class="r" stroke="#000" stroke-width="0.45">2</text><text transform="translate(310.88 1.13) scale(0.8283 1.0000)" font-size="42.12" class="r">)</text><text transform="translate(337.94 3.51) scale(0.5921 1.0000)" font-size="44.69" class="r">[</text><text transform="translate(346.16 0.01) scale(0.8876 1.0000)" font-size="39.23" class="bi">π</text><text transform="translate(365.58 3.51) scale(0.5720 1.0000)" font-size="44.69" class="r">]</text></g>
<g transform="translate(0 1196.20)"><text transform="translate(-2.20 0.35) scale(0.8378 1.0000)" font-size="47.19" class="r">(</text><text transform="translate(11.29 -0.09) scale(1.1362 1.0000)" font-size="38.67" class="r">e</text><text transform="translate(30.83 0.35) scale(0.8378 1.0000)" font-size="47.19" class="r">)</text></g>
<g transform="translate(0 1196.20)"><text transform="translate(659.30 0.35) scale(0.8378 1.0000)" font-size="47.19" class="r">(</text><text transform="translate(672.87 0.00) scale(1.0491 1.0000)" font-size="42.33" class="r">f</text><text transform="translate(686.43 0.35) scale(0.8378 1.0000)" font-size="47.19" class="r">)</text></g>
<g transform="translate(214.8 2303.00)"><text transform="translate(-1.11 0.00) scale(1.0389 1.0000)" font-size="38.00" class="r">Pulse</text><text transform="translate(95.60 0.00) scale(1.0538 1.0000)" font-size="38.00" class="r">area,</text><text transform="translate(187.26 0.00) scale(0.9473 1.0000)" font-size="39.55" class="i">A</text><text transform="translate(212.78 1.13) scale(0.8375 1.0000)" font-size="42.12" class="r">(</text><text transform="translate(223.54 0.36) scale(1.2126 1.0999)" font-size="38.00" class="i" stroke="#fff" stroke-width="0.35">t</text><text transform="translate(238.49 12.58) scale(0.9186 1.0000)" font-size="21.74" class="r" stroke="#000" stroke-width="0.45">1</text><text transform="translate(250.08 1.13) scale(0.8283 1.0000)" font-size="42.12" class="r">)</text><text transform="translate(277.14 3.51) scale(0.5921 1.0000)" font-size="44.69" class="r">[</text><text transform="translate(285.36 0.01) scale(0.8876 1.0000)" font-size="39.23" class="bi">π</text><text transform="translate(304.78 3.51) scale(0.5720 1.0000)" font-size="44.69" class="r">]</text></g>
<g transform="translate(846.1 2303.00)"><text x="-1.06" y="0.00" font-size="38.00" class="r">Emission</text><text transform="translate(153.65 0.00) scale(1.0265 1.0000)" font-size="38.00" class="r">time,</text><text transform="translate(248.06 0.00) scale(0.9473 1.0000)" font-size="39.55" class="i">A</text><text transform="translate(273.58 1.13) scale(0.8375 1.0000)" font-size="42.12" class="r">(</text><text transform="translate(284.34 0.36) scale(1.2126 1.0999)" font-size="38.00" class="i" stroke="#fff" stroke-width="0.35">t</text><text transform="translate(299.29 12.58) scale(0.9186 1.0000)" font-size="21.74" class="r" stroke="#000" stroke-width="0.45">1</text><text transform="translate(310.88 1.13) scale(0.8283 1.0000)" font-size="42.12" class="r">)</text><text transform="translate(337.94 3.51) scale(0.5921 1.0000)" font-size="44.69" class="r">[</text><text transform="translate(346.16 0.01) scale(0.8876 1.0000)" font-size="39.23" class="bi">π</text><text transform="translate(365.58 3.51) scale(0.5720 1.0000)" font-size="44.69" class="r">]</text></g>
<g transform="translate(30.0 2077.50) rotate(-90)"><text transform="translate(2.11 0.18) scale(0.9736 1.0000)" font-size="36.70" class="i">p</text><text transform="translate(21.94 12.76) scale(1.0802 1.0000)" font-size="21.35" class="r" stroke="#000" stroke-width="0.45">3</text><text transform="translate(31.38 1.13) scale(0.8375 1.0000)" font-size="42.12" class="r">(</text><text transform="translate(42.14 0.36) scale(1.2126 1.0999)" font-size="38.00" class="i" stroke="#fff" stroke-width="0.35">t</text><text transform="translate(57.09 12.58) scale(0.9186 1.0000)" font-size="21.74" class="r" stroke="#000" stroke-width="0.45">1</text><text transform="translate(68.68 1.13) scale(0.8283 1.0000)" font-size="42.12" class="r">)</text><text transform="translate(95.74 3.51) scale(0.5921 1.0000)" font-size="44.69" class="r">[</text><text transform="translate(106.18 0.19) scale(1.4740 1.0000)" font-size="40.76" class="r">≈</text><text transform="translate(143.49 0.00) scale(0.8670 1.0000)" font-size="38.93" class="b">T</text><text transform="translate(165.18 3.51) scale(0.5720 1.0000)" font-size="44.69" class="r">]</text></g>
<g transform="translate(695.0 2195.90) rotate(-90)"><text x="-1.06" y="0.00" font-size="38.00" class="r">Emission</text><text transform="translate(153.65 0.00) scale(1.0265 1.0000)" font-size="38.00" class="r">time,</text><text transform="translate(248.06 0.00) scale(0.9473 1.0000)" font-size="39.55" class="i">A</text><text transform="translate(273.58 1.13) scale(0.8375 1.0000)" font-size="42.12" class="r">(</text><text transform="translate(284.34 0.36) scale(1.2126 1.0999)" font-size="38.00" class="i" stroke="#fff" stroke-width="0.35">t</text><text transform="translate(298.77 12.58) scale(1.0271 1.0000)" font-size="21.68" class="r" stroke="#000" stroke-width="0.45">2</text><text transform="translate(310.88 1.13) scale(0.8283 1.0000)" font-size="42.12" class="r">)</text><text transform="translate(337.94 3.51) scale(0.5921 1.0000)" font-size="44.69" class="r">[</text><text transform="translate(346.16 0.01) scale(0.8876 1.0000)" font-size="39.23" class="bi">π</text><text transform="translate(365.58 3.51) scale(0.5720 1.0000)" font-size="44.69" class="r">]</text></g>
<g transform="translate(0 1778.50)"><text transform="translate(-2.20 0.35) scale(0.8378 1.0000)" font-size="47.19" class="r">(</text><text transform="translate(10.95 -0.12) scale(1.1697 1.0000)" font-size="37.59" class="r">g</text><text transform="translate(33.43 0.35) scale(0.8378 1.0000)" font-size="47.19" class="r">)</text></g>
<g transform="translate(0 1778.50)"><text transform="translate(659.30 0.35) scale(0.8378 1.0000)" font-size="47.19" class="r">(</text><text transform="translate(673.80 0.00) scale(1.0350 1.0000)" font-size="42.65" class="r">h</text><text transform="translate(696.83 0.35) scale(0.8378 1.0000)" font-size="47.19" class="r">)</text></g>
</g>
</svg>
</body></html>
